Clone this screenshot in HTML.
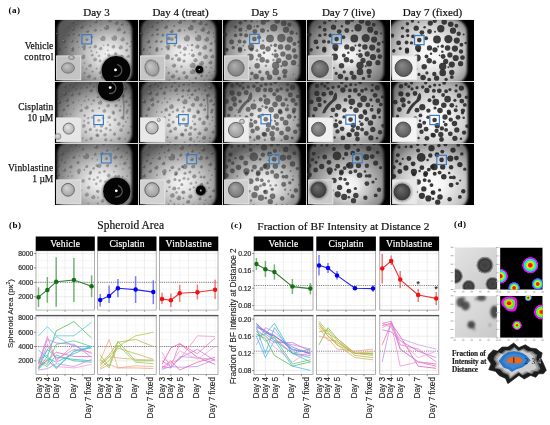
<!DOCTYPE html>
<html><head><meta charset="utf-8"><style>
html,body{margin:0;padding:0;background:#fff;width:550px;height:425px;overflow:hidden}
svg{display:block;will-change:transform}
</style></head><body>
<svg width="550" height="425" viewBox="0 0 550 425">
<defs><filter id="blf" x="-30%" y="-30%" width="160%" height="160%"><feGaussianBlur stdDeviation="1.3"/></filter><filter id="bl3" x="-30%" y="-30%" width="160%" height="160%"><feGaussianBlur stdDeviation="3"/></filter><filter id="bl25" x="-30%" y="-30%" width="160%" height="160%"><feGaussianBlur stdDeviation="2.5"/></filter><filter id="bl1" x="-30%" y="-30%" width="160%" height="160%"><feGaussianBlur stdDeviation="0.8"/></filter><filter id="bl05" x="-30%" y="-30%" width="160%" height="160%"><feGaussianBlur stdDeviation="0.45"/></filter><filter id="blh" x="-50%" y="-50%" width="200%" height="200%"><feGaussianBlur stdDeviation="1.2"/></filter><clipPath id="c00"><rect x="0" y="0" width="83" height="61"/></clipPath><radialGradient id="g00" gradientUnits="userSpaceOnUse" cx="54" cy="35" r="50" gradientTransform="translate(54 35) scale(1 0.84) translate(-54 -35)"><stop offset="0" stop-color="#f4f4f4"/><stop offset="0.2" stop-color="#e6e6e6"/><stop offset="0.45" stop-color="#c4c4c4"/><stop offset="0.75" stop-color="#8e8e8e"/><stop offset="1" stop-color="#585858"/></radialGradient><radialGradient id="sp000" cx="0.5" cy="0.5" r="0.55" fx="0.38" fy="0.32"><stop offset="0" stop-color="#c6c6c6"/><stop offset="0.65" stop-color="#a4a4a4"/><stop offset="1" stop-color="#8e8e8e"/></radialGradient><radialGradient id="sp001" cx="0.5" cy="0.5" r="0.55" fx="0.38" fy="0.32"><stop offset="0" stop-color="#cccccc"/><stop offset="0.65" stop-color="#aaaaaa"/><stop offset="1" stop-color="#949494"/></radialGradient><clipPath id="c01"><rect x="0" y="0" width="83" height="61"/></clipPath><radialGradient id="g01" gradientUnits="userSpaceOnUse" cx="45" cy="34" r="50" gradientTransform="translate(45 34) scale(1 0.84) translate(-45 -34)"><stop offset="0" stop-color="#f4f4f4"/><stop offset="0.2" stop-color="#e6e6e6"/><stop offset="0.45" stop-color="#c4c4c4"/><stop offset="0.75" stop-color="#8e8e8e"/><stop offset="1" stop-color="#585858"/></radialGradient><radialGradient id="sp010" cx="0.5" cy="0.5" r="0.55" fx="0.38" fy="0.32"><stop offset="0" stop-color="#cacaca"/><stop offset="0.65" stop-color="#a8a8a8"/><stop offset="1" stop-color="#929292"/></radialGradient><clipPath id="c02"><rect x="0" y="0" width="83" height="61"/></clipPath><radialGradient id="g02" gradientUnits="userSpaceOnUse" cx="42" cy="35" r="50" gradientTransform="translate(42 35) scale(1 0.84) translate(-42 -35)"><stop offset="0" stop-color="#f4f4f4"/><stop offset="0.2" stop-color="#e6e6e6"/><stop offset="0.45" stop-color="#c4c4c4"/><stop offset="0.75" stop-color="#8e8e8e"/><stop offset="1" stop-color="#585858"/></radialGradient><radialGradient id="sp020" cx="0.5" cy="0.5" r="0.55" fx="0.38" fy="0.32"><stop offset="0" stop-color="#b0b0b0"/><stop offset="0.65" stop-color="#8e8e8e"/><stop offset="1" stop-color="#787878"/></radialGradient><clipPath id="c03"><rect x="0" y="0" width="83" height="61"/></clipPath><radialGradient id="g03" gradientUnits="userSpaceOnUse" cx="40" cy="35" r="48" gradientTransform="translate(40 35) scale(1 0.875) translate(-40 -35)"><stop offset="0" stop-color="#f8f8f8"/><stop offset="0.18" stop-color="#eeeeee"/><stop offset="0.5" stop-color="#b4b4b4"/><stop offset="0.8" stop-color="#848484"/><stop offset="1" stop-color="#5a5a5a"/></radialGradient><radialGradient id="sp030" cx="0.5" cy="0.5" r="0.55" fx="0.38" fy="0.32"><stop offset="0" stop-color="#8c8c8c"/><stop offset="0.65" stop-color="#6a6a6a"/><stop offset="1" stop-color="#545454"/></radialGradient><clipPath id="c04"><rect x="0" y="0" width="83" height="61"/></clipPath><radialGradient id="g04" gradientUnits="userSpaceOnUse" cx="40" cy="32" r="48" gradientTransform="translate(40 32) scale(1 0.9166666666666666) translate(-40 -32)"><stop offset="0" stop-color="#fcfcfc"/><stop offset="0.25" stop-color="#f4f4f4"/><stop offset="0.65" stop-color="#cacaca"/><stop offset="0.9" stop-color="#9a9a9a"/><stop offset="1" stop-color="#7a7a7a"/></radialGradient><radialGradient id="sp040" cx="0.5" cy="0.5" r="0.55" fx="0.38" fy="0.32"><stop offset="0" stop-color="#8a8a8a"/><stop offset="0.65" stop-color="#686868"/><stop offset="1" stop-color="#525252"/></radialGradient><clipPath id="c10"><rect x="0" y="0" width="83" height="61"/></clipPath><radialGradient id="g10" gradientUnits="userSpaceOnUse" cx="46" cy="40" r="50" gradientTransform="translate(46 40) scale(1 0.84) translate(-46 -40)"><stop offset="0" stop-color="#f4f4f4"/><stop offset="0.2" stop-color="#e6e6e6"/><stop offset="0.45" stop-color="#c4c4c4"/><stop offset="0.75" stop-color="#8e8e8e"/><stop offset="1" stop-color="#585858"/></radialGradient><radialGradient id="sp100" cx="0.5" cy="0.5" r="0.55" fx="0.38" fy="0.32"><stop offset="0" stop-color="#e6e6e6"/><stop offset="0.65" stop-color="#c4c4c4"/><stop offset="1" stop-color="#aeaeae"/></radialGradient><radialGradient id="sp101" cx="0.5" cy="0.5" r="0.55" fx="0.38" fy="0.32"><stop offset="0" stop-color="#e2e2e2"/><stop offset="0.65" stop-color="#c0c0c0"/><stop offset="1" stop-color="#aaaaaa"/></radialGradient><clipPath id="c11"><rect x="0" y="0" width="83" height="61"/></clipPath><radialGradient id="g11" gradientUnits="userSpaceOnUse" cx="43" cy="38" r="50" gradientTransform="translate(43 38) scale(1 0.84) translate(-43 -38)"><stop offset="0" stop-color="#f4f4f4"/><stop offset="0.2" stop-color="#e6e6e6"/><stop offset="0.45" stop-color="#c4c4c4"/><stop offset="0.75" stop-color="#8e8e8e"/><stop offset="1" stop-color="#585858"/></radialGradient><radialGradient id="sp110" cx="0.5" cy="0.5" r="0.55" fx="0.38" fy="0.32"><stop offset="0" stop-color="#dedede"/><stop offset="0.65" stop-color="#bcbcbc"/><stop offset="1" stop-color="#a6a6a6"/></radialGradient><radialGradient id="sp111" cx="0.5" cy="0.5" r="0.55" fx="0.38" fy="0.32"><stop offset="0" stop-color="#dddddd"/><stop offset="0.65" stop-color="#bbb"/><stop offset="1" stop-color="#a5a5a5"/></radialGradient><clipPath id="c12"><rect x="0" y="0" width="83" height="61"/></clipPath><radialGradient id="g12" gradientUnits="userSpaceOnUse" cx="42" cy="38" r="50" gradientTransform="translate(42 38) scale(1 0.84) translate(-42 -38)"><stop offset="0" stop-color="#f4f4f4"/><stop offset="0.2" stop-color="#e6e6e6"/><stop offset="0.45" stop-color="#c4c4c4"/><stop offset="0.75" stop-color="#8e8e8e"/><stop offset="1" stop-color="#585858"/></radialGradient><radialGradient id="sp120" cx="0.5" cy="0.5" r="0.55" fx="0.38" fy="0.32"><stop offset="0" stop-color="#cacaca"/><stop offset="0.65" stop-color="#a8a8a8"/><stop offset="1" stop-color="#929292"/></radialGradient><radialGradient id="sp121" cx="0.5" cy="0.5" r="0.55" fx="0.38" fy="0.32"><stop offset="0" stop-color="#dddddd"/><stop offset="0.65" stop-color="#bbb"/><stop offset="1" stop-color="#a5a5a5"/></radialGradient><clipPath id="c13"><rect x="0" y="0" width="83" height="61"/></clipPath><radialGradient id="g13" gradientUnits="userSpaceOnUse" cx="43" cy="38" r="48" gradientTransform="translate(43 38) scale(1 0.875) translate(-43 -38)"><stop offset="0" stop-color="#f8f8f8"/><stop offset="0.18" stop-color="#eeeeee"/><stop offset="0.5" stop-color="#b4b4b4"/><stop offset="0.8" stop-color="#848484"/><stop offset="1" stop-color="#5a5a5a"/></radialGradient><radialGradient id="sp130" cx="0.5" cy="0.5" r="0.55" fx="0.38" fy="0.32"><stop offset="0" stop-color="#9c9c9c"/><stop offset="0.65" stop-color="#7a7a7a"/><stop offset="1" stop-color="#646464"/></radialGradient><clipPath id="c14"><rect x="0" y="0" width="83" height="61"/></clipPath><radialGradient id="g14" gradientUnits="userSpaceOnUse" cx="45" cy="37" r="48" gradientTransform="translate(45 37) scale(1 0.9166666666666666) translate(-45 -37)"><stop offset="0" stop-color="#fcfcfc"/><stop offset="0.25" stop-color="#f4f4f4"/><stop offset="0.65" stop-color="#cacaca"/><stop offset="0.9" stop-color="#9a9a9a"/><stop offset="1" stop-color="#7a7a7a"/></radialGradient><radialGradient id="sp140" cx="0.5" cy="0.5" r="0.55" fx="0.38" fy="0.32"><stop offset="0" stop-color="#8c8c8c"/><stop offset="0.65" stop-color="#6a6a6a"/><stop offset="1" stop-color="#545454"/></radialGradient><clipPath id="c20"><rect x="0" y="0" width="83" height="61"/></clipPath><radialGradient id="g20" gradientUnits="userSpaceOnUse" cx="45" cy="37" r="50" gradientTransform="translate(45 37) scale(1 0.84) translate(-45 -37)"><stop offset="0" stop-color="#f4f4f4"/><stop offset="0.2" stop-color="#e6e6e6"/><stop offset="0.45" stop-color="#c4c4c4"/><stop offset="0.75" stop-color="#8e8e8e"/><stop offset="1" stop-color="#585858"/></radialGradient><radialGradient id="sp200" cx="0.5" cy="0.5" r="0.55" fx="0.38" fy="0.32"><stop offset="0" stop-color="#d6d6d6"/><stop offset="0.65" stop-color="#b4b4b4"/><stop offset="1" stop-color="#9e9e9e"/></radialGradient><clipPath id="c21"><rect x="0" y="0" width="83" height="61"/></clipPath><radialGradient id="g21" gradientUnits="userSpaceOnUse" cx="42" cy="39" r="50" gradientTransform="translate(42 39) scale(1 0.84) translate(-42 -39)"><stop offset="0" stop-color="#f4f4f4"/><stop offset="0.2" stop-color="#e6e6e6"/><stop offset="0.45" stop-color="#c4c4c4"/><stop offset="0.75" stop-color="#8e8e8e"/><stop offset="1" stop-color="#585858"/></radialGradient><radialGradient id="sp210" cx="0.5" cy="0.5" r="0.55" fx="0.38" fy="0.32"><stop offset="0" stop-color="#cecece"/><stop offset="0.65" stop-color="#acacac"/><stop offset="1" stop-color="#969696"/></radialGradient><clipPath id="c22"><rect x="0" y="0" width="83" height="61"/></clipPath><radialGradient id="g22" gradientUnits="userSpaceOnUse" cx="42" cy="41" r="50" gradientTransform="translate(42 41) scale(1 0.84) translate(-42 -41)"><stop offset="0" stop-color="#f4f4f4"/><stop offset="0.2" stop-color="#e6e6e6"/><stop offset="0.45" stop-color="#c4c4c4"/><stop offset="0.75" stop-color="#8e8e8e"/><stop offset="1" stop-color="#585858"/></radialGradient><radialGradient id="sp220" cx="0.5" cy="0.5" r="0.55" fx="0.38" fy="0.32"><stop offset="0" stop-color="#a7a7a7"/><stop offset="0.65" stop-color="#858585"/><stop offset="1" stop-color="#6f6f6f"/></radialGradient><clipPath id="c23"><rect x="0" y="0" width="83" height="61"/></clipPath><radialGradient id="g23" gradientUnits="userSpaceOnUse" cx="42" cy="41" r="48" gradientTransform="translate(42 41) scale(1 0.875) translate(-42 -41)"><stop offset="0" stop-color="#f8f8f8"/><stop offset="0.18" stop-color="#eeeeee"/><stop offset="0.5" stop-color="#b4b4b4"/><stop offset="0.8" stop-color="#848484"/><stop offset="1" stop-color="#5a5a5a"/></radialGradient><radialGradient id="sp231" cx="0.5" cy="0.5" r="0.55" fx="0.38" fy="0.32"><stop offset="0" stop-color="#6e6e6e"/><stop offset="0.65" stop-color="#4c4c4c"/><stop offset="1" stop-color="#363636"/></radialGradient><clipPath id="c24"><rect x="0" y="0" width="83" height="61"/></clipPath><radialGradient id="g24" gradientUnits="userSpaceOnUse" cx="42" cy="40" r="48" gradientTransform="translate(42 40) scale(1 0.9166666666666666) translate(-42 -40)"><stop offset="0" stop-color="#fcfcfc"/><stop offset="0.25" stop-color="#f4f4f4"/><stop offset="0.65" stop-color="#cacaca"/><stop offset="0.9" stop-color="#9a9a9a"/><stop offset="1" stop-color="#7a7a7a"/></radialGradient><radialGradient id="sp241" cx="0.5" cy="0.5" r="0.55" fx="0.38" fy="0.32"><stop offset="0" stop-color="#6c6c6c"/><stop offset="0.65" stop-color="#4a4a4a"/><stop offset="1" stop-color="#343434"/></radialGradient><clipPath id="dc1"><rect x="454.8" y="247.3" width="42.3" height="42.2"/></clipPath><clipPath id="dc2"><rect x="500.1" y="247.5" width="42.6" height="42.2"/></clipPath><clipPath id="dc3"><rect x="454.8" y="295.8" width="42.3" height="42"/></clipPath><clipPath id="dc4"><rect x="500.1" y="295.8" width="42.6" height="42"/></clipPath><linearGradient id="bfbg" x1="0" y1="0" x2="1" y2="1"><stop offset="0" stop-color="#e4e4e4"/><stop offset="1" stop-color="#c8c8c8"/></linearGradient><radialGradient id="sph"><stop offset="0" stop-color="#3c3c3c"/><stop offset="0.5" stop-color="#484848"/><stop offset="0.72" stop-color="#353535"/><stop offset="0.84" stop-color="#5a5a5a"/><stop offset="0.92" stop-color="#909090"/><stop offset="1" stop-color="#707070"/></radialGradient><radialGradient id="heatA"><stop offset="0" stop-color="#ff0000"/><stop offset="0.22" stop-color="#ff2000"/><stop offset="0.35" stop-color="#ffe000"/><stop offset="0.5" stop-color="#80ff30"/><stop offset="0.62" stop-color="#00f0c0"/><stop offset="0.75" stop-color="#00e8ff"/><stop offset="0.82" stop-color="#ff00ff"/><stop offset="0.97" stop-color="#ff00ff"/><stop offset="1" stop-color="#ff00ff" stop-opacity="0"/></radialGradient><radialGradient id="heatB"><stop offset="0" stop-color="#ff0000"/><stop offset="0.25" stop-color="#ff3000"/><stop offset="0.4" stop-color="#f0f000"/><stop offset="0.55" stop-color="#60ff40"/><stop offset="0.72" stop-color="#00e0ff"/><stop offset="0.85" stop-color="#6040ff"/><stop offset="0.97" stop-color="#8040ff"/><stop offset="1" stop-color="#8040ff" stop-opacity="0"/></radialGradient><radialGradient id="heatC"><stop offset="0" stop-color="#ff0000"/><stop offset="0.2" stop-color="#ff4000"/><stop offset="0.38" stop-color="#e0f000"/><stop offset="0.55" stop-color="#40ff40"/><stop offset="0.7" stop-color="#30ff60"/><stop offset="0.78" stop-color="#ff00ff"/><stop offset="0.97" stop-color="#ff00ff"/><stop offset="1" stop-color="#ff00ff" stop-opacity="0"/></radialGradient></defs>
<rect x="54.6" y="19.6" width="419" height="185.6" fill="#d4d4d4"/>
<text x="8.6" y="13.4" font-family="Liberation Serif, serif" font-weight="bold" font-size="9" letter-spacing="0.5">(a)</text>
<text x="96.5" y="16" font-family="Liberation Serif, serif" font-size="11" text-anchor="middle" fill="#111" stroke="#111" stroke-width="0.22">Day 3</text>
<text x="180.5" y="16" font-family="Liberation Serif, serif" font-size="11" text-anchor="middle" fill="#111" stroke="#111" stroke-width="0.22">Day 4 (treat)</text>
<text x="264.5" y="16" font-family="Liberation Serif, serif" font-size="11" text-anchor="middle" fill="#111" stroke="#111" stroke-width="0.22">Day 5</text>
<text x="348.5" y="16" font-family="Liberation Serif, serif" font-size="11" text-anchor="middle" fill="#111" stroke="#111" stroke-width="0.22">Day 7 (live)</text>
<text x="432.5" y="16" font-family="Liberation Serif, serif" font-size="11" text-anchor="middle" fill="#111" stroke="#111" stroke-width="0.22">Day 7 (fixed)</text>
<text x="53.30" y="48.6" font-family="Liberation Serif, serif" font-size="9.5" text-anchor="end" letter-spacing="0" fill="#1a1a1a" stroke="#1a1a1a" stroke-width="0.25">Vehicle</text>
<text x="53.65" y="59.7" font-family="Liberation Serif, serif" font-size="9.5" text-anchor="end" letter-spacing="0.35" fill="#1a1a1a" stroke="#1a1a1a" stroke-width="0.25">control</text>
<text x="53.40" y="110.2" font-family="Liberation Serif, serif" font-size="9.5" text-anchor="end" letter-spacing="0.1" fill="#1a1a1a" stroke="#1a1a1a" stroke-width="0.25">Cisplatin</text>
<text x="53.30" y="121.3" font-family="Liberation Serif, serif" font-size="9.5" text-anchor="end" letter-spacing="0" fill="#1a1a1a" stroke="#1a1a1a" stroke-width="0.25">10 µM</text>
<text x="53.50" y="171.4" font-family="Liberation Serif, serif" font-size="9.5" text-anchor="end" letter-spacing="0.2" fill="#1a1a1a" stroke="#1a1a1a" stroke-width="0.25">Vinblastine</text>
<text x="53.30" y="182" font-family="Liberation Serif, serif" font-size="9.5" text-anchor="end" letter-spacing="0" fill="#1a1a1a" stroke="#1a1a1a" stroke-width="0.25">1 µM</text>
<g transform="translate(55 20)" clip-path="url(#c00)">
<rect x="0" y="0" width="83" height="61" fill="#000"/>
<rect x="2.2" y="-2" width="74.6" height="66" rx="12" fill="url(#g00)" filter="url(#blf)"/>
<g filter="url(#bl05)"><circle cx="3.8" cy="0.1" r="0.63" fill="#303030" fill-opacity="0.29"/><circle cx="3.3" cy="-0.3" r="0.27" fill="#fff" fill-opacity="0.32"/><circle cx="34.8" cy="0.3" r="0.80" fill="#303030" fill-opacity="0.29"/><circle cx="34.3" cy="-0.2" r="0.34" fill="#fff" fill-opacity="0.32"/><circle cx="7.2" cy="4.6" r="0.64" fill="#303030" fill-opacity="0.29"/><circle cx="6.8" cy="4.2" r="0.27" fill="#fff" fill-opacity="0.32"/><circle cx="21.8" cy="4.2" r="0.80" fill="#303030" fill-opacity="0.29"/><circle cx="21.3" cy="3.7" r="0.33" fill="#fff" fill-opacity="0.32"/><circle cx="30.9" cy="4.1" r="0.77" fill="#303030" fill-opacity="0.29"/><circle cx="30.4" cy="3.6" r="0.32" fill="#fff" fill-opacity="0.32"/><circle cx="45.9" cy="4.0" r="0.70" fill="#303030" fill-opacity="0.29"/><circle cx="45.5" cy="3.5" r="0.30" fill="#fff" fill-opacity="0.32"/><circle cx="72.4" cy="4.7" r="0.77" fill="#303030" fill-opacity="0.29"/><circle cx="71.9" cy="4.2" r="0.32" fill="#fff" fill-opacity="0.32"/><circle cx="9.9" cy="8.9" r="0.65" fill="#303030" fill-opacity="0.29"/><circle cx="9.5" cy="8.4" r="0.27" fill="#fff" fill-opacity="0.32"/><circle cx="74.8" cy="9.6" r="0.92" fill="#303030" fill-opacity="0.29"/><circle cx="74.2" cy="9.0" r="0.39" fill="#fff" fill-opacity="0.32"/><circle cx="19.8" cy="18.2" r="0.72" fill="#303030" fill-opacity="0.29"/><circle cx="19.4" cy="17.7" r="0.30" fill="#fff" fill-opacity="0.32"/><circle cx="26.9" cy="21.9" r="0.77" fill="#303030" fill-opacity="0.29"/><circle cx="26.4" cy="21.4" r="0.32" fill="#fff" fill-opacity="0.32"/><circle cx="36.6" cy="22.0" r="1.15" fill="#303030" fill-opacity="0.29"/><circle cx="35.9" cy="21.2" r="0.48" fill="#fff" fill-opacity="0.32"/><circle cx="23.8" cy="27.0" r="0.85" fill="#303030" fill-opacity="0.29"/><circle cx="23.2" cy="26.5" r="0.36" fill="#fff" fill-opacity="0.32"/><circle cx="34.9" cy="27.2" r="1.27" fill="#303030" fill-opacity="0.29"/><circle cx="34.1" cy="26.4" r="0.53" fill="#fff" fill-opacity="0.32"/><circle cx="74.8" cy="26.4" r="0.91" fill="#303030" fill-opacity="0.29"/><circle cx="74.2" cy="25.8" r="0.38" fill="#fff" fill-opacity="0.32"/><circle cx="36.3" cy="30.9" r="1.07" fill="#303030" fill-opacity="0.29"/><circle cx="35.6" cy="30.2" r="0.45" fill="#fff" fill-opacity="0.32"/><circle cx="43.9" cy="35.8" r="1.38" fill="#303030" fill-opacity="0.29"/><circle cx="43.0" cy="34.9" r="0.58" fill="#fff" fill-opacity="0.32"/><circle cx="29.5" cy="43.1" r="1.01" fill="#303030" fill-opacity="0.29"/><circle cx="28.9" cy="42.4" r="0.42" fill="#fff" fill-opacity="0.32"/><circle cx="31.3" cy="48.8" r="1.12" fill="#303030" fill-opacity="0.29"/><circle cx="30.5" cy="48.1" r="0.47" fill="#fff" fill-opacity="0.32"/><circle cx="41.6" cy="48.6" r="1.15" fill="#303030" fill-opacity="0.29"/><circle cx="40.8" cy="47.9" r="0.48" fill="#fff" fill-opacity="0.32"/><circle cx="28.9" cy="61.7" r="0.62" fill="#303030" fill-opacity="0.29"/><circle cx="28.5" cy="61.3" r="0.26" fill="#fff" fill-opacity="0.32"/><circle cx="44.3" cy="61.7" r="0.89" fill="#303030" fill-opacity="0.29"/><circle cx="43.7" cy="61.1" r="0.37" fill="#fff" fill-opacity="0.32"/><circle cx="74.4" cy="62.0" r="0.79" fill="#303030" fill-opacity="0.29"/><circle cx="73.9" cy="61.4" r="0.33" fill="#fff" fill-opacity="0.32"/><circle cx="23.1" cy="-0.2" r="1.18" fill="#303030" fill-opacity="0.36"/><circle cx="22.4" cy="-0.9" r="0.44" fill="#fff" fill-opacity="0.32"/><circle cx="18.1" cy="2.5" r="1.18" fill="#303030" fill-opacity="0.36"/><circle cx="17.4" cy="1.8" r="0.44" fill="#fff" fill-opacity="0.32"/><circle cx="29.1" cy="0.9" r="0.71" fill="#303030" fill-opacity="0.36"/><circle cx="28.7" cy="0.5" r="0.26" fill="#fff" fill-opacity="0.32"/><circle cx="41.0" cy="1.8" r="1.80" fill="#303030" fill-opacity="0.36"/><circle cx="40.0" cy="0.8" r="0.68" fill="#fff" fill-opacity="0.32"/><circle cx="26.9" cy="6.9" r="1.80" fill="#303030" fill-opacity="0.36"/><circle cx="25.9" cy="5.9" r="0.68" fill="#fff" fill-opacity="0.32"/><circle cx="35.2" cy="5.9" r="0.86" fill="#303030" fill-opacity="0.36"/><circle cx="34.7" cy="5.4" r="0.32" fill="#fff" fill-opacity="0.32"/><circle cx="13.1" cy="6.6" r="1.10" fill="#303030" fill-opacity="0.36"/><circle cx="12.5" cy="6.0" r="0.41" fill="#fff" fill-opacity="0.32"/><circle cx="18.1" cy="9.4" r="1.33" fill="#303030" fill-opacity="0.36"/><circle cx="17.3" cy="8.6" r="0.50" fill="#fff" fill-opacity="0.32"/><circle cx="32.6" cy="11.3" r="1.65" fill="#303030" fill-opacity="0.36"/><circle cx="31.7" cy="10.4" r="0.62" fill="#fff" fill-opacity="0.32"/><circle cx="40.2" cy="10.2" r="1.65" fill="#303030" fill-opacity="0.36"/><circle cx="39.3" cy="9.3" r="0.62" fill="#fff" fill-opacity="0.32"/><circle cx="2.8" cy="14.3" r="1.49" fill="#303030" fill-opacity="0.36"/><circle cx="1.9" cy="13.4" r="0.56" fill="#fff" fill-opacity="0.32"/><circle cx="13.2" cy="15.1" r="1.18" fill="#303030" fill-opacity="0.36"/><circle cx="12.5" cy="14.4" r="0.44" fill="#fff" fill-opacity="0.32"/><circle cx="18.4" cy="14.2" r="1.10" fill="#303030" fill-opacity="0.36"/><circle cx="17.8" cy="13.6" r="0.41" fill="#fff" fill-opacity="0.32"/><circle cx="23.8" cy="15.1" r="1.33" fill="#303030" fill-opacity="0.36"/><circle cx="23.0" cy="14.3" r="0.50" fill="#fff" fill-opacity="0.32"/><circle cx="36.8" cy="17.0" r="1.33" fill="#303030" fill-opacity="0.36"/><circle cx="36.0" cy="16.2" r="0.50" fill="#fff" fill-opacity="0.32"/><circle cx="9.3" cy="21.6" r="1.65" fill="#303030" fill-opacity="0.36"/><circle cx="8.4" cy="20.7" r="0.62" fill="#fff" fill-opacity="0.32"/><circle cx="17.3" cy="21.2" r="1.33" fill="#303030" fill-opacity="0.36"/><circle cx="16.5" cy="20.4" r="0.50" fill="#fff" fill-opacity="0.32"/><circle cx="22.2" cy="21.6" r="1.18" fill="#303030" fill-opacity="0.36"/><circle cx="21.5" cy="20.9" r="0.44" fill="#fff" fill-opacity="0.32"/><circle cx="28.9" cy="26.7" r="2.12" fill="#303030" fill-opacity="0.36"/><circle cx="27.7" cy="25.5" r="0.79" fill="#fff" fill-opacity="0.32"/><circle cx="40.2" cy="26.6" r="1.80" fill="#303030" fill-opacity="0.36"/><circle cx="39.2" cy="25.6" r="0.68" fill="#fff" fill-opacity="0.32"/><circle cx="10.8" cy="27.2" r="1.10" fill="#303030" fill-opacity="0.36"/><circle cx="10.2" cy="26.6" r="0.41" fill="#fff" fill-opacity="0.32"/><circle cx="17.7" cy="28.5" r="1.49" fill="#303030" fill-opacity="0.36"/><circle cx="16.8" cy="27.6" r="0.56" fill="#fff" fill-opacity="0.32"/><circle cx="4.6" cy="28.8" r="0.86" fill="#303030" fill-opacity="0.36"/><circle cx="4.1" cy="28.3" r="0.32" fill="#fff" fill-opacity="0.32"/><circle cx="45.4" cy="-0.5" r="1.49" fill="#303030" fill-opacity="0.36"/><circle cx="44.5" cy="-1.4" r="0.56" fill="#fff" fill-opacity="0.32"/><circle cx="55.0" cy="0.7" r="1.88" fill="#303030" fill-opacity="0.36"/><circle cx="53.9" cy="-0.4" r="0.71" fill="#fff" fill-opacity="0.32"/><circle cx="61.5" cy="3.0" r="1.88" fill="#303030" fill-opacity="0.36"/><circle cx="60.4" cy="1.9" r="0.71" fill="#fff" fill-opacity="0.32"/><circle cx="67.1" cy="4.4" r="1.33" fill="#303030" fill-opacity="0.36"/><circle cx="66.3" cy="3.6" r="0.50" fill="#fff" fill-opacity="0.32"/><circle cx="51.6" cy="7.6" r="2.51" fill="#303030" fill-opacity="0.36"/><circle cx="50.2" cy="6.2" r="0.94" fill="#fff" fill-opacity="0.32"/><circle cx="63.8" cy="9.5" r="2.12" fill="#303030" fill-opacity="0.36"/><circle cx="62.6" cy="8.3" r="0.79" fill="#fff" fill-opacity="0.32"/><circle cx="45.6" cy="10.4" r="0.71" fill="#303030" fill-opacity="0.36"/><circle cx="45.2" cy="10.0" r="0.26" fill="#fff" fill-opacity="0.32"/><circle cx="69.4" cy="12.4" r="1.49" fill="#303030" fill-opacity="0.36"/><circle cx="68.5" cy="11.5" r="0.56" fill="#fff" fill-opacity="0.32"/><circle cx="74.3" cy="13.1" r="0.71" fill="#303030" fill-opacity="0.36"/><circle cx="73.9" cy="12.7" r="0.26" fill="#fff" fill-opacity="0.32"/><circle cx="47.9" cy="18.4" r="2.67" fill="#303030" fill-opacity="0.36"/><circle cx="46.3" cy="16.8" r="1.00" fill="#fff" fill-opacity="0.32"/><circle cx="59.3" cy="18.0" r="2.82" fill="#303030" fill-opacity="0.36"/><circle cx="57.6" cy="16.3" r="1.06" fill="#fff" fill-opacity="0.32"/><circle cx="67.6" cy="19.4" r="2.12" fill="#303030" fill-opacity="0.36"/><circle cx="66.4" cy="18.2" r="0.79" fill="#fff" fill-opacity="0.32"/><circle cx="72.1" cy="23.5" r="1.33" fill="#303030" fill-opacity="0.36"/><circle cx="71.3" cy="22.7" r="0.50" fill="#fff" fill-opacity="0.32"/><circle cx="53.0" cy="25.0" r="1.18" fill="#303030" fill-opacity="0.36"/><circle cx="52.3" cy="24.3" r="0.44" fill="#fff" fill-opacity="0.32"/><circle cx="48.7" cy="25.2" r="0.71" fill="#303030" fill-opacity="0.36"/><circle cx="48.3" cy="24.8" r="0.26" fill="#fff" fill-opacity="0.32"/><circle cx="58.4" cy="26.7" r="1.88" fill="#303030" fill-opacity="0.36"/><circle cx="57.3" cy="25.6" r="0.71" fill="#fff" fill-opacity="0.32"/><circle cx="65.7" cy="27.4" r="2.12" fill="#303030" fill-opacity="0.36"/><circle cx="64.5" cy="26.2" r="0.79" fill="#fff" fill-opacity="0.32"/><circle cx="45.7" cy="28.5" r="1.80" fill="#303030" fill-opacity="0.36"/><circle cx="44.7" cy="27.5" r="0.68" fill="#fff" fill-opacity="0.32"/><circle cx="76.2" cy="21.5" r="0.86" fill="#303030" fill-opacity="0.36"/><circle cx="75.7" cy="21.0" r="0.32" fill="#fff" fill-opacity="0.32"/><circle cx="4.4" cy="29.8" r="1.18" fill="#303030" fill-opacity="0.36"/><circle cx="3.7" cy="29.1" r="0.44" fill="#fff" fill-opacity="0.32"/><circle cx="17.7" cy="30.2" r="1.49" fill="#303030" fill-opacity="0.36"/><circle cx="16.8" cy="29.3" r="0.56" fill="#fff" fill-opacity="0.32"/><circle cx="29.2" cy="29.1" r="1.33" fill="#303030" fill-opacity="0.36"/><circle cx="28.4" cy="28.3" r="0.50" fill="#fff" fill-opacity="0.32"/><circle cx="28.1" cy="36.8" r="2.35" fill="#303030" fill-opacity="0.36"/><circle cx="26.8" cy="35.5" r="0.88" fill="#fff" fill-opacity="0.32"/><circle cx="37.2" cy="35.2" r="1.33" fill="#303030" fill-opacity="0.36"/><circle cx="36.4" cy="34.4" r="0.50" fill="#fff" fill-opacity="0.32"/><circle cx="41.6" cy="32.4" r="0.86" fill="#303030" fill-opacity="0.36"/><circle cx="41.1" cy="31.9" r="0.32" fill="#fff" fill-opacity="0.32"/><circle cx="40.0" cy="39.5" r="1.88" fill="#303030" fill-opacity="0.36"/><circle cx="38.9" cy="38.4" r="0.71" fill="#fff" fill-opacity="0.32"/><circle cx="35.0" cy="45.6" r="1.88" fill="#303030" fill-opacity="0.36"/><circle cx="33.9" cy="44.5" r="0.71" fill="#fff" fill-opacity="0.32"/><circle cx="37.5" cy="51.5" r="1.10" fill="#303030" fill-opacity="0.36"/><circle cx="36.9" cy="50.9" r="0.41" fill="#fff" fill-opacity="0.32"/><circle cx="29.5" cy="53.0" r="1.10" fill="#303030" fill-opacity="0.36"/><circle cx="28.9" cy="52.4" r="0.41" fill="#fff" fill-opacity="0.32"/><circle cx="33.9" cy="56.3" r="1.88" fill="#303030" fill-opacity="0.36"/><circle cx="32.8" cy="55.2" r="0.71" fill="#fff" fill-opacity="0.32"/><circle cx="39.9" cy="58.5" r="1.33" fill="#303030" fill-opacity="0.36"/><circle cx="39.1" cy="57.7" r="0.50" fill="#fff" fill-opacity="0.32"/><circle cx="27.2" cy="47.6" r="0.63" fill="#303030" fill-opacity="0.36"/><circle cx="26.8" cy="47.2" r="0.24" fill="#fff" fill-opacity="0.32"/><circle cx="52.9" cy="30.3" r="0.86" fill="#303030" fill-opacity="0.36"/><circle cx="52.4" cy="29.8" r="0.32" fill="#fff" fill-opacity="0.32"/><circle cx="60.6" cy="33.7" r="1.80" fill="#303030" fill-opacity="0.36"/><circle cx="59.6" cy="32.7" r="0.68" fill="#fff" fill-opacity="0.32"/><circle cx="71.7" cy="30.2" r="1.49" fill="#303030" fill-opacity="0.36"/><circle cx="70.8" cy="29.3" r="0.56" fill="#fff" fill-opacity="0.32"/><circle cx="53.8" cy="35.2" r="1.65" fill="#303030" fill-opacity="0.36"/><circle cx="52.9" cy="34.3" r="0.62" fill="#fff" fill-opacity="0.32"/><circle cx="66.5" cy="36.8" r="2.12" fill="#303030" fill-opacity="0.36"/><circle cx="65.3" cy="35.6" r="0.79" fill="#fff" fill-opacity="0.32"/><circle cx="73.2" cy="36.3" r="1.65" fill="#303030" fill-opacity="0.36"/><circle cx="72.3" cy="35.4" r="0.62" fill="#fff" fill-opacity="0.32"/><circle cx="45.0" cy="40.9" r="1.33" fill="#303030" fill-opacity="0.36"/><circle cx="44.2" cy="40.1" r="0.50" fill="#fff" fill-opacity="0.32"/><circle cx="56.4" cy="40.2" r="1.80" fill="#303030" fill-opacity="0.36"/><circle cx="55.4" cy="39.2" r="0.68" fill="#fff" fill-opacity="0.32"/><circle cx="62.6" cy="43.3" r="2.12" fill="#303030" fill-opacity="0.36"/><circle cx="61.4" cy="42.1" r="0.79" fill="#fff" fill-opacity="0.32"/><circle cx="71.3" cy="42.4" r="1.80" fill="#303030" fill-opacity="0.36"/><circle cx="70.3" cy="41.4" r="0.68" fill="#fff" fill-opacity="0.32"/><circle cx="53.5" cy="45.2" r="2.51" fill="#303030" fill-opacity="0.36"/><circle cx="52.1" cy="43.8" r="0.94" fill="#fff" fill-opacity="0.32"/><circle cx="59.0" cy="45.8" r="0.71" fill="#303030" fill-opacity="0.36"/><circle cx="58.6" cy="45.4" r="0.26" fill="#fff" fill-opacity="0.32"/><circle cx="53.5" cy="51.7" r="2.27" fill="#303030" fill-opacity="0.36"/><circle cx="52.2" cy="50.4" r="0.85" fill="#fff" fill-opacity="0.32"/><circle cx="62.5" cy="51.2" r="1.80" fill="#303030" fill-opacity="0.36"/><circle cx="61.5" cy="50.2" r="0.68" fill="#fff" fill-opacity="0.32"/><circle cx="45.0" cy="52.7" r="1.49" fill="#303030" fill-opacity="0.36"/><circle cx="44.1" cy="51.8" r="0.56" fill="#fff" fill-opacity="0.32"/><circle cx="62.5" cy="55.8" r="1.33" fill="#303030" fill-opacity="0.36"/><circle cx="61.7" cy="55.0" r="0.50" fill="#fff" fill-opacity="0.32"/><circle cx="47.3" cy="56.9" r="1.80" fill="#303030" fill-opacity="0.36"/><circle cx="46.3" cy="55.9" r="0.68" fill="#fff" fill-opacity="0.32"/><circle cx="56.8" cy="58.1" r="1.18" fill="#303030" fill-opacity="0.36"/><circle cx="56.1" cy="57.4" r="0.44" fill="#fff" fill-opacity="0.32"/><circle cx="50.2" cy="33.9" r="0.63" fill="#303030" fill-opacity="0.36"/><circle cx="49.8" cy="33.5" r="0.24" fill="#fff" fill-opacity="0.32"/><circle cx="31.9" cy="19.5" r="1.57" fill="#303030" fill-opacity="0.36"/><circle cx="31.0" cy="18.6" r="0.59" fill="#fff" fill-opacity="0.32"/></g>
<circle cx="61" cy="50.4" r="15.1" fill="#000" fill-opacity="0.5" filter="url(#bl1)"/>
<circle cx="61" cy="50.4" r="14.5" fill="#050505"/>
<circle cx="61" cy="50.4" r="15.0" fill="none" stroke="#9a9a9a" stroke-width="0.7" stroke-opacity="0.6" filter="url(#bl05)"/>
<path d="M62.22 44.31 A6.09 6.09 0 0 1 59.17 56.19" fill="none" stroke="#555" stroke-width="1.3" filter="url(#bl05)"/>
<circle cx="60.5" cy="49.9" r="1.4" fill="#fff" filter="url(#bl05)"/>
<rect x="26.900000000000002" y="14.7" width="9.6" height="9.2" fill="none" stroke="#3d7cc4" stroke-width="1.2"/>
<g><rect x="1.6" y="35.9" width="24.2" height="23.9" fill="#c4c4c4" stroke="#e6e6e6" stroke-width="0.9"/>
<ellipse cx="13" cy="48" rx="6.5" ry="5.2" transform="rotate(0 13 48)" fill="url(#sp000)" stroke="#7a7a7a" stroke-width="0.9" filter="url(#bl05)"/>
<ellipse cx="16.5" cy="37.5" rx="3" ry="2" transform="rotate(0 16.5 37.5)" fill="url(#sp001)" stroke="#888" stroke-width="0.9" filter="url(#bl05)"/>
</g>
</g>
<g transform="translate(139 20)" clip-path="url(#c01)">
<rect x="0" y="0" width="83" height="61" fill="#000"/>
<rect x="2.2" y="-2" width="74.6" height="66" rx="12" fill="url(#g01)" filter="url(#blf)"/>
<g filter="url(#bl05)"><circle cx="3.3" cy="3.3" r="0.59" fill="#303030" fill-opacity="0.34"/><circle cx="2.9" cy="2.9" r="0.25" fill="#fff" fill-opacity="0.32"/><circle cx="8.3" cy="2.9" r="0.78" fill="#303030" fill-opacity="0.34"/><circle cx="7.8" cy="2.4" r="0.33" fill="#fff" fill-opacity="0.32"/><circle cx="72.7" cy="2.9" r="0.59" fill="#303030" fill-opacity="0.34"/><circle cx="72.3" cy="2.6" r="0.25" fill="#fff" fill-opacity="0.32"/><circle cx="5.7" cy="8.6" r="0.70" fill="#303030" fill-opacity="0.34"/><circle cx="5.2" cy="8.2" r="0.29" fill="#fff" fill-opacity="0.32"/><circle cx="9.6" cy="7.6" r="0.70" fill="#303030" fill-opacity="0.34"/><circle cx="9.1" cy="7.2" r="0.29" fill="#fff" fill-opacity="0.32"/><circle cx="70.9" cy="7.8" r="0.72" fill="#303030" fill-opacity="0.34"/><circle cx="70.4" cy="7.4" r="0.30" fill="#fff" fill-opacity="0.32"/><circle cx="8.0" cy="12.4" r="0.75" fill="#303030" fill-opacity="0.34"/><circle cx="7.5" cy="11.9" r="0.31" fill="#fff" fill-opacity="0.32"/><circle cx="56.9" cy="12.1" r="1.14" fill="#303030" fill-opacity="0.34"/><circle cx="56.1" cy="11.3" r="0.48" fill="#fff" fill-opacity="0.32"/><circle cx="74.8" cy="16.9" r="0.81" fill="#303030" fill-opacity="0.34"/><circle cx="74.2" cy="16.4" r="0.34" fill="#fff" fill-opacity="0.32"/><circle cx="5.8" cy="25.6" r="0.57" fill="#303030" fill-opacity="0.34"/><circle cx="5.5" cy="25.2" r="0.24" fill="#fff" fill-opacity="0.32"/><circle cx="35.8" cy="25.4" r="1.37" fill="#303030" fill-opacity="0.34"/><circle cx="34.9" cy="24.5" r="0.58" fill="#fff" fill-opacity="0.32"/><circle cx="8.2" cy="30.3" r="0.64" fill="#303030" fill-opacity="0.34"/><circle cx="7.8" cy="29.9" r="0.27" fill="#fff" fill-opacity="0.32"/><circle cx="22.8" cy="29.1" r="1.11" fill="#303030" fill-opacity="0.34"/><circle cx="22.1" cy="28.4" r="0.46" fill="#fff" fill-opacity="0.32"/><circle cx="10.5" cy="33.8" r="0.82" fill="#303030" fill-opacity="0.34"/><circle cx="9.9" cy="33.2" r="0.34" fill="#fff" fill-opacity="0.32"/><circle cx="45.6" cy="34.7" r="1.54" fill="#303030" fill-opacity="0.34"/><circle cx="44.6" cy="33.7" r="0.65" fill="#fff" fill-opacity="0.32"/><circle cx="33.3" cy="38.7" r="1.50" fill="#303030" fill-opacity="0.34"/><circle cx="32.3" cy="37.7" r="0.63" fill="#fff" fill-opacity="0.32"/><circle cx="42.4" cy="46.7" r="1.40" fill="#303030" fill-opacity="0.34"/><circle cx="41.5" cy="45.8" r="0.59" fill="#fff" fill-opacity="0.32"/><circle cx="67.1" cy="47.0" r="1.04" fill="#303030" fill-opacity="0.34"/><circle cx="66.4" cy="46.4" r="0.44" fill="#fff" fill-opacity="0.32"/><circle cx="72.2" cy="47.5" r="0.89" fill="#303030" fill-opacity="0.34"/><circle cx="71.6" cy="46.9" r="0.37" fill="#fff" fill-opacity="0.32"/><circle cx="70.2" cy="52.2" r="0.96" fill="#303030" fill-opacity="0.34"/><circle cx="69.6" cy="51.5" r="0.40" fill="#fff" fill-opacity="0.32"/><circle cx="75.3" cy="51.4" r="0.76" fill="#303030" fill-opacity="0.34"/><circle cx="74.8" cy="50.9" r="0.32" fill="#fff" fill-opacity="0.32"/><circle cx="67.6" cy="55.8" r="0.95" fill="#303030" fill-opacity="0.34"/><circle cx="67.0" cy="55.2" r="0.40" fill="#fff" fill-opacity="0.32"/><circle cx="73.0" cy="55.4" r="0.79" fill="#303030" fill-opacity="0.34"/><circle cx="72.5" cy="54.9" r="0.33" fill="#fff" fill-opacity="0.32"/><circle cx="30.4" cy="60.1" r="0.94" fill="#303030" fill-opacity="0.34"/><circle cx="29.8" cy="59.4" r="0.40" fill="#fff" fill-opacity="0.32"/><circle cx="35.1" cy="61.0" r="0.76" fill="#303030" fill-opacity="0.34"/><circle cx="34.6" cy="60.5" r="0.32" fill="#fff" fill-opacity="0.32"/><circle cx="50.3" cy="61.0" r="0.89" fill="#303030" fill-opacity="0.34"/><circle cx="49.7" cy="60.4" r="0.37" fill="#fff" fill-opacity="0.32"/><circle cx="65.0" cy="60.1" r="0.93" fill="#303030" fill-opacity="0.34"/><circle cx="64.4" cy="59.5" r="0.39" fill="#fff" fill-opacity="0.32"/><circle cx="69.9" cy="59.7" r="0.86" fill="#303030" fill-opacity="0.34"/><circle cx="69.3" cy="59.1" r="0.36" fill="#fff" fill-opacity="0.32"/><circle cx="75.5" cy="60.4" r="0.64" fill="#303030" fill-opacity="0.34"/><circle cx="75.1" cy="60.0" r="0.27" fill="#fff" fill-opacity="0.32"/><circle cx="23.1" cy="-0.2" r="1.34" fill="#303030" fill-opacity="0.42"/><circle cx="22.3" cy="-1.0" r="0.50" fill="#fff" fill-opacity="0.32"/><circle cx="18.1" cy="2.5" r="1.34" fill="#303030" fill-opacity="0.42"/><circle cx="17.3" cy="1.7" r="0.50" fill="#fff" fill-opacity="0.32"/><circle cx="29.1" cy="0.9" r="0.81" fill="#303030" fill-opacity="0.42"/><circle cx="28.6" cy="0.4" r="0.30" fill="#fff" fill-opacity="0.32"/><circle cx="41.1" cy="1.9" r="2.06" fill="#303030" fill-opacity="0.42"/><circle cx="39.9" cy="0.7" r="0.77" fill="#fff" fill-opacity="0.32"/><circle cx="27.0" cy="7.0" r="2.06" fill="#303030" fill-opacity="0.42"/><circle cx="25.8" cy="5.8" r="0.77" fill="#fff" fill-opacity="0.32"/><circle cx="35.2" cy="5.9" r="0.99" fill="#303030" fill-opacity="0.42"/><circle cx="34.7" cy="5.4" r="0.37" fill="#fff" fill-opacity="0.32"/><circle cx="13.2" cy="6.7" r="1.25" fill="#303030" fill-opacity="0.42"/><circle cx="12.4" cy="5.9" r="0.47" fill="#fff" fill-opacity="0.32"/><circle cx="18.1" cy="9.4" r="1.52" fill="#303030" fill-opacity="0.42"/><circle cx="17.2" cy="8.5" r="0.57" fill="#fff" fill-opacity="0.32"/><circle cx="32.7" cy="11.4" r="1.88" fill="#303030" fill-opacity="0.42"/><circle cx="31.6" cy="10.3" r="0.71" fill="#fff" fill-opacity="0.32"/><circle cx="40.3" cy="10.3" r="1.88" fill="#303030" fill-opacity="0.42"/><circle cx="39.2" cy="9.2" r="0.71" fill="#fff" fill-opacity="0.32"/><circle cx="2.8" cy="14.3" r="1.70" fill="#303030" fill-opacity="0.42"/><circle cx="1.8" cy="13.3" r="0.64" fill="#fff" fill-opacity="0.32"/><circle cx="13.2" cy="15.1" r="1.34" fill="#303030" fill-opacity="0.42"/><circle cx="12.4" cy="14.3" r="0.50" fill="#fff" fill-opacity="0.32"/><circle cx="18.5" cy="14.3" r="1.25" fill="#303030" fill-opacity="0.42"/><circle cx="17.7" cy="13.5" r="0.47" fill="#fff" fill-opacity="0.32"/><circle cx="23.8" cy="15.1" r="1.52" fill="#303030" fill-opacity="0.42"/><circle cx="22.9" cy="14.2" r="0.57" fill="#fff" fill-opacity="0.32"/><circle cx="29.7" cy="18.3" r="1.88" fill="#303030" fill-opacity="0.42"/><circle cx="28.6" cy="17.2" r="0.71" fill="#fff" fill-opacity="0.32"/><circle cx="36.8" cy="17.0" r="1.52" fill="#303030" fill-opacity="0.42"/><circle cx="35.9" cy="16.1" r="0.57" fill="#fff" fill-opacity="0.32"/><circle cx="9.4" cy="21.7" r="1.88" fill="#303030" fill-opacity="0.42"/><circle cx="8.3" cy="20.6" r="0.71" fill="#fff" fill-opacity="0.32"/><circle cx="17.3" cy="21.2" r="1.52" fill="#303030" fill-opacity="0.42"/><circle cx="16.4" cy="20.3" r="0.57" fill="#fff" fill-opacity="0.32"/><circle cx="22.2" cy="21.6" r="1.34" fill="#303030" fill-opacity="0.42"/><circle cx="21.4" cy="20.8" r="0.50" fill="#fff" fill-opacity="0.32"/><circle cx="28.9" cy="26.7" r="2.42" fill="#303030" fill-opacity="0.42"/><circle cx="27.5" cy="25.3" r="0.91" fill="#fff" fill-opacity="0.32"/><circle cx="40.3" cy="26.7" r="2.06" fill="#303030" fill-opacity="0.42"/><circle cx="39.1" cy="25.5" r="0.77" fill="#fff" fill-opacity="0.32"/><circle cx="10.9" cy="27.3" r="1.25" fill="#303030" fill-opacity="0.42"/><circle cx="10.1" cy="26.5" r="0.47" fill="#fff" fill-opacity="0.32"/><circle cx="17.7" cy="28.5" r="1.70" fill="#303030" fill-opacity="0.42"/><circle cx="16.7" cy="27.5" r="0.64" fill="#fff" fill-opacity="0.32"/><circle cx="4.6" cy="28.8" r="0.99" fill="#303030" fill-opacity="0.42"/><circle cx="4.1" cy="28.3" r="0.37" fill="#fff" fill-opacity="0.32"/><circle cx="45.4" cy="-0.5" r="1.70" fill="#303030" fill-opacity="0.42"/><circle cx="44.4" cy="-1.5" r="0.64" fill="#fff" fill-opacity="0.32"/><circle cx="55.0" cy="0.7" r="2.15" fill="#303030" fill-opacity="0.42"/><circle cx="53.7" cy="-0.6" r="0.81" fill="#fff" fill-opacity="0.32"/><circle cx="61.5" cy="3.0" r="2.15" fill="#303030" fill-opacity="0.42"/><circle cx="60.2" cy="1.7" r="0.81" fill="#fff" fill-opacity="0.32"/><circle cx="67.1" cy="4.4" r="1.52" fill="#303030" fill-opacity="0.42"/><circle cx="66.2" cy="3.5" r="0.57" fill="#fff" fill-opacity="0.32"/><circle cx="51.7" cy="7.7" r="2.87" fill="#303030" fill-opacity="0.42"/><circle cx="50.0" cy="6.0" r="1.08" fill="#fff" fill-opacity="0.32"/><circle cx="63.8" cy="9.5" r="2.42" fill="#303030" fill-opacity="0.42"/><circle cx="62.4" cy="8.1" r="0.91" fill="#fff" fill-opacity="0.32"/><circle cx="45.6" cy="10.4" r="0.81" fill="#303030" fill-opacity="0.42"/><circle cx="45.1" cy="9.9" r="0.30" fill="#fff" fill-opacity="0.32"/><circle cx="69.4" cy="12.4" r="1.70" fill="#303030" fill-opacity="0.42"/><circle cx="68.4" cy="11.4" r="0.64" fill="#fff" fill-opacity="0.32"/><circle cx="74.3" cy="13.1" r="0.81" fill="#303030" fill-opacity="0.42"/><circle cx="73.8" cy="12.6" r="0.30" fill="#fff" fill-opacity="0.32"/><circle cx="47.9" cy="18.4" r="3.05" fill="#303030" fill-opacity="0.42"/><circle cx="46.1" cy="16.6" r="1.14" fill="#fff" fill-opacity="0.32"/><circle cx="59.3" cy="18.0" r="3.23" fill="#303030" fill-opacity="0.42"/><circle cx="57.5" cy="16.2" r="1.21" fill="#fff" fill-opacity="0.32"/><circle cx="67.6" cy="19.4" r="2.42" fill="#303030" fill-opacity="0.42"/><circle cx="66.2" cy="18.0" r="0.91" fill="#fff" fill-opacity="0.32"/><circle cx="72.1" cy="23.5" r="1.52" fill="#303030" fill-opacity="0.42"/><circle cx="71.2" cy="22.6" r="0.57" fill="#fff" fill-opacity="0.32"/><circle cx="53.0" cy="25.0" r="1.34" fill="#303030" fill-opacity="0.42"/><circle cx="52.2" cy="24.2" r="0.50" fill="#fff" fill-opacity="0.32"/><circle cx="48.7" cy="25.2" r="0.81" fill="#303030" fill-opacity="0.42"/><circle cx="48.2" cy="24.7" r="0.30" fill="#fff" fill-opacity="0.32"/><circle cx="58.4" cy="26.7" r="2.15" fill="#303030" fill-opacity="0.42"/><circle cx="57.1" cy="25.4" r="0.81" fill="#fff" fill-opacity="0.32"/><circle cx="65.7" cy="27.4" r="2.42" fill="#303030" fill-opacity="0.42"/><circle cx="64.3" cy="26.0" r="0.91" fill="#fff" fill-opacity="0.32"/><circle cx="45.8" cy="28.6" r="2.06" fill="#303030" fill-opacity="0.42"/><circle cx="44.6" cy="27.4" r="0.77" fill="#fff" fill-opacity="0.32"/><circle cx="76.2" cy="21.5" r="0.99" fill="#303030" fill-opacity="0.42"/><circle cx="75.7" cy="21.0" r="0.37" fill="#fff" fill-opacity="0.32"/><circle cx="4.4" cy="29.8" r="1.34" fill="#303030" fill-opacity="0.42"/><circle cx="3.6" cy="29.0" r="0.50" fill="#fff" fill-opacity="0.32"/><circle cx="17.7" cy="30.2" r="1.70" fill="#303030" fill-opacity="0.42"/><circle cx="16.7" cy="29.2" r="0.64" fill="#fff" fill-opacity="0.32"/><circle cx="29.2" cy="29.1" r="1.52" fill="#303030" fill-opacity="0.42"/><circle cx="28.3" cy="28.2" r="0.57" fill="#fff" fill-opacity="0.32"/><circle cx="28.2" cy="36.9" r="2.69" fill="#303030" fill-opacity="0.42"/><circle cx="26.6" cy="35.3" r="1.01" fill="#fff" fill-opacity="0.32"/><circle cx="37.2" cy="35.2" r="1.52" fill="#303030" fill-opacity="0.42"/><circle cx="36.3" cy="34.3" r="0.57" fill="#fff" fill-opacity="0.32"/><circle cx="41.6" cy="32.4" r="0.99" fill="#303030" fill-opacity="0.42"/><circle cx="41.1" cy="31.9" r="0.37" fill="#fff" fill-opacity="0.32"/><circle cx="40.0" cy="39.5" r="2.15" fill="#303030" fill-opacity="0.42"/><circle cx="38.7" cy="38.2" r="0.81" fill="#fff" fill-opacity="0.32"/><circle cx="35.0" cy="45.6" r="2.15" fill="#303030" fill-opacity="0.42"/><circle cx="33.7" cy="44.3" r="0.81" fill="#fff" fill-opacity="0.32"/><circle cx="37.6" cy="51.6" r="1.25" fill="#303030" fill-opacity="0.42"/><circle cx="36.8" cy="50.8" r="0.47" fill="#fff" fill-opacity="0.32"/><circle cx="29.6" cy="53.1" r="1.25" fill="#303030" fill-opacity="0.42"/><circle cx="28.8" cy="52.3" r="0.47" fill="#fff" fill-opacity="0.32"/><circle cx="33.9" cy="56.3" r="2.15" fill="#303030" fill-opacity="0.42"/><circle cx="32.6" cy="55.0" r="0.81" fill="#fff" fill-opacity="0.32"/><circle cx="39.9" cy="58.5" r="1.52" fill="#303030" fill-opacity="0.42"/><circle cx="39.0" cy="57.6" r="0.57" fill="#fff" fill-opacity="0.32"/><circle cx="27.2" cy="47.6" r="0.72" fill="#303030" fill-opacity="0.42"/><circle cx="26.8" cy="47.2" r="0.27" fill="#fff" fill-opacity="0.32"/><circle cx="52.9" cy="30.3" r="0.99" fill="#303030" fill-opacity="0.42"/><circle cx="52.4" cy="29.8" r="0.37" fill="#fff" fill-opacity="0.32"/><circle cx="60.7" cy="33.8" r="2.06" fill="#303030" fill-opacity="0.42"/><circle cx="59.5" cy="32.6" r="0.77" fill="#fff" fill-opacity="0.32"/><circle cx="71.7" cy="30.2" r="1.70" fill="#303030" fill-opacity="0.42"/><circle cx="70.7" cy="29.2" r="0.64" fill="#fff" fill-opacity="0.32"/><circle cx="53.9" cy="35.3" r="1.88" fill="#303030" fill-opacity="0.42"/><circle cx="52.8" cy="34.2" r="0.71" fill="#fff" fill-opacity="0.32"/><circle cx="66.5" cy="36.8" r="2.42" fill="#303030" fill-opacity="0.42"/><circle cx="65.1" cy="35.4" r="0.91" fill="#fff" fill-opacity="0.32"/><circle cx="73.3" cy="36.4" r="1.88" fill="#303030" fill-opacity="0.42"/><circle cx="72.2" cy="35.3" r="0.71" fill="#fff" fill-opacity="0.32"/><circle cx="45.0" cy="40.9" r="1.52" fill="#303030" fill-opacity="0.42"/><circle cx="44.1" cy="40.0" r="0.57" fill="#fff" fill-opacity="0.32"/><circle cx="56.5" cy="40.3" r="2.06" fill="#303030" fill-opacity="0.42"/><circle cx="55.3" cy="39.1" r="0.77" fill="#fff" fill-opacity="0.32"/><circle cx="62.6" cy="43.3" r="2.42" fill="#303030" fill-opacity="0.42"/><circle cx="61.2" cy="41.9" r="0.91" fill="#fff" fill-opacity="0.32"/><circle cx="71.4" cy="42.5" r="2.06" fill="#303030" fill-opacity="0.42"/><circle cx="70.2" cy="41.3" r="0.77" fill="#fff" fill-opacity="0.32"/><circle cx="53.6" cy="45.3" r="2.87" fill="#303030" fill-opacity="0.42"/><circle cx="51.9" cy="43.6" r="1.08" fill="#fff" fill-opacity="0.32"/><circle cx="59.0" cy="45.8" r="0.81" fill="#303030" fill-opacity="0.42"/><circle cx="58.5" cy="45.3" r="0.30" fill="#fff" fill-opacity="0.32"/><circle cx="53.5" cy="51.7" r="2.60" fill="#303030" fill-opacity="0.42"/><circle cx="52.0" cy="50.2" r="0.97" fill="#fff" fill-opacity="0.32"/><circle cx="62.6" cy="51.3" r="2.06" fill="#303030" fill-opacity="0.42"/><circle cx="61.4" cy="50.1" r="0.77" fill="#fff" fill-opacity="0.32"/><circle cx="45.0" cy="52.7" r="1.70" fill="#303030" fill-opacity="0.42"/><circle cx="44.0" cy="51.7" r="0.64" fill="#fff" fill-opacity="0.32"/><circle cx="62.5" cy="55.8" r="1.52" fill="#303030" fill-opacity="0.42"/><circle cx="61.6" cy="54.9" r="0.57" fill="#fff" fill-opacity="0.32"/><circle cx="47.4" cy="57.0" r="2.06" fill="#303030" fill-opacity="0.42"/><circle cx="46.2" cy="55.8" r="0.77" fill="#fff" fill-opacity="0.32"/><circle cx="56.8" cy="58.1" r="1.34" fill="#303030" fill-opacity="0.42"/><circle cx="56.0" cy="57.3" r="0.50" fill="#fff" fill-opacity="0.32"/><circle cx="50.2" cy="33.9" r="0.72" fill="#303030" fill-opacity="0.42"/><circle cx="49.8" cy="33.5" r="0.27" fill="#fff" fill-opacity="0.32"/><circle cx="32.9" cy="19.1" r="1.79" fill="#303030" fill-opacity="0.42"/><circle cx="31.9" cy="18.1" r="0.67" fill="#fff" fill-opacity="0.32"/></g>
<circle cx="60.3" cy="49.6" r="4.3999999999999995" fill="#000" fill-opacity="0.5" filter="url(#bl1)"/>
<circle cx="60.3" cy="49.6" r="3.8" fill="#050505"/>
<circle cx="60.3" cy="49.6" r="0.76" fill="#aaa"/>
<rect x="27.900000000000002" y="14.299999999999999" width="9.6" height="9.2" fill="none" stroke="#3d7cc4" stroke-width="1.2"/>
<g><rect x="1.6" y="35.9" width="24.2" height="23.9" fill="#c6c6c6" stroke="#e6e6e6" stroke-width="0.9"/>
<ellipse cx="13" cy="48" rx="6.8" ry="8.2" transform="rotate(-20 13 48)" fill="url(#sp010)" stroke="#606060" stroke-width="0.9" filter="url(#bl05)"/>
</g>
</g>
<g transform="translate(223 20)" clip-path="url(#c02)">
<rect x="0" y="0" width="83" height="61" fill="#000"/>
<rect x="2.2" y="-2" width="74.6" height="66" rx="12" fill="url(#g02)" filter="url(#blf)"/>
<g filter="url(#bl05)"><circle cx="6.0" cy="1.4" r="0.73" fill="#2a2a2a" fill-opacity="0.46"/><circle cx="5.5" cy="0.9" r="0.30" fill="#fff" fill-opacity="0.32"/><circle cx="11.0" cy="0.6" r="0.57" fill="#2a2a2a" fill-opacity="0.46"/><circle cx="10.7" cy="0.2" r="0.24" fill="#fff" fill-opacity="0.32"/><circle cx="34.0" cy="1.5" r="0.69" fill="#2a2a2a" fill-opacity="0.46"/><circle cx="33.5" cy="1.0" r="0.29" fill="#fff" fill-opacity="0.32"/><circle cx="72.6" cy="1.2" r="0.69" fill="#2a2a2a" fill-opacity="0.46"/><circle cx="72.1" cy="0.8" r="0.29" fill="#fff" fill-opacity="0.32"/><circle cx="2.4" cy="6.2" r="0.65" fill="#2a2a2a" fill-opacity="0.46"/><circle cx="2.0" cy="5.7" r="0.27" fill="#fff" fill-opacity="0.32"/><circle cx="9.0" cy="5.4" r="0.72" fill="#2a2a2a" fill-opacity="0.46"/><circle cx="8.5" cy="5.0" r="0.30" fill="#fff" fill-opacity="0.32"/><circle cx="31.2" cy="6.6" r="0.96" fill="#2a2a2a" fill-opacity="0.46"/><circle cx="30.6" cy="6.0" r="0.40" fill="#fff" fill-opacity="0.32"/><circle cx="70.7" cy="5.4" r="0.59" fill="#2a2a2a" fill-opacity="0.46"/><circle cx="70.3" cy="5.0" r="0.25" fill="#fff" fill-opacity="0.32"/><circle cx="75.0" cy="5.6" r="0.78" fill="#2a2a2a" fill-opacity="0.46"/><circle cx="74.5" cy="5.1" r="0.33" fill="#fff" fill-opacity="0.32"/><circle cx="5.5" cy="10.7" r="0.64" fill="#2a2a2a" fill-opacity="0.46"/><circle cx="5.1" cy="10.3" r="0.27" fill="#fff" fill-opacity="0.32"/><circle cx="11.8" cy="10.9" r="0.71" fill="#2a2a2a" fill-opacity="0.46"/><circle cx="11.4" cy="10.4" r="0.30" fill="#fff" fill-opacity="0.32"/><circle cx="23.1" cy="10.7" r="0.88" fill="#2a2a2a" fill-opacity="0.46"/><circle cx="22.5" cy="10.1" r="0.37" fill="#fff" fill-opacity="0.32"/><circle cx="40.0" cy="20.8" r="1.11" fill="#2a2a2a" fill-opacity="0.46"/><circle cx="39.3" cy="20.1" r="0.46" fill="#fff" fill-opacity="0.32"/><circle cx="2.2" cy="26.1" r="0.57" fill="#2a2a2a" fill-opacity="0.46"/><circle cx="1.9" cy="25.7" r="0.24" fill="#fff" fill-opacity="0.32"/><circle cx="14.2" cy="24.8" r="0.90" fill="#2a2a2a" fill-opacity="0.46"/><circle cx="13.6" cy="24.2" r="0.38" fill="#fff" fill-opacity="0.32"/><circle cx="20.2" cy="25.6" r="1.11" fill="#2a2a2a" fill-opacity="0.46"/><circle cx="19.5" cy="24.8" r="0.47" fill="#fff" fill-opacity="0.32"/><circle cx="75.7" cy="26.1" r="0.74" fill="#2a2a2a" fill-opacity="0.46"/><circle cx="75.2" cy="25.6" r="0.31" fill="#fff" fill-opacity="0.32"/><circle cx="21.8" cy="30.1" r="1.01" fill="#2a2a2a" fill-opacity="0.46"/><circle cx="21.1" cy="29.5" r="0.42" fill="#fff" fill-opacity="0.32"/><circle cx="33.9" cy="30.4" r="1.54" fill="#2a2a2a" fill-opacity="0.46"/><circle cx="32.9" cy="29.4" r="0.65" fill="#fff" fill-opacity="0.32"/><circle cx="34.1" cy="39.6" r="1.23" fill="#2a2a2a" fill-opacity="0.46"/><circle cx="33.3" cy="38.8" r="0.52" fill="#fff" fill-opacity="0.32"/><circle cx="50.4" cy="40.0" r="1.19" fill="#2a2a2a" fill-opacity="0.46"/><circle cx="49.7" cy="39.2" r="0.50" fill="#fff" fill-opacity="0.32"/><circle cx="42.9" cy="45.7" r="1.26" fill="#2a2a2a" fill-opacity="0.46"/><circle cx="42.1" cy="44.8" r="0.53" fill="#fff" fill-opacity="0.32"/><circle cx="75.1" cy="45.3" r="0.84" fill="#2a2a2a" fill-opacity="0.46"/><circle cx="74.6" cy="44.7" r="0.35" fill="#fff" fill-opacity="0.32"/><circle cx="70.4" cy="54.1" r="0.67" fill="#2a2a2a" fill-opacity="0.46"/><circle cx="70.0" cy="53.7" r="0.28" fill="#fff" fill-opacity="0.32"/><circle cx="75.8" cy="55.2" r="0.64" fill="#2a2a2a" fill-opacity="0.46"/><circle cx="75.4" cy="54.8" r="0.27" fill="#fff" fill-opacity="0.32"/><circle cx="27.4" cy="59.3" r="0.98" fill="#2a2a2a" fill-opacity="0.46"/><circle cx="26.7" cy="58.7" r="0.41" fill="#fff" fill-opacity="0.32"/><circle cx="72.5" cy="58.7" r="0.81" fill="#2a2a2a" fill-opacity="0.46"/><circle cx="72.0" cy="58.2" r="0.34" fill="#fff" fill-opacity="0.32"/><circle cx="22.4" cy="0.1" r="1.68" fill="#2a2a2a" fill-opacity="0.58" stroke="#202020" stroke-opacity="0.25" stroke-width="0.5"/><circle cx="17.4" cy="2.8" r="1.68" fill="#2a2a2a" fill-opacity="0.58" stroke="#202020" stroke-opacity="0.25" stroke-width="0.5"/><circle cx="28.5" cy="1.3" r="1.01" fill="#2a2a2a" fill-opacity="0.58" stroke="#202020" stroke-opacity="0.25" stroke-width="0.5"/><circle cx="40.3" cy="2.1" r="2.58" fill="#2a2a2a" fill-opacity="0.58" stroke="#202020" stroke-opacity="0.25" stroke-width="0.5"/><circle cx="26.2" cy="7.2" r="2.58" fill="#2a2a2a" fill-opacity="0.58" stroke="#202020" stroke-opacity="0.25" stroke-width="0.5"/><circle cx="34.6" cy="6.3" r="1.23" fill="#2a2a2a" fill-opacity="0.58" stroke="#202020" stroke-opacity="0.25" stroke-width="0.5"/><circle cx="12.5" cy="7.0" r="1.57" fill="#2a2a2a" fill-opacity="0.58" stroke="#202020" stroke-opacity="0.25" stroke-width="0.5"/><circle cx="17.4" cy="9.7" r="1.90" fill="#2a2a2a" fill-opacity="0.58" stroke="#202020" stroke-opacity="0.25" stroke-width="0.5"/><circle cx="31.9" cy="11.6" r="2.35" fill="#2a2a2a" fill-opacity="0.58" stroke="#202020" stroke-opacity="0.25" stroke-width="0.5"/><circle cx="39.5" cy="10.5" r="2.35" fill="#2a2a2a" fill-opacity="0.58" stroke="#202020" stroke-opacity="0.25" stroke-width="0.5"/><circle cx="2.1" cy="14.6" r="2.13" fill="#2a2a2a" fill-opacity="0.58" stroke="#202020" stroke-opacity="0.25" stroke-width="0.5"/><circle cx="12.5" cy="15.4" r="1.68" fill="#2a2a2a" fill-opacity="0.58" stroke="#202020" stroke-opacity="0.25" stroke-width="0.5"/><circle cx="17.8" cy="14.6" r="1.57" fill="#2a2a2a" fill-opacity="0.58" stroke="#202020" stroke-opacity="0.25" stroke-width="0.5"/><circle cx="23.1" cy="15.4" r="1.90" fill="#2a2a2a" fill-opacity="0.58" stroke="#202020" stroke-opacity="0.25" stroke-width="0.5"/><circle cx="36.1" cy="17.3" r="1.90" fill="#2a2a2a" fill-opacity="0.58" stroke="#202020" stroke-opacity="0.25" stroke-width="0.5"/><circle cx="8.6" cy="21.9" r="2.35" fill="#2a2a2a" fill-opacity="0.58" stroke="#202020" stroke-opacity="0.25" stroke-width="0.5"/><circle cx="16.6" cy="21.5" r="1.90" fill="#2a2a2a" fill-opacity="0.58" stroke="#202020" stroke-opacity="0.25" stroke-width="0.5"/><circle cx="21.5" cy="21.9" r="1.68" fill="#2a2a2a" fill-opacity="0.58" stroke="#202020" stroke-opacity="0.25" stroke-width="0.5"/><circle cx="28.1" cy="26.9" r="3.02" fill="#2a2a2a" fill-opacity="0.58" stroke="#202020" stroke-opacity="0.25" stroke-width="0.5"/><circle cx="39.5" cy="26.9" r="2.58" fill="#2a2a2a" fill-opacity="0.58" stroke="#202020" stroke-opacity="0.25" stroke-width="0.5"/><circle cx="10.2" cy="27.6" r="1.57" fill="#2a2a2a" fill-opacity="0.58" stroke="#202020" stroke-opacity="0.25" stroke-width="0.5"/><circle cx="17.0" cy="28.8" r="2.13" fill="#2a2a2a" fill-opacity="0.58" stroke="#202020" stroke-opacity="0.25" stroke-width="0.5"/><circle cx="4.0" cy="29.2" r="1.23" fill="#2a2a2a" fill-opacity="0.58" stroke="#202020" stroke-opacity="0.25" stroke-width="0.5"/><circle cx="44.7" cy="-0.2" r="2.13" fill="#2a2a2a" fill-opacity="0.58" stroke="#202020" stroke-opacity="0.25" stroke-width="0.5"/><circle cx="54.2" cy="0.9" r="2.69" fill="#2a2a2a" fill-opacity="0.58" stroke="#202020" stroke-opacity="0.25" stroke-width="0.5"/><circle cx="60.7" cy="3.2" r="2.69" fill="#2a2a2a" fill-opacity="0.58" stroke="#202020" stroke-opacity="0.25" stroke-width="0.5"/><circle cx="66.4" cy="4.7" r="1.90" fill="#2a2a2a" fill-opacity="0.58" stroke="#202020" stroke-opacity="0.25" stroke-width="0.5"/><circle cx="50.8" cy="7.8" r="3.58" fill="#2a2a2a" fill-opacity="0.58" stroke="#202020" stroke-opacity="0.25" stroke-width="0.5"/><circle cx="63.0" cy="9.7" r="3.02" fill="#2a2a2a" fill-opacity="0.58" stroke="#202020" stroke-opacity="0.25" stroke-width="0.5"/><circle cx="45.0" cy="10.8" r="1.01" fill="#2a2a2a" fill-opacity="0.58" stroke="#202020" stroke-opacity="0.25" stroke-width="0.5"/><circle cx="68.7" cy="12.7" r="2.13" fill="#2a2a2a" fill-opacity="0.58" stroke="#202020" stroke-opacity="0.25" stroke-width="0.5"/><circle cx="73.7" cy="13.5" r="1.01" fill="#2a2a2a" fill-opacity="0.58" stroke="#202020" stroke-opacity="0.25" stroke-width="0.5"/><circle cx="47.0" cy="18.5" r="3.81" fill="#2a2a2a" fill-opacity="0.58" stroke="#202020" stroke-opacity="0.25" stroke-width="0.5"/><circle cx="58.4" cy="18.1" r="4.03" fill="#2a2a2a" fill-opacity="0.58" stroke="#202020" stroke-opacity="0.25" stroke-width="0.5"/><circle cx="66.8" cy="19.6" r="3.02" fill="#2a2a2a" fill-opacity="0.58" stroke="#202020" stroke-opacity="0.25" stroke-width="0.5"/><circle cx="71.4" cy="23.8" r="1.90" fill="#2a2a2a" fill-opacity="0.58" stroke="#202020" stroke-opacity="0.25" stroke-width="0.5"/><circle cx="52.3" cy="25.3" r="1.68" fill="#2a2a2a" fill-opacity="0.58" stroke="#202020" stroke-opacity="0.25" stroke-width="0.5"/><circle cx="48.1" cy="25.6" r="1.01" fill="#2a2a2a" fill-opacity="0.58" stroke="#202020" stroke-opacity="0.25" stroke-width="0.5"/><circle cx="57.6" cy="26.9" r="2.69" fill="#2a2a2a" fill-opacity="0.58" stroke="#202020" stroke-opacity="0.25" stroke-width="0.5"/><circle cx="64.9" cy="27.6" r="3.02" fill="#2a2a2a" fill-opacity="0.58" stroke="#202020" stroke-opacity="0.25" stroke-width="0.5"/><circle cx="45.0" cy="28.8" r="2.58" fill="#2a2a2a" fill-opacity="0.58" stroke="#202020" stroke-opacity="0.25" stroke-width="0.5"/><circle cx="75.6" cy="21.9" r="1.23" fill="#2a2a2a" fill-opacity="0.58" stroke="#202020" stroke-opacity="0.25" stroke-width="0.5"/><circle cx="3.7" cy="30.1" r="1.68" fill="#2a2a2a" fill-opacity="0.58" stroke="#202020" stroke-opacity="0.25" stroke-width="0.5"/><circle cx="17.0" cy="30.5" r="2.13" fill="#2a2a2a" fill-opacity="0.58" stroke="#202020" stroke-opacity="0.25" stroke-width="0.5"/><circle cx="28.5" cy="29.4" r="1.90" fill="#2a2a2a" fill-opacity="0.58" stroke="#202020" stroke-opacity="0.25" stroke-width="0.5"/><circle cx="27.3" cy="37.0" r="3.36" fill="#2a2a2a" fill-opacity="0.58" stroke="#202020" stroke-opacity="0.25" stroke-width="0.5"/><circle cx="36.5" cy="35.5" r="1.90" fill="#2a2a2a" fill-opacity="0.58" stroke="#202020" stroke-opacity="0.25" stroke-width="0.5"/><circle cx="41.0" cy="32.8" r="1.23" fill="#2a2a2a" fill-opacity="0.58" stroke="#202020" stroke-opacity="0.25" stroke-width="0.5"/><circle cx="39.2" cy="39.7" r="2.69" fill="#2a2a2a" fill-opacity="0.58" stroke="#202020" stroke-opacity="0.25" stroke-width="0.5"/><circle cx="34.2" cy="45.8" r="2.69" fill="#2a2a2a" fill-opacity="0.58" stroke="#202020" stroke-opacity="0.25" stroke-width="0.5"/><circle cx="36.9" cy="51.9" r="1.57" fill="#2a2a2a" fill-opacity="0.58" stroke="#202020" stroke-opacity="0.25" stroke-width="0.5"/><circle cx="28.9" cy="53.4" r="1.57" fill="#2a2a2a" fill-opacity="0.58" stroke="#202020" stroke-opacity="0.25" stroke-width="0.5"/><circle cx="33.1" cy="56.5" r="2.69" fill="#2a2a2a" fill-opacity="0.58" stroke="#202020" stroke-opacity="0.25" stroke-width="0.5"/><circle cx="39.2" cy="58.8" r="1.90" fill="#2a2a2a" fill-opacity="0.58" stroke="#202020" stroke-opacity="0.25" stroke-width="0.5"/><circle cx="26.6" cy="48.0" r="0.90" fill="#2a2a2a" fill-opacity="0.58" stroke="#202020" stroke-opacity="0.25" stroke-width="0.5"/><circle cx="52.3" cy="30.7" r="1.23" fill="#2a2a2a" fill-opacity="0.58" stroke="#202020" stroke-opacity="0.25" stroke-width="0.5"/><circle cx="59.9" cy="34.0" r="2.58" fill="#2a2a2a" fill-opacity="0.58" stroke="#202020" stroke-opacity="0.25" stroke-width="0.5"/><circle cx="71.0" cy="30.5" r="2.13" fill="#2a2a2a" fill-opacity="0.58" stroke="#202020" stroke-opacity="0.25" stroke-width="0.5"/><circle cx="53.1" cy="35.5" r="2.35" fill="#2a2a2a" fill-opacity="0.58" stroke="#202020" stroke-opacity="0.25" stroke-width="0.5"/><circle cx="65.7" cy="37.0" r="3.02" fill="#2a2a2a" fill-opacity="0.58" stroke="#202020" stroke-opacity="0.25" stroke-width="0.5"/><circle cx="72.5" cy="36.6" r="2.35" fill="#2a2a2a" fill-opacity="0.58" stroke="#202020" stroke-opacity="0.25" stroke-width="0.5"/><circle cx="44.3" cy="41.2" r="1.90" fill="#2a2a2a" fill-opacity="0.58" stroke="#202020" stroke-opacity="0.25" stroke-width="0.5"/><circle cx="55.7" cy="40.5" r="2.58" fill="#2a2a2a" fill-opacity="0.58" stroke="#202020" stroke-opacity="0.25" stroke-width="0.5"/><circle cx="61.8" cy="43.5" r="3.02" fill="#2a2a2a" fill-opacity="0.58" stroke="#202020" stroke-opacity="0.25" stroke-width="0.5"/><circle cx="70.6" cy="42.7" r="2.58" fill="#2a2a2a" fill-opacity="0.58" stroke="#202020" stroke-opacity="0.25" stroke-width="0.5"/><circle cx="52.7" cy="45.4" r="3.58" fill="#2a2a2a" fill-opacity="0.58" stroke="#202020" stroke-opacity="0.25" stroke-width="0.5"/><circle cx="58.4" cy="46.2" r="1.01" fill="#2a2a2a" fill-opacity="0.58" stroke="#202020" stroke-opacity="0.25" stroke-width="0.5"/><circle cx="52.7" cy="51.9" r="3.25" fill="#2a2a2a" fill-opacity="0.58" stroke="#202020" stroke-opacity="0.25" stroke-width="0.5"/><circle cx="61.8" cy="51.5" r="2.58" fill="#2a2a2a" fill-opacity="0.58" stroke="#202020" stroke-opacity="0.25" stroke-width="0.5"/><circle cx="44.3" cy="53.0" r="2.13" fill="#2a2a2a" fill-opacity="0.58" stroke="#202020" stroke-opacity="0.25" stroke-width="0.5"/><circle cx="61.8" cy="56.1" r="1.90" fill="#2a2a2a" fill-opacity="0.58" stroke="#202020" stroke-opacity="0.25" stroke-width="0.5"/><circle cx="46.6" cy="57.2" r="2.58" fill="#2a2a2a" fill-opacity="0.58" stroke="#202020" stroke-opacity="0.25" stroke-width="0.5"/><circle cx="56.1" cy="58.4" r="1.68" fill="#2a2a2a" fill-opacity="0.58" stroke="#202020" stroke-opacity="0.25" stroke-width="0.5"/><circle cx="49.6" cy="34.3" r="0.90" fill="#2a2a2a" fill-opacity="0.58" stroke="#202020" stroke-opacity="0.25" stroke-width="0.5"/><circle cx="31.4" cy="18.9" r="2.24" fill="#2a2a2a" fill-opacity="0.58" stroke="#202020" stroke-opacity="0.25" stroke-width="0.5"/></g>
<rect x="26.6" y="14.299999999999999" width="9.6" height="9.2" fill="none" stroke="#3d7cc4" stroke-width="1.2"/>
<g><rect x="1.6" y="35.9" width="24.2" height="23.9" fill="#c8c8c8" stroke="#e6e6e6" stroke-width="0.9"/>
<ellipse cx="13" cy="48" rx="8.2" ry="8.2" transform="rotate(0 13 48)" fill="url(#sp020)" stroke="#666" stroke-width="0.9" filter="url(#bl05)"/>
</g>
</g>
<g transform="translate(307 20)" clip-path="url(#c03)">
<rect x="0" y="0" width="83" height="61" fill="#000"/>
<rect x="2.2" y="-2" width="74.6" height="66" rx="12" fill="url(#g03)" filter="url(#blf)"/>
<g filter="url(#bl05)"><circle cx="22.7" cy="0.1" r="1.72" fill="#2a2a2a" fill-opacity="0.86"/><circle cx="17.7" cy="2.8" r="1.72" fill="#2a2a2a" fill-opacity="0.86"/><circle cx="28.8" cy="1.3" r="1.03" fill="#2a2a2a" fill-opacity="0.86"/><circle cx="40.6" cy="2.1" r="2.64" fill="#2a2a2a" fill-opacity="0.86"/><circle cx="26.5" cy="7.2" r="2.64" fill="#2a2a2a" fill-opacity="0.86"/><circle cx="34.9" cy="6.3" r="1.26" fill="#2a2a2a" fill-opacity="0.86"/><circle cx="12.8" cy="7.0" r="1.61" fill="#2a2a2a" fill-opacity="0.86"/><circle cx="17.7" cy="9.7" r="1.95" fill="#2a2a2a" fill-opacity="0.86"/><circle cx="32.2" cy="11.6" r="2.42" fill="#2a2a2a" fill-opacity="0.86"/><circle cx="39.8" cy="10.5" r="2.42" fill="#2a2a2a" fill-opacity="0.86"/><circle cx="2.4" cy="14.6" r="2.18" fill="#2a2a2a" fill-opacity="0.86"/><circle cx="12.8" cy="15.4" r="1.72" fill="#2a2a2a" fill-opacity="0.86"/><circle cx="18.1" cy="14.6" r="1.61" fill="#2a2a2a" fill-opacity="0.86"/><circle cx="23.4" cy="15.4" r="1.95" fill="#2a2a2a" fill-opacity="0.86"/><circle cx="36.4" cy="17.3" r="1.95" fill="#2a2a2a" fill-opacity="0.86"/><circle cx="8.9" cy="21.9" r="2.42" fill="#2a2a2a" fill-opacity="0.86"/><circle cx="16.9" cy="21.5" r="1.95" fill="#2a2a2a" fill-opacity="0.86"/><circle cx="21.8" cy="21.9" r="1.72" fill="#2a2a2a" fill-opacity="0.86"/><circle cx="28.4" cy="26.9" r="3.10" fill="#2a2a2a" fill-opacity="0.86"/><circle cx="39.8" cy="26.9" r="2.64" fill="#2a2a2a" fill-opacity="0.86"/><circle cx="10.5" cy="27.6" r="1.61" fill="#2a2a2a" fill-opacity="0.86"/><circle cx="17.3" cy="28.8" r="2.18" fill="#2a2a2a" fill-opacity="0.86"/><circle cx="4.3" cy="29.2" r="1.26" fill="#2a2a2a" fill-opacity="0.86"/><circle cx="45.0" cy="-0.2" r="2.18" fill="#2a2a2a" fill-opacity="0.86"/><circle cx="54.5" cy="0.9" r="2.76" fill="#2a2a2a" fill-opacity="0.86"/><circle cx="61.0" cy="3.2" r="2.76" fill="#2a2a2a" fill-opacity="0.86"/><circle cx="66.7" cy="4.7" r="1.95" fill="#2a2a2a" fill-opacity="0.86"/><circle cx="51.1" cy="7.8" r="3.68" fill="#2a2a2a" fill-opacity="0.86"/><circle cx="63.3" cy="9.7" r="3.10" fill="#2a2a2a" fill-opacity="0.86"/><circle cx="45.3" cy="10.8" r="1.03" fill="#2a2a2a" fill-opacity="0.86"/><circle cx="69.0" cy="12.7" r="2.18" fill="#2a2a2a" fill-opacity="0.86"/><circle cx="74.0" cy="13.5" r="1.03" fill="#2a2a2a" fill-opacity="0.86"/><circle cx="47.3" cy="18.5" r="3.91" fill="#2a2a2a" fill-opacity="0.86"/><circle cx="58.7" cy="18.1" r="4.14" fill="#2a2a2a" fill-opacity="0.86"/><circle cx="67.1" cy="19.6" r="3.10" fill="#2a2a2a" fill-opacity="0.86"/><circle cx="71.7" cy="23.8" r="1.95" fill="#2a2a2a" fill-opacity="0.86"/><circle cx="52.6" cy="25.3" r="1.72" fill="#2a2a2a" fill-opacity="0.86"/><circle cx="48.4" cy="25.6" r="1.03" fill="#2a2a2a" fill-opacity="0.86"/><circle cx="57.9" cy="26.9" r="2.76" fill="#2a2a2a" fill-opacity="0.86"/><circle cx="65.2" cy="27.6" r="3.10" fill="#2a2a2a" fill-opacity="0.86"/><circle cx="45.3" cy="28.8" r="2.64" fill="#2a2a2a" fill-opacity="0.86"/><circle cx="75.9" cy="21.9" r="1.26" fill="#2a2a2a" fill-opacity="0.86"/><circle cx="4.0" cy="30.1" r="1.72" fill="#2a2a2a" fill-opacity="0.86"/><circle cx="17.3" cy="30.5" r="2.18" fill="#2a2a2a" fill-opacity="0.86"/><circle cx="28.8" cy="29.4" r="1.95" fill="#2a2a2a" fill-opacity="0.86"/><circle cx="27.6" cy="37.0" r="3.45" fill="#2a2a2a" fill-opacity="0.86"/><circle cx="36.8" cy="35.5" r="1.95" fill="#2a2a2a" fill-opacity="0.86"/><circle cx="41.3" cy="32.8" r="1.26" fill="#2a2a2a" fill-opacity="0.86"/><circle cx="39.5" cy="39.7" r="2.76" fill="#2a2a2a" fill-opacity="0.86"/><circle cx="34.5" cy="45.8" r="2.76" fill="#2a2a2a" fill-opacity="0.86"/><circle cx="37.2" cy="51.9" r="1.61" fill="#2a2a2a" fill-opacity="0.86"/><circle cx="29.2" cy="53.4" r="1.61" fill="#2a2a2a" fill-opacity="0.86"/><circle cx="33.4" cy="56.5" r="2.76" fill="#2a2a2a" fill-opacity="0.86"/><circle cx="39.5" cy="58.8" r="1.95" fill="#2a2a2a" fill-opacity="0.86"/><circle cx="26.9" cy="48.0" r="0.92" fill="#2a2a2a" fill-opacity="0.86"/><circle cx="52.6" cy="30.7" r="1.26" fill="#2a2a2a" fill-opacity="0.86"/><circle cx="60.2" cy="34.0" r="2.64" fill="#2a2a2a" fill-opacity="0.86"/><circle cx="71.3" cy="30.5" r="2.18" fill="#2a2a2a" fill-opacity="0.86"/><circle cx="53.4" cy="35.5" r="2.42" fill="#2a2a2a" fill-opacity="0.86"/><circle cx="66.0" cy="37.0" r="3.10" fill="#2a2a2a" fill-opacity="0.86"/><circle cx="72.8" cy="36.6" r="2.42" fill="#2a2a2a" fill-opacity="0.86"/><circle cx="44.6" cy="41.2" r="1.95" fill="#2a2a2a" fill-opacity="0.86"/><circle cx="56.0" cy="40.5" r="2.64" fill="#2a2a2a" fill-opacity="0.86"/><circle cx="62.1" cy="43.5" r="3.10" fill="#2a2a2a" fill-opacity="0.86"/><circle cx="70.9" cy="42.7" r="2.64" fill="#2a2a2a" fill-opacity="0.86"/><circle cx="53.0" cy="45.4" r="3.68" fill="#2a2a2a" fill-opacity="0.86"/><circle cx="58.7" cy="46.2" r="1.03" fill="#2a2a2a" fill-opacity="0.86"/><circle cx="53.0" cy="51.9" r="3.33" fill="#2a2a2a" fill-opacity="0.86"/><circle cx="62.1" cy="51.5" r="2.64" fill="#2a2a2a" fill-opacity="0.86"/><circle cx="44.6" cy="53.0" r="2.18" fill="#2a2a2a" fill-opacity="0.86"/><circle cx="62.1" cy="56.1" r="1.95" fill="#2a2a2a" fill-opacity="0.86"/><circle cx="46.9" cy="57.2" r="2.64" fill="#2a2a2a" fill-opacity="0.86"/><circle cx="56.4" cy="58.4" r="1.72" fill="#2a2a2a" fill-opacity="0.86"/><circle cx="49.9" cy="34.3" r="0.92" fill="#2a2a2a" fill-opacity="0.86"/><circle cx="29.6" cy="19.1" r="2.30" fill="#2a2a2a" fill-opacity="0.86"/></g>
<rect x="24.8" y="14.5" width="9.6" height="9.2" fill="none" stroke="#3d7cc4" stroke-width="1.2"/>
<g><rect x="1.6" y="35.9" width="24.2" height="23.9" fill="#c4c4c4" stroke="#e6e6e6" stroke-width="0.9"/>
<ellipse cx="13" cy="49" rx="8.4" ry="8.4" transform="rotate(0 13 49)" fill="url(#sp030)" stroke="#4a4a4a" stroke-width="0.9" filter="url(#bl05)"/>
</g>
</g>
<g transform="translate(391 20)" clip-path="url(#c04)">
<rect x="0" y="0" width="83" height="61" fill="#000"/>
<rect x="-1.5" y="-1" width="77.5" height="65" rx="14" fill="url(#g04)" filter="url(#blf)"/>
<g filter="url(#bl05)"><circle cx="21.4" cy="1.1" r="1.72" fill="#262626" fill-opacity="0.88"/><circle cx="16.4" cy="3.8" r="1.72" fill="#262626" fill-opacity="0.88"/><circle cx="27.5" cy="2.3" r="1.03" fill="#262626" fill-opacity="0.88"/><circle cx="39.3" cy="3.1" r="2.64" fill="#262626" fill-opacity="0.88"/><circle cx="25.2" cy="8.2" r="2.64" fill="#262626" fill-opacity="0.88"/><circle cx="33.6" cy="7.3" r="1.26" fill="#262626" fill-opacity="0.88"/><circle cx="11.5" cy="8.0" r="1.61" fill="#262626" fill-opacity="0.88"/><circle cx="16.4" cy="10.7" r="1.95" fill="#262626" fill-opacity="0.88"/><circle cx="30.9" cy="12.6" r="2.42" fill="#262626" fill-opacity="0.88"/><circle cx="38.5" cy="11.5" r="2.42" fill="#262626" fill-opacity="0.88"/><circle cx="1.1" cy="15.6" r="2.18" fill="#262626" fill-opacity="0.88"/><circle cx="11.5" cy="16.4" r="1.72" fill="#262626" fill-opacity="0.88"/><circle cx="16.8" cy="15.6" r="1.61" fill="#262626" fill-opacity="0.88"/><circle cx="22.1" cy="16.4" r="1.95" fill="#262626" fill-opacity="0.88"/><circle cx="35.1" cy="18.3" r="1.95" fill="#262626" fill-opacity="0.88"/><circle cx="7.6" cy="22.9" r="2.42" fill="#262626" fill-opacity="0.88"/><circle cx="15.6" cy="22.5" r="1.95" fill="#262626" fill-opacity="0.88"/><circle cx="20.5" cy="22.9" r="1.72" fill="#262626" fill-opacity="0.88"/><circle cx="27.1" cy="27.9" r="3.10" fill="#262626" fill-opacity="0.88"/><circle cx="38.5" cy="27.9" r="2.64" fill="#262626" fill-opacity="0.88"/><circle cx="9.2" cy="28.6" r="1.61" fill="#262626" fill-opacity="0.88"/><circle cx="16.0" cy="29.8" r="2.18" fill="#262626" fill-opacity="0.88"/><circle cx="3.0" cy="30.2" r="1.26" fill="#262626" fill-opacity="0.88"/><circle cx="43.7" cy="0.8" r="2.18" fill="#262626" fill-opacity="0.88"/><circle cx="53.2" cy="1.9" r="2.76" fill="#262626" fill-opacity="0.88"/><circle cx="59.7" cy="4.2" r="2.76" fill="#262626" fill-opacity="0.88"/><circle cx="65.4" cy="5.7" r="1.95" fill="#262626" fill-opacity="0.88"/><circle cx="49.8" cy="8.8" r="3.68" fill="#262626" fill-opacity="0.88"/><circle cx="62.0" cy="10.7" r="3.10" fill="#262626" fill-opacity="0.88"/><circle cx="44.0" cy="11.8" r="1.03" fill="#262626" fill-opacity="0.88"/><circle cx="67.7" cy="13.7" r="2.18" fill="#262626" fill-opacity="0.88"/><circle cx="72.7" cy="14.5" r="1.03" fill="#262626" fill-opacity="0.88"/><circle cx="46.0" cy="19.5" r="3.91" fill="#262626" fill-opacity="0.88"/><circle cx="57.4" cy="19.1" r="4.14" fill="#262626" fill-opacity="0.88"/><circle cx="65.8" cy="20.6" r="3.10" fill="#262626" fill-opacity="0.88"/><circle cx="70.4" cy="24.8" r="1.95" fill="#262626" fill-opacity="0.88"/><circle cx="51.3" cy="26.3" r="1.72" fill="#262626" fill-opacity="0.88"/><circle cx="47.1" cy="26.6" r="1.03" fill="#262626" fill-opacity="0.88"/><circle cx="56.6" cy="27.9" r="2.76" fill="#262626" fill-opacity="0.88"/><circle cx="63.9" cy="28.6" r="3.10" fill="#262626" fill-opacity="0.88"/><circle cx="44.0" cy="29.8" r="2.64" fill="#262626" fill-opacity="0.88"/><circle cx="74.6" cy="22.9" r="1.26" fill="#262626" fill-opacity="0.88"/><circle cx="2.7" cy="31.1" r="1.72" fill="#262626" fill-opacity="0.88"/><circle cx="16.0" cy="31.5" r="2.18" fill="#262626" fill-opacity="0.88"/><circle cx="27.5" cy="30.4" r="1.95" fill="#262626" fill-opacity="0.88"/><circle cx="26.3" cy="38.0" r="3.45" fill="#262626" fill-opacity="0.88"/><circle cx="35.5" cy="36.5" r="1.95" fill="#262626" fill-opacity="0.88"/><circle cx="40.0" cy="33.8" r="1.26" fill="#262626" fill-opacity="0.88"/><circle cx="38.2" cy="40.7" r="2.76" fill="#262626" fill-opacity="0.88"/><circle cx="33.2" cy="46.8" r="2.76" fill="#262626" fill-opacity="0.88"/><circle cx="35.9" cy="52.9" r="1.61" fill="#262626" fill-opacity="0.88"/><circle cx="27.9" cy="54.4" r="1.61" fill="#262626" fill-opacity="0.88"/><circle cx="32.1" cy="57.5" r="2.76" fill="#262626" fill-opacity="0.88"/><circle cx="38.2" cy="59.8" r="1.95" fill="#262626" fill-opacity="0.88"/><circle cx="25.6" cy="49.0" r="0.92" fill="#262626" fill-opacity="0.88"/><circle cx="51.3" cy="31.7" r="1.26" fill="#262626" fill-opacity="0.88"/><circle cx="58.9" cy="35.0" r="2.64" fill="#262626" fill-opacity="0.88"/><circle cx="70.0" cy="31.5" r="2.18" fill="#262626" fill-opacity="0.88"/><circle cx="52.1" cy="36.5" r="2.42" fill="#262626" fill-opacity="0.88"/><circle cx="64.7" cy="38.0" r="3.10" fill="#262626" fill-opacity="0.88"/><circle cx="71.5" cy="37.6" r="2.42" fill="#262626" fill-opacity="0.88"/><circle cx="43.3" cy="42.2" r="1.95" fill="#262626" fill-opacity="0.88"/><circle cx="54.7" cy="41.5" r="2.64" fill="#262626" fill-opacity="0.88"/><circle cx="60.8" cy="44.5" r="3.10" fill="#262626" fill-opacity="0.88"/><circle cx="69.6" cy="43.7" r="2.64" fill="#262626" fill-opacity="0.88"/><circle cx="51.7" cy="46.4" r="3.68" fill="#262626" fill-opacity="0.88"/><circle cx="57.4" cy="47.2" r="1.03" fill="#262626" fill-opacity="0.88"/><circle cx="51.7" cy="52.9" r="3.33" fill="#262626" fill-opacity="0.88"/><circle cx="60.8" cy="52.5" r="2.64" fill="#262626" fill-opacity="0.88"/><circle cx="43.3" cy="54.0" r="2.18" fill="#262626" fill-opacity="0.88"/><circle cx="60.8" cy="57.1" r="1.95" fill="#262626" fill-opacity="0.88"/><circle cx="45.6" cy="58.2" r="2.64" fill="#262626" fill-opacity="0.88"/><circle cx="55.1" cy="59.4" r="1.72" fill="#262626" fill-opacity="0.88"/><circle cx="48.6" cy="35.3" r="0.92" fill="#262626" fill-opacity="0.88"/><circle cx="28.3" cy="20.1" r="2.30" fill="#262626" fill-opacity="0.88"/></g>
<rect x="23.5" y="15.5" width="9.6" height="9.2" fill="none" stroke="#3d7cc4" stroke-width="1.2"/>
<g><rect x="1.6" y="35.9" width="24.2" height="23.9" fill="#f2f2f2" stroke="#e6e6e6" stroke-width="0.9"/>
<ellipse cx="12.6" cy="47.9" rx="8.6" ry="8.6" transform="rotate(0 12.6 47.9)" fill="url(#sp040)" stroke="#444" stroke-width="0.9" filter="url(#bl05)"/>
</g>
</g>
<g transform="translate(55 82)" clip-path="url(#c10)">
<rect x="0" y="0" width="83" height="61" fill="#000"/>
<rect x="2.2" y="-2" width="74.6" height="66" rx="12" fill="url(#g10)" filter="url(#blf)"/>
<g filter="url(#bl05)"><circle cx="4.3" cy="0.5" r="0.67" fill="#303030" fill-opacity="0.29"/><circle cx="3.9" cy="0.0" r="0.28" fill="#fff" fill-opacity="0.32"/><circle cx="29.0" cy="1.7" r="0.57" fill="#303030" fill-opacity="0.29"/><circle cx="28.6" cy="1.3" r="0.24" fill="#fff" fill-opacity="0.32"/><circle cx="6.0" cy="5.7" r="0.75" fill="#303030" fill-opacity="0.29"/><circle cx="5.5" cy="5.2" r="0.32" fill="#fff" fill-opacity="0.32"/><circle cx="75.5" cy="5.5" r="0.70" fill="#303030" fill-opacity="0.29"/><circle cx="75.0" cy="5.1" r="0.29" fill="#fff" fill-opacity="0.32"/><circle cx="3.4" cy="8.9" r="0.72" fill="#303030" fill-opacity="0.29"/><circle cx="3.0" cy="8.4" r="0.30" fill="#fff" fill-opacity="0.32"/><circle cx="13.7" cy="8.9" r="0.67" fill="#303030" fill-opacity="0.29"/><circle cx="13.2" cy="8.5" r="0.28" fill="#fff" fill-opacity="0.32"/><circle cx="73.6" cy="10.0" r="0.71" fill="#303030" fill-opacity="0.29"/><circle cx="73.2" cy="9.5" r="0.30" fill="#fff" fill-opacity="0.32"/><circle cx="6.0" cy="14.3" r="0.69" fill="#303030" fill-opacity="0.29"/><circle cx="5.6" cy="13.8" r="0.29" fill="#fff" fill-opacity="0.32"/><circle cx="31.1" cy="14.3" r="1.03" fill="#303030" fill-opacity="0.29"/><circle cx="30.4" cy="13.6" r="0.43" fill="#fff" fill-opacity="0.32"/><circle cx="23.7" cy="18.5" r="0.74" fill="#303030" fill-opacity="0.29"/><circle cx="23.2" cy="18.0" r="0.31" fill="#fff" fill-opacity="0.32"/><circle cx="29.4" cy="18.8" r="1.06" fill="#303030" fill-opacity="0.29"/><circle cx="28.7" cy="18.1" r="0.45" fill="#fff" fill-opacity="0.32"/><circle cx="33.5" cy="17.6" r="1.03" fill="#303030" fill-opacity="0.29"/><circle cx="32.8" cy="17.0" r="0.43" fill="#fff" fill-opacity="0.32"/><circle cx="26.3" cy="22.8" r="0.87" fill="#303030" fill-opacity="0.29"/><circle cx="25.7" cy="22.2" r="0.36" fill="#fff" fill-opacity="0.32"/><circle cx="36.5" cy="22.0" r="0.97" fill="#303030" fill-opacity="0.29"/><circle cx="35.9" cy="21.4" r="0.41" fill="#fff" fill-opacity="0.32"/><circle cx="4.2" cy="27.7" r="0.79" fill="#303030" fill-opacity="0.29"/><circle cx="3.7" cy="27.2" r="0.33" fill="#fff" fill-opacity="0.32"/><circle cx="18.6" cy="26.9" r="0.75" fill="#303030" fill-opacity="0.29"/><circle cx="18.1" cy="26.4" r="0.32" fill="#fff" fill-opacity="0.32"/><circle cx="11.5" cy="31.9" r="0.87" fill="#303030" fill-opacity="0.29"/><circle cx="11.0" cy="31.3" r="0.37" fill="#fff" fill-opacity="0.32"/><circle cx="15.6" cy="32.1" r="0.91" fill="#303030" fill-opacity="0.29"/><circle cx="15.0" cy="31.5" r="0.38" fill="#fff" fill-opacity="0.32"/><circle cx="33.2" cy="36.1" r="1.47" fill="#303030" fill-opacity="0.29"/><circle cx="32.2" cy="35.1" r="0.62" fill="#fff" fill-opacity="0.32"/><circle cx="48.1" cy="36.1" r="1.45" fill="#303030" fill-opacity="0.29"/><circle cx="47.2" cy="35.2" r="0.61" fill="#fff" fill-opacity="0.32"/><circle cx="70.8" cy="39.8" r="1.03" fill="#303030" fill-opacity="0.29"/><circle cx="70.2" cy="39.1" r="0.43" fill="#fff" fill-opacity="0.32"/><circle cx="39.4" cy="44.5" r="1.40" fill="#303030" fill-opacity="0.29"/><circle cx="38.5" cy="43.6" r="0.59" fill="#fff" fill-opacity="0.32"/><circle cx="68.1" cy="44.0" r="1.20" fill="#303030" fill-opacity="0.29"/><circle cx="67.3" cy="43.3" r="0.50" fill="#fff" fill-opacity="0.32"/><circle cx="41.7" cy="48.2" r="1.43" fill="#303030" fill-opacity="0.29"/><circle cx="40.8" cy="47.3" r="0.60" fill="#fff" fill-opacity="0.32"/><circle cx="31.5" cy="58.1" r="1.10" fill="#303030" fill-opacity="0.29"/><circle cx="30.7" cy="57.4" r="0.46" fill="#fff" fill-opacity="0.32"/><circle cx="56.1" cy="58.2" r="1.25" fill="#303030" fill-opacity="0.29"/><circle cx="55.3" cy="57.4" r="0.52" fill="#fff" fill-opacity="0.32"/><circle cx="33.0" cy="62.0" r="1.12" fill="#303030" fill-opacity="0.29"/><circle cx="32.2" cy="61.3" r="0.47" fill="#fff" fill-opacity="0.32"/><circle cx="53.3" cy="62.1" r="1.16" fill="#303030" fill-opacity="0.29"/><circle cx="52.6" cy="61.3" r="0.49" fill="#fff" fill-opacity="0.32"/><circle cx="58.1" cy="61.4" r="0.95" fill="#303030" fill-opacity="0.29"/><circle cx="57.4" cy="60.8" r="0.40" fill="#fff" fill-opacity="0.32"/><circle cx="63.5" cy="61.3" r="0.83" fill="#303030" fill-opacity="0.29"/><circle cx="63.0" cy="60.7" r="0.35" fill="#fff" fill-opacity="0.32"/><circle cx="68.0" cy="62.0" r="0.92" fill="#303030" fill-opacity="0.29"/><circle cx="67.4" cy="61.4" r="0.39" fill="#fff" fill-opacity="0.32"/><circle cx="74.0" cy="61.5" r="0.81" fill="#303030" fill-opacity="0.29"/><circle cx="73.5" cy="61.0" r="0.34" fill="#fff" fill-opacity="0.32"/><circle cx="10.1" cy="4.4" r="1.49" fill="#303030" fill-opacity="0.36"/><circle cx="9.2" cy="3.5" r="0.56" fill="#fff" fill-opacity="0.32"/><circle cx="15.1" cy="2.5" r="1.18" fill="#303030" fill-opacity="0.36"/><circle cx="14.4" cy="1.8" r="0.44" fill="#fff" fill-opacity="0.32"/><circle cx="18.0" cy="4.7" r="1.10" fill="#303030" fill-opacity="0.36"/><circle cx="17.4" cy="4.1" r="0.41" fill="#fff" fill-opacity="0.32"/><circle cx="21.1" cy="7.0" r="1.10" fill="#303030" fill-opacity="0.36"/><circle cx="20.5" cy="6.4" r="0.41" fill="#fff" fill-opacity="0.32"/><circle cx="20.7" cy="0.9" r="1.10" fill="#303030" fill-opacity="0.36"/><circle cx="20.1" cy="0.3" r="0.41" fill="#fff" fill-opacity="0.32"/><circle cx="26.1" cy="5.8" r="1.10" fill="#303030" fill-opacity="0.36"/><circle cx="25.5" cy="5.2" r="0.41" fill="#fff" fill-opacity="0.32"/><circle cx="31.9" cy="5.2" r="1.18" fill="#303030" fill-opacity="0.36"/><circle cx="31.2" cy="4.5" r="0.44" fill="#fff" fill-opacity="0.32"/><circle cx="36.1" cy="8.6" r="1.80" fill="#303030" fill-opacity="0.36"/><circle cx="35.1" cy="7.6" r="0.68" fill="#fff" fill-opacity="0.32"/><circle cx="34.9" cy="1.0" r="1.18" fill="#303030" fill-opacity="0.36"/><circle cx="34.2" cy="0.3" r="0.44" fill="#fff" fill-opacity="0.32"/><circle cx="39.0" cy="4.7" r="1.10" fill="#303030" fill-opacity="0.36"/><circle cx="38.4" cy="4.1" r="0.41" fill="#fff" fill-opacity="0.32"/><circle cx="10.1" cy="12.0" r="1.80" fill="#303030" fill-opacity="0.36"/><circle cx="9.1" cy="11.0" r="0.68" fill="#fff" fill-opacity="0.32"/><circle cx="17.0" cy="12.8" r="1.65" fill="#303030" fill-opacity="0.36"/><circle cx="16.1" cy="11.9" r="0.62" fill="#fff" fill-opacity="0.32"/><circle cx="24.2" cy="11.7" r="1.65" fill="#303030" fill-opacity="0.36"/><circle cx="23.3" cy="10.8" r="0.62" fill="#fff" fill-opacity="0.32"/><circle cx="12.1" cy="18.2" r="1.88" fill="#303030" fill-opacity="0.36"/><circle cx="11.0" cy="17.1" r="0.71" fill="#fff" fill-opacity="0.32"/><circle cx="18.1" cy="20.4" r="1.18" fill="#303030" fill-opacity="0.36"/><circle cx="17.4" cy="19.7" r="0.44" fill="#fff" fill-opacity="0.32"/><circle cx="4.4" cy="20.4" r="1.65" fill="#303030" fill-opacity="0.36"/><circle cx="3.5" cy="19.5" r="0.62" fill="#fff" fill-opacity="0.32"/><circle cx="12.8" cy="23.5" r="1.49" fill="#303030" fill-opacity="0.36"/><circle cx="11.9" cy="22.6" r="0.56" fill="#fff" fill-opacity="0.32"/><circle cx="8.6" cy="27.7" r="1.65" fill="#303030" fill-opacity="0.36"/><circle cx="7.7" cy="26.8" r="0.62" fill="#fff" fill-opacity="0.32"/><circle cx="31.6" cy="25.5" r="2.12" fill="#303030" fill-opacity="0.36"/><circle cx="30.4" cy="24.3" r="0.79" fill="#fff" fill-opacity="0.32"/><circle cx="38.7" cy="18.5" r="1.33" fill="#303030" fill-opacity="0.36"/><circle cx="37.9" cy="17.7" r="0.50" fill="#fff" fill-opacity="0.32"/><circle cx="26.2" cy="28.4" r="1.65" fill="#303030" fill-opacity="0.36"/><circle cx="25.3" cy="27.5" r="0.62" fill="#fff" fill-opacity="0.32"/><circle cx="37.6" cy="28.8" r="1.49" fill="#303030" fill-opacity="0.36"/><circle cx="36.7" cy="27.9" r="0.56" fill="#fff" fill-opacity="0.32"/><circle cx="53.4" cy="1.0" r="1.33" fill="#303030" fill-opacity="0.36"/><circle cx="52.6" cy="0.2" r="0.50" fill="#fff" fill-opacity="0.32"/><circle cx="43.8" cy="3.2" r="1.10" fill="#303030" fill-opacity="0.36"/><circle cx="43.2" cy="2.6" r="0.41" fill="#fff" fill-opacity="0.32"/><circle cx="48.7" cy="3.2" r="0.86" fill="#303030" fill-opacity="0.36"/><circle cx="48.2" cy="2.7" r="0.32" fill="#fff" fill-opacity="0.32"/><circle cx="65.5" cy="3.5" r="0.86" fill="#303030" fill-opacity="0.36"/><circle cx="65.0" cy="3.0" r="0.32" fill="#fff" fill-opacity="0.32"/><circle cx="70.6" cy="6.3" r="1.80" fill="#303030" fill-opacity="0.36"/><circle cx="69.6" cy="5.3" r="0.68" fill="#fff" fill-opacity="0.32"/><circle cx="43.1" cy="9.0" r="1.33" fill="#303030" fill-opacity="0.36"/><circle cx="42.3" cy="8.2" r="0.50" fill="#fff" fill-opacity="0.32"/><circle cx="48.5" cy="9.0" r="1.65" fill="#303030" fill-opacity="0.36"/><circle cx="47.6" cy="8.1" r="0.62" fill="#fff" fill-opacity="0.32"/><circle cx="55.3" cy="9.4" r="1.33" fill="#303030" fill-opacity="0.36"/><circle cx="54.5" cy="8.6" r="0.50" fill="#fff" fill-opacity="0.32"/><circle cx="59.0" cy="7.7" r="1.10" fill="#303030" fill-opacity="0.36"/><circle cx="58.4" cy="7.1" r="0.41" fill="#fff" fill-opacity="0.32"/><circle cx="65.1" cy="8.9" r="1.10" fill="#303030" fill-opacity="0.36"/><circle cx="64.5" cy="8.3" r="0.41" fill="#fff" fill-opacity="0.32"/><circle cx="52.3" cy="13.2" r="1.33" fill="#303030" fill-opacity="0.36"/><circle cx="51.5" cy="12.4" r="0.50" fill="#fff" fill-opacity="0.32"/><circle cx="68.3" cy="13.9" r="1.65" fill="#303030" fill-opacity="0.36"/><circle cx="67.4" cy="13.0" r="0.62" fill="#fff" fill-opacity="0.32"/><circle cx="42.7" cy="15.1" r="1.18" fill="#303030" fill-opacity="0.36"/><circle cx="42.0" cy="14.4" r="0.44" fill="#fff" fill-opacity="0.32"/><circle cx="56.9" cy="17.5" r="2.27" fill="#303030" fill-opacity="0.36"/><circle cx="55.6" cy="16.2" r="0.85" fill="#fff" fill-opacity="0.32"/><circle cx="64.0" cy="18.4" r="1.10" fill="#303030" fill-opacity="0.36"/><circle cx="63.4" cy="17.8" r="0.41" fill="#fff" fill-opacity="0.32"/><circle cx="71.0" cy="19.3" r="1.65" fill="#303030" fill-opacity="0.36"/><circle cx="70.1" cy="18.4" r="0.62" fill="#fff" fill-opacity="0.32"/><circle cx="75.6" cy="15.5" r="1.18" fill="#303030" fill-opacity="0.36"/><circle cx="74.9" cy="14.8" r="0.44" fill="#fff" fill-opacity="0.32"/><circle cx="45.1" cy="20.5" r="2.27" fill="#303030" fill-opacity="0.36"/><circle cx="43.8" cy="19.2" r="0.85" fill="#fff" fill-opacity="0.32"/><circle cx="53.1" cy="23.6" r="1.88" fill="#303030" fill-opacity="0.36"/><circle cx="52.0" cy="22.5" r="0.71" fill="#fff" fill-opacity="0.32"/><circle cx="61.0" cy="23.5" r="1.65" fill="#303030" fill-opacity="0.36"/><circle cx="60.1" cy="22.6" r="0.62" fill="#fff" fill-opacity="0.32"/><circle cx="65.5" cy="24.5" r="0.71" fill="#303030" fill-opacity="0.36"/><circle cx="65.1" cy="24.1" r="0.26" fill="#fff" fill-opacity="0.32"/><circle cx="74.0" cy="23.1" r="1.33" fill="#303030" fill-opacity="0.36"/><circle cx="73.2" cy="22.3" r="0.50" fill="#fff" fill-opacity="0.32"/><circle cx="44.1" cy="26.1" r="1.10" fill="#303030" fill-opacity="0.36"/><circle cx="43.5" cy="25.5" r="0.41" fill="#fff" fill-opacity="0.32"/><circle cx="49.3" cy="28.9" r="1.88" fill="#303030" fill-opacity="0.36"/><circle cx="48.2" cy="27.8" r="0.71" fill="#fff" fill-opacity="0.32"/><circle cx="58.0" cy="30.0" r="1.49" fill="#303030" fill-opacity="0.36"/><circle cx="57.1" cy="29.1" r="0.56" fill="#fff" fill-opacity="0.32"/><circle cx="64.9" cy="28.4" r="1.33" fill="#303030" fill-opacity="0.36"/><circle cx="64.1" cy="27.6" r="0.50" fill="#fff" fill-opacity="0.32"/><circle cx="72.1" cy="28.8" r="1.49" fill="#303030" fill-opacity="0.36"/><circle cx="71.2" cy="27.9" r="0.56" fill="#fff" fill-opacity="0.32"/><circle cx="6.6" cy="34.3" r="1.10" fill="#303030" fill-opacity="0.36"/><circle cx="6.0" cy="33.7" r="0.41" fill="#fff" fill-opacity="0.32"/><circle cx="29.6" cy="33.6" r="1.33" fill="#303030" fill-opacity="0.36"/><circle cx="28.8" cy="32.8" r="0.50" fill="#fff" fill-opacity="0.32"/><circle cx="24.6" cy="36.3" r="1.33" fill="#303030" fill-opacity="0.36"/><circle cx="23.8" cy="35.5" r="0.50" fill="#fff" fill-opacity="0.32"/><circle cx="29.1" cy="38.9" r="0.86" fill="#303030" fill-opacity="0.36"/><circle cx="28.6" cy="38.4" r="0.32" fill="#fff" fill-opacity="0.32"/><circle cx="33.4" cy="40.9" r="1.33" fill="#303030" fill-opacity="0.36"/><circle cx="32.6" cy="40.1" r="0.50" fill="#fff" fill-opacity="0.32"/><circle cx="28.8" cy="43.9" r="1.80" fill="#303030" fill-opacity="0.36"/><circle cx="27.8" cy="42.9" r="0.68" fill="#fff" fill-opacity="0.32"/><circle cx="35.3" cy="47.4" r="1.65" fill="#303030" fill-opacity="0.36"/><circle cx="34.4" cy="46.5" r="0.62" fill="#fff" fill-opacity="0.32"/><circle cx="30.7" cy="50.0" r="1.49" fill="#303030" fill-opacity="0.36"/><circle cx="29.8" cy="49.1" r="0.56" fill="#fff" fill-opacity="0.32"/><circle cx="41.8" cy="53.1" r="1.49" fill="#303030" fill-opacity="0.36"/><circle cx="40.9" cy="52.2" r="0.56" fill="#fff" fill-opacity="0.32"/><circle cx="36.1" cy="56.5" r="1.65" fill="#303030" fill-opacity="0.36"/><circle cx="35.2" cy="55.6" r="0.62" fill="#fff" fill-opacity="0.32"/><circle cx="27.6" cy="56.1" r="0.86" fill="#303030" fill-opacity="0.36"/><circle cx="27.1" cy="55.6" r="0.32" fill="#fff" fill-opacity="0.32"/><circle cx="37.2" cy="35.5" r="1.18" fill="#303030" fill-opacity="0.36"/><circle cx="36.5" cy="34.8" r="0.44" fill="#fff" fill-opacity="0.32"/><circle cx="46.5" cy="43.9" r="1.80" fill="#303030" fill-opacity="0.36"/><circle cx="45.5" cy="42.9" r="0.68" fill="#fff" fill-opacity="0.32"/><circle cx="54.2" cy="35.2" r="1.80" fill="#303030" fill-opacity="0.36"/><circle cx="53.2" cy="34.2" r="0.68" fill="#fff" fill-opacity="0.32"/><circle cx="58.4" cy="31.3" r="1.49" fill="#303030" fill-opacity="0.36"/><circle cx="57.5" cy="30.4" r="0.56" fill="#fff" fill-opacity="0.32"/><circle cx="59.9" cy="37.8" r="1.49" fill="#303030" fill-opacity="0.36"/><circle cx="59.0" cy="36.9" r="0.56" fill="#fff" fill-opacity="0.32"/><circle cx="52.9" cy="40.0" r="0.71" fill="#303030" fill-opacity="0.36"/><circle cx="52.5" cy="39.6" r="0.26" fill="#fff" fill-opacity="0.32"/><circle cx="54.9" cy="42.8" r="1.33" fill="#303030" fill-opacity="0.36"/><circle cx="54.1" cy="42.0" r="0.50" fill="#fff" fill-opacity="0.32"/><circle cx="63.8" cy="41.8" r="1.88" fill="#303030" fill-opacity="0.36"/><circle cx="62.7" cy="40.7" r="0.71" fill="#fff" fill-opacity="0.32"/><circle cx="67.2" cy="35.5" r="1.65" fill="#303030" fill-opacity="0.36"/><circle cx="66.3" cy="34.6" r="0.62" fill="#fff" fill-opacity="0.32"/><circle cx="72.8" cy="35.8" r="0.86" fill="#303030" fill-opacity="0.36"/><circle cx="72.3" cy="35.3" r="0.32" fill="#fff" fill-opacity="0.32"/><circle cx="51.1" cy="46.6" r="1.49" fill="#303030" fill-opacity="0.36"/><circle cx="50.2" cy="45.7" r="0.56" fill="#fff" fill-opacity="0.32"/><circle cx="45.8" cy="48.9" r="1.49" fill="#303030" fill-opacity="0.36"/><circle cx="44.9" cy="48.0" r="0.56" fill="#fff" fill-opacity="0.32"/><circle cx="55.3" cy="48.1" r="1.33" fill="#303030" fill-opacity="0.36"/><circle cx="54.5" cy="47.3" r="0.50" fill="#fff" fill-opacity="0.32"/><circle cx="66.0" cy="48.1" r="1.80" fill="#303030" fill-opacity="0.36"/><circle cx="65.0" cy="47.1" r="0.68" fill="#fff" fill-opacity="0.32"/><circle cx="73.3" cy="50.8" r="1.49" fill="#303030" fill-opacity="0.36"/><circle cx="72.4" cy="49.9" r="0.56" fill="#fff" fill-opacity="0.32"/><circle cx="59.5" cy="52.0" r="1.65" fill="#303030" fill-opacity="0.36"/><circle cx="58.6" cy="51.1" r="0.62" fill="#fff" fill-opacity="0.32"/><circle cx="50.0" cy="52.7" r="1.80" fill="#303030" fill-opacity="0.36"/><circle cx="49.0" cy="51.7" r="0.68" fill="#fff" fill-opacity="0.32"/><circle cx="42.7" cy="53.5" r="1.65" fill="#303030" fill-opacity="0.36"/><circle cx="41.8" cy="52.6" r="0.62" fill="#fff" fill-opacity="0.32"/><circle cx="64.1" cy="56.5" r="1.80" fill="#303030" fill-opacity="0.36"/><circle cx="63.1" cy="55.5" r="0.68" fill="#fff" fill-opacity="0.32"/><circle cx="50.7" cy="57.7" r="1.65" fill="#303030" fill-opacity="0.36"/><circle cx="49.8" cy="56.8" r="0.62" fill="#fff" fill-opacity="0.32"/><circle cx="70.1" cy="56.8" r="0.86" fill="#303030" fill-opacity="0.36"/><circle cx="69.6" cy="56.3" r="0.32" fill="#fff" fill-opacity="0.32"/><circle cx="71.6" cy="30.9" r="1.10" fill="#303030" fill-opacity="0.36"/><circle cx="71.0" cy="30.3" r="0.41" fill="#fff" fill-opacity="0.32"/><circle cx="76.3" cy="44.3" r="1.33" fill="#303030" fill-opacity="0.36"/><circle cx="75.5" cy="43.5" r="0.50" fill="#fff" fill-opacity="0.32"/><circle cx="43.8" cy="38.2" r="1.57" fill="#303030" fill-opacity="0.36"/><circle cx="42.9" cy="37.3" r="0.59" fill="#fff" fill-opacity="0.32"/></g>
<path d="M68 12 C69 20 69.5 28 68.5 38" stroke="#303030" stroke-opacity="0.35" stroke-width="1.6" fill="none" filter="url(#bl05)"/>
<circle cx="55.7" cy="6.1" r="13.6" fill="#000" fill-opacity="0.5" filter="url(#bl1)"/>
<circle cx="55.7" cy="6.1" r="13" fill="#050505"/>
<circle cx="55.7" cy="6.1" r="13.5" fill="none" stroke="#9a9a9a" stroke-width="0.7" stroke-opacity="0.6" filter="url(#bl05)"/>
<path d="M56.79 0.64 A5.46 5.46 0 0 1 54.06 11.29" fill="none" stroke="#555" stroke-width="1.3" filter="url(#bl05)"/>
<circle cx="55.2" cy="5.6" r="1.4" fill="#fff" filter="url(#bl05)"/>
<rect x="38.800000000000004" y="33.4" width="9.6" height="9.2" fill="none" stroke="#3d7cc4" stroke-width="1.2"/>
<g><rect x="1.6" y="35.9" width="24.2" height="23.9" fill="#e6e6e6" stroke="#e6e6e6" stroke-width="0.9"/>
<ellipse cx="13.7" cy="46.6" rx="5.5" ry="5.5" transform="rotate(0 13.7 46.6)" fill="url(#sp100)" stroke="#6a6a6a" stroke-width="0.9" filter="url(#bl05)"/>
<ellipse cx="3" cy="54.5" rx="3" ry="3" transform="rotate(0 3 54.5)" fill="url(#sp101)" stroke="#999" stroke-width="0.9" filter="url(#bl05)"/>
</g>
</g>
<g transform="translate(139 82)" clip-path="url(#c11)">
<rect x="0" y="0" width="83" height="61" fill="#000"/>
<rect x="2.2" y="-2" width="74.6" height="66" rx="12" fill="url(#g11)" filter="url(#blf)"/>
<g filter="url(#bl05)"><circle cx="3.8" cy="2.7" r="0.74" fill="#303030" fill-opacity="0.34"/><circle cx="3.3" cy="2.2" r="0.31" fill="#fff" fill-opacity="0.32"/><circle cx="53.9" cy="4.1" r="0.84" fill="#303030" fill-opacity="0.34"/><circle cx="53.3" cy="3.5" r="0.35" fill="#fff" fill-opacity="0.32"/><circle cx="5.6" cy="7.6" r="0.57" fill="#303030" fill-opacity="0.34"/><circle cx="5.3" cy="7.3" r="0.24" fill="#fff" fill-opacity="0.32"/><circle cx="15.4" cy="8.1" r="0.68" fill="#303030" fill-opacity="0.34"/><circle cx="15.0" cy="7.7" r="0.29" fill="#fff" fill-opacity="0.32"/><circle cx="31.4" cy="8.4" r="0.84" fill="#303030" fill-opacity="0.34"/><circle cx="30.8" cy="7.8" r="0.35" fill="#fff" fill-opacity="0.32"/><circle cx="2.5" cy="11.8" r="0.56" fill="#303030" fill-opacity="0.34"/><circle cx="2.1" cy="11.5" r="0.24" fill="#fff" fill-opacity="0.32"/><circle cx="38.2" cy="12.1" r="0.85" fill="#303030" fill-opacity="0.34"/><circle cx="37.7" cy="11.5" r="0.36" fill="#fff" fill-opacity="0.32"/><circle cx="48.7" cy="12.8" r="0.84" fill="#303030" fill-opacity="0.34"/><circle cx="48.1" cy="12.3" r="0.35" fill="#fff" fill-opacity="0.32"/><circle cx="62.8" cy="12.0" r="0.81" fill="#303030" fill-opacity="0.34"/><circle cx="62.3" cy="11.4" r="0.34" fill="#fff" fill-opacity="0.32"/><circle cx="25.7" cy="16.2" r="0.98" fill="#303030" fill-opacity="0.34"/><circle cx="25.1" cy="15.6" r="0.41" fill="#fff" fill-opacity="0.32"/><circle cx="30.9" cy="16.8" r="0.84" fill="#303030" fill-opacity="0.34"/><circle cx="30.4" cy="16.2" r="0.35" fill="#fff" fill-opacity="0.32"/><circle cx="50.5" cy="15.8" r="1.19" fill="#303030" fill-opacity="0.34"/><circle cx="49.7" cy="15.0" r="0.50" fill="#fff" fill-opacity="0.32"/><circle cx="23.3" cy="20.7" r="0.82" fill="#303030" fill-opacity="0.34"/><circle cx="22.8" cy="20.1" r="0.34" fill="#fff" fill-opacity="0.32"/><circle cx="28.2" cy="20.2" r="1.10" fill="#303030" fill-opacity="0.34"/><circle cx="27.5" cy="19.4" r="0.46" fill="#fff" fill-opacity="0.32"/><circle cx="17.6" cy="29.8" r="0.87" fill="#303030" fill-opacity="0.34"/><circle cx="17.0" cy="29.3" r="0.37" fill="#fff" fill-opacity="0.32"/><circle cx="22.7" cy="29.9" r="1.17" fill="#303030" fill-opacity="0.34"/><circle cx="22.0" cy="29.1" r="0.49" fill="#fff" fill-opacity="0.32"/><circle cx="33.9" cy="29.8" r="1.30" fill="#303030" fill-opacity="0.34"/><circle cx="33.1" cy="28.9" r="0.55" fill="#fff" fill-opacity="0.32"/><circle cx="43.9" cy="29.4" r="1.44" fill="#303030" fill-opacity="0.34"/><circle cx="42.9" cy="28.4" r="0.61" fill="#fff" fill-opacity="0.32"/><circle cx="73.2" cy="38.5" r="0.99" fill="#303030" fill-opacity="0.34"/><circle cx="72.6" cy="37.9" r="0.42" fill="#fff" fill-opacity="0.32"/><circle cx="40.7" cy="42.9" r="1.29" fill="#303030" fill-opacity="0.34"/><circle cx="39.9" cy="42.1" r="0.54" fill="#fff" fill-opacity="0.32"/><circle cx="70.6" cy="41.9" r="0.82" fill="#303030" fill-opacity="0.34"/><circle cx="70.0" cy="41.3" r="0.34" fill="#fff" fill-opacity="0.32"/><circle cx="58.4" cy="55.3" r="1.15" fill="#303030" fill-opacity="0.34"/><circle cx="57.7" cy="54.6" r="0.49" fill="#fff" fill-opacity="0.32"/><circle cx="30.9" cy="60.4" r="0.84" fill="#303030" fill-opacity="0.34"/><circle cx="30.4" cy="59.9" r="0.35" fill="#fff" fill-opacity="0.32"/><circle cx="45.6" cy="60.3" r="0.93" fill="#303030" fill-opacity="0.34"/><circle cx="45.0" cy="59.7" r="0.39" fill="#fff" fill-opacity="0.32"/><circle cx="54.9" cy="59.5" r="0.89" fill="#303030" fill-opacity="0.34"/><circle cx="54.3" cy="58.9" r="0.37" fill="#fff" fill-opacity="0.32"/><circle cx="60.4" cy="59.5" r="0.80" fill="#303030" fill-opacity="0.34"/><circle cx="59.9" cy="59.0" r="0.34" fill="#fff" fill-opacity="0.32"/><circle cx="64.9" cy="60.7" r="0.93" fill="#303030" fill-opacity="0.34"/><circle cx="64.3" cy="60.1" r="0.39" fill="#fff" fill-opacity="0.32"/><circle cx="70.2" cy="59.5" r="0.72" fill="#303030" fill-opacity="0.34"/><circle cx="69.7" cy="59.0" r="0.30" fill="#fff" fill-opacity="0.32"/><circle cx="75.5" cy="60.5" r="0.64" fill="#303030" fill-opacity="0.34"/><circle cx="75.1" cy="60.1" r="0.27" fill="#fff" fill-opacity="0.32"/><circle cx="10.9" cy="3.6" r="1.70" fill="#303030" fill-opacity="0.42"/><circle cx="9.9" cy="2.6" r="0.64" fill="#fff" fill-opacity="0.32"/><circle cx="15.9" cy="1.7" r="1.34" fill="#303030" fill-opacity="0.42"/><circle cx="15.1" cy="0.9" r="0.50" fill="#fff" fill-opacity="0.32"/><circle cx="18.9" cy="4.0" r="1.25" fill="#303030" fill-opacity="0.42"/><circle cx="18.1" cy="3.2" r="0.47" fill="#fff" fill-opacity="0.32"/><circle cx="22.0" cy="6.3" r="1.25" fill="#303030" fill-opacity="0.42"/><circle cx="21.2" cy="5.5" r="0.47" fill="#fff" fill-opacity="0.32"/><circle cx="21.6" cy="0.2" r="1.25" fill="#303030" fill-opacity="0.42"/><circle cx="20.8" cy="-0.6" r="0.47" fill="#fff" fill-opacity="0.32"/><circle cx="27.0" cy="5.1" r="1.25" fill="#303030" fill-opacity="0.42"/><circle cx="26.2" cy="4.3" r="0.47" fill="#fff" fill-opacity="0.32"/><circle cx="32.7" cy="4.4" r="1.34" fill="#303030" fill-opacity="0.42"/><circle cx="31.9" cy="3.6" r="0.50" fill="#fff" fill-opacity="0.32"/><circle cx="37.0" cy="7.9" r="2.06" fill="#303030" fill-opacity="0.42"/><circle cx="35.8" cy="6.7" r="0.77" fill="#fff" fill-opacity="0.32"/><circle cx="35.7" cy="0.2" r="1.34" fill="#303030" fill-opacity="0.42"/><circle cx="34.9" cy="-0.6" r="0.50" fill="#fff" fill-opacity="0.32"/><circle cx="39.9" cy="4.0" r="1.25" fill="#303030" fill-opacity="0.42"/><circle cx="39.1" cy="3.2" r="0.47" fill="#fff" fill-opacity="0.32"/><circle cx="11.0" cy="11.3" r="2.06" fill="#303030" fill-opacity="0.42"/><circle cx="9.8" cy="10.1" r="0.77" fill="#fff" fill-opacity="0.32"/><circle cx="17.9" cy="12.1" r="1.88" fill="#303030" fill-opacity="0.42"/><circle cx="16.8" cy="11.0" r="0.71" fill="#fff" fill-opacity="0.32"/><circle cx="25.1" cy="11.0" r="1.88" fill="#303030" fill-opacity="0.42"/><circle cx="24.0" cy="9.9" r="0.71" fill="#fff" fill-opacity="0.32"/><circle cx="12.9" cy="17.4" r="2.15" fill="#303030" fill-opacity="0.42"/><circle cx="11.6" cy="16.1" r="0.81" fill="#fff" fill-opacity="0.32"/><circle cx="18.9" cy="19.6" r="1.34" fill="#303030" fill-opacity="0.42"/><circle cx="18.1" cy="18.8" r="0.50" fill="#fff" fill-opacity="0.32"/><circle cx="5.3" cy="19.7" r="1.88" fill="#303030" fill-opacity="0.42"/><circle cx="4.2" cy="18.6" r="0.71" fill="#fff" fill-opacity="0.32"/><circle cx="13.6" cy="22.7" r="1.70" fill="#303030" fill-opacity="0.42"/><circle cx="12.6" cy="21.7" r="0.64" fill="#fff" fill-opacity="0.32"/><circle cx="9.5" cy="27.0" r="1.88" fill="#303030" fill-opacity="0.42"/><circle cx="8.4" cy="25.9" r="0.71" fill="#fff" fill-opacity="0.32"/><circle cx="32.4" cy="24.7" r="2.42" fill="#303030" fill-opacity="0.42"/><circle cx="31.0" cy="23.3" r="0.91" fill="#fff" fill-opacity="0.32"/><circle cx="39.5" cy="17.7" r="1.52" fill="#303030" fill-opacity="0.42"/><circle cx="38.6" cy="16.8" r="0.57" fill="#fff" fill-opacity="0.32"/><circle cx="27.1" cy="27.7" r="1.88" fill="#303030" fill-opacity="0.42"/><circle cx="26.0" cy="26.6" r="0.71" fill="#fff" fill-opacity="0.32"/><circle cx="38.4" cy="28.0" r="1.70" fill="#303030" fill-opacity="0.42"/><circle cx="37.4" cy="27.0" r="0.64" fill="#fff" fill-opacity="0.32"/><circle cx="54.2" cy="0.2" r="1.52" fill="#303030" fill-opacity="0.42"/><circle cx="53.3" cy="-0.7" r="0.57" fill="#fff" fill-opacity="0.32"/><circle cx="44.7" cy="2.5" r="1.25" fill="#303030" fill-opacity="0.42"/><circle cx="43.9" cy="1.7" r="0.47" fill="#fff" fill-opacity="0.32"/><circle cx="49.5" cy="2.4" r="0.99" fill="#303030" fill-opacity="0.42"/><circle cx="49.0" cy="1.9" r="0.37" fill="#fff" fill-opacity="0.32"/><circle cx="66.3" cy="2.7" r="0.99" fill="#303030" fill-opacity="0.42"/><circle cx="65.8" cy="2.2" r="0.37" fill="#fff" fill-opacity="0.32"/><circle cx="71.5" cy="5.6" r="2.06" fill="#303030" fill-opacity="0.42"/><circle cx="70.3" cy="4.4" r="0.77" fill="#fff" fill-opacity="0.32"/><circle cx="43.9" cy="8.2" r="1.52" fill="#303030" fill-opacity="0.42"/><circle cx="43.0" cy="7.3" r="0.57" fill="#fff" fill-opacity="0.32"/><circle cx="49.4" cy="8.3" r="1.88" fill="#303030" fill-opacity="0.42"/><circle cx="48.3" cy="7.2" r="0.71" fill="#fff" fill-opacity="0.32"/><circle cx="56.1" cy="8.6" r="1.52" fill="#303030" fill-opacity="0.42"/><circle cx="55.2" cy="7.7" r="0.57" fill="#fff" fill-opacity="0.32"/><circle cx="59.9" cy="7.0" r="1.25" fill="#303030" fill-opacity="0.42"/><circle cx="59.1" cy="6.2" r="0.47" fill="#fff" fill-opacity="0.32"/><circle cx="66.0" cy="8.2" r="1.25" fill="#303030" fill-opacity="0.42"/><circle cx="65.2" cy="7.4" r="0.47" fill="#fff" fill-opacity="0.32"/><circle cx="53.1" cy="12.4" r="1.52" fill="#303030" fill-opacity="0.42"/><circle cx="52.2" cy="11.5" r="0.57" fill="#fff" fill-opacity="0.32"/><circle cx="69.2" cy="13.2" r="1.88" fill="#303030" fill-opacity="0.42"/><circle cx="68.1" cy="12.1" r="0.71" fill="#fff" fill-opacity="0.32"/><circle cx="43.5" cy="14.3" r="1.34" fill="#303030" fill-opacity="0.42"/><circle cx="42.7" cy="13.5" r="0.50" fill="#fff" fill-opacity="0.32"/><circle cx="57.7" cy="16.7" r="2.60" fill="#303030" fill-opacity="0.42"/><circle cx="56.2" cy="15.2" r="0.97" fill="#fff" fill-opacity="0.32"/><circle cx="64.9" cy="17.7" r="1.25" fill="#303030" fill-opacity="0.42"/><circle cx="64.1" cy="16.9" r="0.47" fill="#fff" fill-opacity="0.32"/><circle cx="71.9" cy="18.6" r="1.88" fill="#303030" fill-opacity="0.42"/><circle cx="70.8" cy="17.5" r="0.71" fill="#fff" fill-opacity="0.32"/><circle cx="76.4" cy="14.7" r="1.34" fill="#303030" fill-opacity="0.42"/><circle cx="75.6" cy="13.9" r="0.50" fill="#fff" fill-opacity="0.32"/><circle cx="45.9" cy="19.7" r="2.60" fill="#303030" fill-opacity="0.42"/><circle cx="44.4" cy="18.2" r="0.97" fill="#fff" fill-opacity="0.32"/><circle cx="53.9" cy="22.8" r="2.15" fill="#303030" fill-opacity="0.42"/><circle cx="52.6" cy="21.5" r="0.81" fill="#fff" fill-opacity="0.32"/><circle cx="61.9" cy="22.8" r="1.88" fill="#303030" fill-opacity="0.42"/><circle cx="60.8" cy="21.7" r="0.71" fill="#fff" fill-opacity="0.32"/><circle cx="66.3" cy="23.7" r="0.81" fill="#303030" fill-opacity="0.42"/><circle cx="65.8" cy="23.2" r="0.30" fill="#fff" fill-opacity="0.32"/><circle cx="74.8" cy="22.3" r="1.52" fill="#303030" fill-opacity="0.42"/><circle cx="73.9" cy="21.4" r="0.57" fill="#fff" fill-opacity="0.32"/><circle cx="45.0" cy="25.4" r="1.25" fill="#303030" fill-opacity="0.42"/><circle cx="44.2" cy="24.6" r="0.47" fill="#fff" fill-opacity="0.32"/><circle cx="50.1" cy="28.1" r="2.15" fill="#303030" fill-opacity="0.42"/><circle cx="48.8" cy="26.8" r="0.81" fill="#fff" fill-opacity="0.32"/><circle cx="58.8" cy="29.2" r="1.70" fill="#303030" fill-opacity="0.42"/><circle cx="57.8" cy="28.2" r="0.64" fill="#fff" fill-opacity="0.32"/><circle cx="65.7" cy="27.6" r="1.52" fill="#303030" fill-opacity="0.42"/><circle cx="64.8" cy="26.7" r="0.57" fill="#fff" fill-opacity="0.32"/><circle cx="72.9" cy="28.0" r="1.70" fill="#303030" fill-opacity="0.42"/><circle cx="71.9" cy="27.0" r="0.64" fill="#fff" fill-opacity="0.32"/><circle cx="7.5" cy="33.6" r="1.25" fill="#303030" fill-opacity="0.42"/><circle cx="6.7" cy="32.8" r="0.47" fill="#fff" fill-opacity="0.32"/><circle cx="30.4" cy="32.8" r="1.52" fill="#303030" fill-opacity="0.42"/><circle cx="29.5" cy="31.9" r="0.57" fill="#fff" fill-opacity="0.32"/><circle cx="25.4" cy="35.5" r="1.52" fill="#303030" fill-opacity="0.42"/><circle cx="24.5" cy="34.6" r="0.57" fill="#fff" fill-opacity="0.32"/><circle cx="29.9" cy="38.1" r="0.99" fill="#303030" fill-opacity="0.42"/><circle cx="29.4" cy="37.6" r="0.37" fill="#fff" fill-opacity="0.32"/><circle cx="34.2" cy="40.1" r="1.52" fill="#303030" fill-opacity="0.42"/><circle cx="33.3" cy="39.2" r="0.57" fill="#fff" fill-opacity="0.32"/><circle cx="29.7" cy="43.2" r="2.06" fill="#303030" fill-opacity="0.42"/><circle cx="28.5" cy="42.0" r="0.77" fill="#fff" fill-opacity="0.32"/><circle cx="36.2" cy="46.7" r="1.88" fill="#303030" fill-opacity="0.42"/><circle cx="35.1" cy="45.6" r="0.71" fill="#fff" fill-opacity="0.32"/><circle cx="31.5" cy="49.2" r="1.70" fill="#303030" fill-opacity="0.42"/><circle cx="30.5" cy="48.2" r="0.64" fill="#fff" fill-opacity="0.32"/><circle cx="42.6" cy="52.3" r="1.70" fill="#303030" fill-opacity="0.42"/><circle cx="41.6" cy="51.3" r="0.64" fill="#fff" fill-opacity="0.32"/><circle cx="37.0" cy="55.8" r="1.88" fill="#303030" fill-opacity="0.42"/><circle cx="35.9" cy="54.7" r="0.71" fill="#fff" fill-opacity="0.32"/><circle cx="28.4" cy="55.3" r="0.99" fill="#303030" fill-opacity="0.42"/><circle cx="27.9" cy="54.8" r="0.37" fill="#fff" fill-opacity="0.32"/><circle cx="38.0" cy="34.7" r="1.34" fill="#303030" fill-opacity="0.42"/><circle cx="37.2" cy="33.9" r="0.50" fill="#fff" fill-opacity="0.32"/><circle cx="47.4" cy="43.2" r="2.06" fill="#303030" fill-opacity="0.42"/><circle cx="46.2" cy="42.0" r="0.77" fill="#fff" fill-opacity="0.32"/><circle cx="55.1" cy="34.5" r="2.06" fill="#303030" fill-opacity="0.42"/><circle cx="53.9" cy="33.3" r="0.77" fill="#fff" fill-opacity="0.32"/><circle cx="59.2" cy="30.5" r="1.70" fill="#303030" fill-opacity="0.42"/><circle cx="58.2" cy="29.5" r="0.64" fill="#fff" fill-opacity="0.32"/><circle cx="60.7" cy="37.0" r="1.70" fill="#303030" fill-opacity="0.42"/><circle cx="59.7" cy="36.0" r="0.64" fill="#fff" fill-opacity="0.32"/><circle cx="53.7" cy="39.2" r="0.81" fill="#303030" fill-opacity="0.42"/><circle cx="53.2" cy="38.7" r="0.30" fill="#fff" fill-opacity="0.32"/><circle cx="55.7" cy="42.0" r="1.52" fill="#303030" fill-opacity="0.42"/><circle cx="54.8" cy="41.1" r="0.57" fill="#fff" fill-opacity="0.32"/><circle cx="64.6" cy="41.0" r="2.15" fill="#303030" fill-opacity="0.42"/><circle cx="63.3" cy="39.7" r="0.81" fill="#fff" fill-opacity="0.32"/><circle cx="68.1" cy="34.8" r="1.88" fill="#303030" fill-opacity="0.42"/><circle cx="67.0" cy="33.7" r="0.71" fill="#fff" fill-opacity="0.32"/><circle cx="73.6" cy="35.0" r="0.99" fill="#303030" fill-opacity="0.42"/><circle cx="73.1" cy="34.5" r="0.37" fill="#fff" fill-opacity="0.32"/><circle cx="51.9" cy="45.8" r="1.70" fill="#303030" fill-opacity="0.42"/><circle cx="50.9" cy="44.8" r="0.64" fill="#fff" fill-opacity="0.32"/><circle cx="46.6" cy="48.1" r="1.70" fill="#303030" fill-opacity="0.42"/><circle cx="45.6" cy="47.1" r="0.64" fill="#fff" fill-opacity="0.32"/><circle cx="56.1" cy="47.3" r="1.52" fill="#303030" fill-opacity="0.42"/><circle cx="55.2" cy="46.4" r="0.57" fill="#fff" fill-opacity="0.32"/><circle cx="66.9" cy="47.4" r="2.06" fill="#303030" fill-opacity="0.42"/><circle cx="65.7" cy="46.2" r="0.77" fill="#fff" fill-opacity="0.32"/><circle cx="74.1" cy="50.0" r="1.70" fill="#303030" fill-opacity="0.42"/><circle cx="73.1" cy="49.0" r="0.64" fill="#fff" fill-opacity="0.32"/><circle cx="60.4" cy="51.3" r="1.88" fill="#303030" fill-opacity="0.42"/><circle cx="59.3" cy="50.2" r="0.71" fill="#fff" fill-opacity="0.32"/><circle cx="50.9" cy="52.0" r="2.06" fill="#303030" fill-opacity="0.42"/><circle cx="49.7" cy="50.8" r="0.77" fill="#fff" fill-opacity="0.32"/><circle cx="43.6" cy="52.8" r="1.88" fill="#303030" fill-opacity="0.42"/><circle cx="42.5" cy="51.7" r="0.71" fill="#fff" fill-opacity="0.32"/><circle cx="65.0" cy="55.8" r="2.06" fill="#303030" fill-opacity="0.42"/><circle cx="63.8" cy="54.6" r="0.77" fill="#fff" fill-opacity="0.32"/><circle cx="51.6" cy="57.0" r="1.88" fill="#303030" fill-opacity="0.42"/><circle cx="50.5" cy="55.9" r="0.71" fill="#fff" fill-opacity="0.32"/><circle cx="70.9" cy="56.0" r="0.99" fill="#303030" fill-opacity="0.42"/><circle cx="70.4" cy="55.5" r="0.37" fill="#fff" fill-opacity="0.32"/><circle cx="72.5" cy="30.2" r="1.25" fill="#303030" fill-opacity="0.42"/><circle cx="71.7" cy="29.4" r="0.47" fill="#fff" fill-opacity="0.32"/><circle cx="77.1" cy="43.5" r="1.52" fill="#303030" fill-opacity="0.42"/><circle cx="76.2" cy="42.6" r="0.57" fill="#fff" fill-opacity="0.32"/><circle cx="44.6" cy="37.4" r="1.79" fill="#303030" fill-opacity="0.42"/><circle cx="43.6" cy="36.4" r="0.67" fill="#fff" fill-opacity="0.32"/></g>
<path d="M68 12 C69 20 69.5 28 68.5 38" stroke="#303030" stroke-opacity="0.35" stroke-width="1.6" fill="none" filter="url(#bl05)"/>
<rect x="39.6" y="32.6" width="9.6" height="9.2" fill="none" stroke="#3d7cc4" stroke-width="1.2"/>
<g><rect x="1.6" y="35.9" width="24.2" height="23.9" fill="#e8e8e8" stroke="#e6e6e6" stroke-width="0.9"/>
<ellipse cx="13" cy="45.8" rx="6.2" ry="6.2" transform="rotate(0 13 45.8)" fill="url(#sp110)" stroke="#5c5c5c" stroke-width="0.9" filter="url(#bl05)"/>
<ellipse cx="19.8" cy="38" rx="1.6" ry="1.6" transform="rotate(0 19.8 38)" fill="url(#sp111)" stroke="#999" stroke-width="0.9" filter="url(#bl05)"/>
</g>
</g>
<g transform="translate(223 82)" clip-path="url(#c12)">
<rect x="0" y="0" width="83" height="61" fill="#000"/>
<rect x="2.2" y="-2" width="74.6" height="66" rx="12" fill="url(#g12)" filter="url(#blf)"/>
<g filter="url(#bl05)"><circle cx="56.2" cy="3.8" r="0.70" fill="#2a2a2a" fill-opacity="0.46"/><circle cx="55.8" cy="3.4" r="0.29" fill="#fff" fill-opacity="0.32"/><circle cx="3.2" cy="9.1" r="0.65" fill="#2a2a2a" fill-opacity="0.46"/><circle cx="2.7" cy="8.6" r="0.27" fill="#fff" fill-opacity="0.32"/><circle cx="75.2" cy="8.5" r="0.78" fill="#2a2a2a" fill-opacity="0.46"/><circle cx="74.6" cy="7.9" r="0.33" fill="#fff" fill-opacity="0.32"/><circle cx="5.3" cy="13.6" r="0.74" fill="#2a2a2a" fill-opacity="0.46"/><circle cx="4.8" cy="13.1" r="0.31" fill="#fff" fill-opacity="0.32"/><circle cx="25.3" cy="19.3" r="1.00" fill="#2a2a2a" fill-opacity="0.46"/><circle cx="24.7" cy="18.6" r="0.42" fill="#fff" fill-opacity="0.32"/><circle cx="31.2" cy="18.6" r="1.14" fill="#2a2a2a" fill-opacity="0.46"/><circle cx="30.5" cy="17.9" r="0.48" fill="#fff" fill-opacity="0.32"/><circle cx="76.0" cy="18.6" r="0.66" fill="#2a2a2a" fill-opacity="0.46"/><circle cx="75.6" cy="18.2" r="0.28" fill="#fff" fill-opacity="0.32"/><circle cx="39.3" cy="24.2" r="1.26" fill="#2a2a2a" fill-opacity="0.46"/><circle cx="38.5" cy="23.4" r="0.53" fill="#fff" fill-opacity="0.32"/><circle cx="2.6" cy="28.0" r="0.57" fill="#2a2a2a" fill-opacity="0.46"/><circle cx="2.2" cy="27.6" r="0.24" fill="#fff" fill-opacity="0.32"/><circle cx="13.9" cy="28.1" r="0.79" fill="#2a2a2a" fill-opacity="0.46"/><circle cx="13.4" cy="27.6" r="0.33" fill="#fff" fill-opacity="0.32"/><circle cx="12.1" cy="33.7" r="0.93" fill="#2a2a2a" fill-opacity="0.46"/><circle cx="11.5" cy="33.1" r="0.39" fill="#fff" fill-opacity="0.32"/><circle cx="16.9" cy="33.8" r="1.01" fill="#2a2a2a" fill-opacity="0.46"/><circle cx="16.3" cy="33.2" r="0.42" fill="#fff" fill-opacity="0.32"/><circle cx="39.8" cy="32.9" r="1.44" fill="#2a2a2a" fill-opacity="0.46"/><circle cx="38.8" cy="32.0" r="0.61" fill="#fff" fill-opacity="0.32"/><circle cx="48.2" cy="38.4" r="1.22" fill="#2a2a2a" fill-opacity="0.46"/><circle cx="47.4" cy="37.6" r="0.51" fill="#fff" fill-opacity="0.32"/><circle cx="70.6" cy="38.1" r="0.78" fill="#2a2a2a" fill-opacity="0.46"/><circle cx="70.1" cy="37.6" r="0.33" fill="#fff" fill-opacity="0.32"/><circle cx="75.3" cy="37.7" r="0.71" fill="#2a2a2a" fill-opacity="0.46"/><circle cx="74.8" cy="37.3" r="0.30" fill="#fff" fill-opacity="0.32"/><circle cx="75.8" cy="47.4" r="0.84" fill="#2a2a2a" fill-opacity="0.46"/><circle cx="75.3" cy="46.9" r="0.35" fill="#fff" fill-opacity="0.32"/><circle cx="31.3" cy="57.8" r="1.21" fill="#2a2a2a" fill-opacity="0.46"/><circle cx="30.5" cy="57.0" r="0.51" fill="#fff" fill-opacity="0.32"/><circle cx="41.8" cy="57.8" r="1.17" fill="#2a2a2a" fill-opacity="0.46"/><circle cx="41.0" cy="57.1" r="0.49" fill="#fff" fill-opacity="0.32"/><circle cx="58.4" cy="58.3" r="0.98" fill="#2a2a2a" fill-opacity="0.46"/><circle cx="57.8" cy="57.7" r="0.41" fill="#fff" fill-opacity="0.32"/><circle cx="75.8" cy="57.5" r="0.72" fill="#2a2a2a" fill-opacity="0.46"/><circle cx="75.3" cy="57.0" r="0.30" fill="#fff" fill-opacity="0.32"/><circle cx="28.0" cy="61.8" r="0.99" fill="#2a2a2a" fill-opacity="0.46"/><circle cx="27.3" cy="61.2" r="0.42" fill="#fff" fill-opacity="0.32"/><circle cx="9.1" cy="3.4" r="2.13" fill="#2a2a2a" fill-opacity="0.58" stroke="#202020" stroke-opacity="0.25" stroke-width="0.5"/><circle cx="14.1" cy="1.5" r="1.68" fill="#2a2a2a" fill-opacity="0.58" stroke="#202020" stroke-opacity="0.25" stroke-width="0.5"/><circle cx="17.1" cy="3.8" r="1.57" fill="#2a2a2a" fill-opacity="0.58" stroke="#202020" stroke-opacity="0.25" stroke-width="0.5"/><circle cx="20.2" cy="6.1" r="1.57" fill="#2a2a2a" fill-opacity="0.58" stroke="#202020" stroke-opacity="0.25" stroke-width="0.5"/><circle cx="19.8" cy="0.0" r="1.57" fill="#2a2a2a" fill-opacity="0.58" stroke="#202020" stroke-opacity="0.25" stroke-width="0.5"/><circle cx="25.2" cy="4.9" r="1.57" fill="#2a2a2a" fill-opacity="0.58" stroke="#202020" stroke-opacity="0.25" stroke-width="0.5"/><circle cx="30.9" cy="4.2" r="1.68" fill="#2a2a2a" fill-opacity="0.58" stroke="#202020" stroke-opacity="0.25" stroke-width="0.5"/><circle cx="35.1" cy="7.6" r="2.58" fill="#2a2a2a" fill-opacity="0.58" stroke="#202020" stroke-opacity="0.25" stroke-width="0.5"/><circle cx="33.9" cy="0.0" r="1.68" fill="#2a2a2a" fill-opacity="0.58" stroke="#202020" stroke-opacity="0.25" stroke-width="0.5"/><circle cx="38.1" cy="3.8" r="1.57" fill="#2a2a2a" fill-opacity="0.58" stroke="#202020" stroke-opacity="0.25" stroke-width="0.5"/><circle cx="9.1" cy="11.0" r="2.58" fill="#2a2a2a" fill-opacity="0.58" stroke="#202020" stroke-opacity="0.25" stroke-width="0.5"/><circle cx="16.0" cy="11.8" r="2.35" fill="#2a2a2a" fill-opacity="0.58" stroke="#202020" stroke-opacity="0.25" stroke-width="0.5"/><circle cx="23.2" cy="10.7" r="2.35" fill="#2a2a2a" fill-opacity="0.58" stroke="#202020" stroke-opacity="0.25" stroke-width="0.5"/><circle cx="11.0" cy="17.1" r="2.69" fill="#2a2a2a" fill-opacity="0.58" stroke="#202020" stroke-opacity="0.25" stroke-width="0.5"/><circle cx="17.1" cy="19.4" r="1.68" fill="#2a2a2a" fill-opacity="0.58" stroke="#202020" stroke-opacity="0.25" stroke-width="0.5"/><circle cx="3.4" cy="19.4" r="2.35" fill="#2a2a2a" fill-opacity="0.58" stroke="#202020" stroke-opacity="0.25" stroke-width="0.5"/><circle cx="11.8" cy="22.5" r="2.13" fill="#2a2a2a" fill-opacity="0.58" stroke="#202020" stroke-opacity="0.25" stroke-width="0.5"/><circle cx="7.6" cy="26.7" r="2.35" fill="#2a2a2a" fill-opacity="0.58" stroke="#202020" stroke-opacity="0.25" stroke-width="0.5"/><circle cx="30.5" cy="24.4" r="3.02" fill="#2a2a2a" fill-opacity="0.58" stroke="#202020" stroke-opacity="0.25" stroke-width="0.5"/><circle cx="37.7" cy="17.5" r="1.90" fill="#2a2a2a" fill-opacity="0.58" stroke="#202020" stroke-opacity="0.25" stroke-width="0.5"/><circle cx="25.2" cy="27.4" r="2.35" fill="#2a2a2a" fill-opacity="0.58" stroke="#202020" stroke-opacity="0.25" stroke-width="0.5"/><circle cx="36.6" cy="27.8" r="2.13" fill="#2a2a2a" fill-opacity="0.58" stroke="#202020" stroke-opacity="0.25" stroke-width="0.5"/><circle cx="52.4" cy="0.0" r="1.90" fill="#2a2a2a" fill-opacity="0.58" stroke="#202020" stroke-opacity="0.25" stroke-width="0.5"/><circle cx="42.9" cy="2.3" r="1.57" fill="#2a2a2a" fill-opacity="0.58" stroke="#202020" stroke-opacity="0.25" stroke-width="0.5"/><circle cx="47.8" cy="2.3" r="1.23" fill="#2a2a2a" fill-opacity="0.58" stroke="#202020" stroke-opacity="0.25" stroke-width="0.5"/><circle cx="64.6" cy="2.6" r="1.23" fill="#2a2a2a" fill-opacity="0.58" stroke="#202020" stroke-opacity="0.25" stroke-width="0.5"/><circle cx="69.6" cy="5.3" r="2.58" fill="#2a2a2a" fill-opacity="0.58" stroke="#202020" stroke-opacity="0.25" stroke-width="0.5"/><circle cx="42.1" cy="8.0" r="1.90" fill="#2a2a2a" fill-opacity="0.58" stroke="#202020" stroke-opacity="0.25" stroke-width="0.5"/><circle cx="47.5" cy="8.0" r="2.35" fill="#2a2a2a" fill-opacity="0.58" stroke="#202020" stroke-opacity="0.25" stroke-width="0.5"/><circle cx="54.3" cy="8.4" r="1.90" fill="#2a2a2a" fill-opacity="0.58" stroke="#202020" stroke-opacity="0.25" stroke-width="0.5"/><circle cx="58.1" cy="6.8" r="1.57" fill="#2a2a2a" fill-opacity="0.58" stroke="#202020" stroke-opacity="0.25" stroke-width="0.5"/><circle cx="64.2" cy="8.0" r="1.57" fill="#2a2a2a" fill-opacity="0.58" stroke="#202020" stroke-opacity="0.25" stroke-width="0.5"/><circle cx="51.3" cy="12.2" r="1.90" fill="#2a2a2a" fill-opacity="0.58" stroke="#202020" stroke-opacity="0.25" stroke-width="0.5"/><circle cx="67.3" cy="12.9" r="2.35" fill="#2a2a2a" fill-opacity="0.58" stroke="#202020" stroke-opacity="0.25" stroke-width="0.5"/><circle cx="41.7" cy="14.1" r="1.68" fill="#2a2a2a" fill-opacity="0.58" stroke="#202020" stroke-opacity="0.25" stroke-width="0.5"/><circle cx="55.8" cy="16.4" r="3.25" fill="#2a2a2a" fill-opacity="0.58" stroke="#202020" stroke-opacity="0.25" stroke-width="0.5"/><circle cx="63.1" cy="17.5" r="1.57" fill="#2a2a2a" fill-opacity="0.58" stroke="#202020" stroke-opacity="0.25" stroke-width="0.5"/><circle cx="70.0" cy="18.3" r="2.35" fill="#2a2a2a" fill-opacity="0.58" stroke="#202020" stroke-opacity="0.25" stroke-width="0.5"/><circle cx="74.6" cy="14.5" r="1.68" fill="#2a2a2a" fill-opacity="0.58" stroke="#202020" stroke-opacity="0.25" stroke-width="0.5"/><circle cx="44.0" cy="19.4" r="3.25" fill="#2a2a2a" fill-opacity="0.58" stroke="#202020" stroke-opacity="0.25" stroke-width="0.5"/><circle cx="52.0" cy="22.5" r="2.69" fill="#2a2a2a" fill-opacity="0.58" stroke="#202020" stroke-opacity="0.25" stroke-width="0.5"/><circle cx="60.0" cy="22.5" r="2.35" fill="#2a2a2a" fill-opacity="0.58" stroke="#202020" stroke-opacity="0.25" stroke-width="0.5"/><circle cx="64.6" cy="23.6" r="1.01" fill="#2a2a2a" fill-opacity="0.58" stroke="#202020" stroke-opacity="0.25" stroke-width="0.5"/><circle cx="73.0" cy="22.1" r="1.90" fill="#2a2a2a" fill-opacity="0.58" stroke="#202020" stroke-opacity="0.25" stroke-width="0.5"/><circle cx="43.2" cy="25.2" r="1.57" fill="#2a2a2a" fill-opacity="0.58" stroke="#202020" stroke-opacity="0.25" stroke-width="0.5"/><circle cx="48.2" cy="27.8" r="2.69" fill="#2a2a2a" fill-opacity="0.58" stroke="#202020" stroke-opacity="0.25" stroke-width="0.5"/><circle cx="57.0" cy="29.0" r="2.13" fill="#2a2a2a" fill-opacity="0.58" stroke="#202020" stroke-opacity="0.25" stroke-width="0.5"/><circle cx="63.9" cy="27.4" r="1.90" fill="#2a2a2a" fill-opacity="0.58" stroke="#202020" stroke-opacity="0.25" stroke-width="0.5"/><circle cx="71.1" cy="27.8" r="2.13" fill="#2a2a2a" fill-opacity="0.58" stroke="#202020" stroke-opacity="0.25" stroke-width="0.5"/><circle cx="5.7" cy="33.4" r="1.57" fill="#2a2a2a" fill-opacity="0.58" stroke="#202020" stroke-opacity="0.25" stroke-width="0.5"/><circle cx="28.6" cy="32.6" r="1.90" fill="#2a2a2a" fill-opacity="0.58" stroke="#202020" stroke-opacity="0.25" stroke-width="0.5"/><circle cx="23.6" cy="35.3" r="1.90" fill="#2a2a2a" fill-opacity="0.58" stroke="#202020" stroke-opacity="0.25" stroke-width="0.5"/><circle cx="28.2" cy="38.0" r="1.23" fill="#2a2a2a" fill-opacity="0.58" stroke="#202020" stroke-opacity="0.25" stroke-width="0.5"/><circle cx="32.4" cy="39.9" r="1.90" fill="#2a2a2a" fill-opacity="0.58" stroke="#202020" stroke-opacity="0.25" stroke-width="0.5"/><circle cx="27.8" cy="42.9" r="2.58" fill="#2a2a2a" fill-opacity="0.58" stroke="#202020" stroke-opacity="0.25" stroke-width="0.5"/><circle cx="34.3" cy="46.4" r="2.35" fill="#2a2a2a" fill-opacity="0.58" stroke="#202020" stroke-opacity="0.25" stroke-width="0.5"/><circle cx="29.7" cy="49.0" r="2.13" fill="#2a2a2a" fill-opacity="0.58" stroke="#202020" stroke-opacity="0.25" stroke-width="0.5"/><circle cx="40.8" cy="52.1" r="2.13" fill="#2a2a2a" fill-opacity="0.58" stroke="#202020" stroke-opacity="0.25" stroke-width="0.5"/><circle cx="35.1" cy="55.5" r="2.35" fill="#2a2a2a" fill-opacity="0.58" stroke="#202020" stroke-opacity="0.25" stroke-width="0.5"/><circle cx="26.7" cy="55.2" r="1.23" fill="#2a2a2a" fill-opacity="0.58" stroke="#202020" stroke-opacity="0.25" stroke-width="0.5"/><circle cx="36.2" cy="34.5" r="1.68" fill="#2a2a2a" fill-opacity="0.58" stroke="#202020" stroke-opacity="0.25" stroke-width="0.5"/><circle cx="45.5" cy="42.9" r="2.58" fill="#2a2a2a" fill-opacity="0.58" stroke="#202020" stroke-opacity="0.25" stroke-width="0.5"/><circle cx="53.2" cy="34.2" r="2.58" fill="#2a2a2a" fill-opacity="0.58" stroke="#202020" stroke-opacity="0.25" stroke-width="0.5"/><circle cx="57.4" cy="30.3" r="2.13" fill="#2a2a2a" fill-opacity="0.58" stroke="#202020" stroke-opacity="0.25" stroke-width="0.5"/><circle cx="58.9" cy="36.8" r="2.13" fill="#2a2a2a" fill-opacity="0.58" stroke="#202020" stroke-opacity="0.25" stroke-width="0.5"/><circle cx="52.0" cy="39.1" r="1.01" fill="#2a2a2a" fill-opacity="0.58" stroke="#202020" stroke-opacity="0.25" stroke-width="0.5"/><circle cx="53.9" cy="41.8" r="1.90" fill="#2a2a2a" fill-opacity="0.58" stroke="#202020" stroke-opacity="0.25" stroke-width="0.5"/><circle cx="62.7" cy="40.7" r="2.69" fill="#2a2a2a" fill-opacity="0.58" stroke="#202020" stroke-opacity="0.25" stroke-width="0.5"/><circle cx="66.2" cy="34.5" r="2.35" fill="#2a2a2a" fill-opacity="0.58" stroke="#202020" stroke-opacity="0.25" stroke-width="0.5"/><circle cx="71.9" cy="34.9" r="1.23" fill="#2a2a2a" fill-opacity="0.58" stroke="#202020" stroke-opacity="0.25" stroke-width="0.5"/><circle cx="50.1" cy="45.6" r="2.13" fill="#2a2a2a" fill-opacity="0.58" stroke="#202020" stroke-opacity="0.25" stroke-width="0.5"/><circle cx="44.8" cy="47.9" r="2.13" fill="#2a2a2a" fill-opacity="0.58" stroke="#202020" stroke-opacity="0.25" stroke-width="0.5"/><circle cx="54.3" cy="47.1" r="1.90" fill="#2a2a2a" fill-opacity="0.58" stroke="#202020" stroke-opacity="0.25" stroke-width="0.5"/><circle cx="65.0" cy="47.1" r="2.58" fill="#2a2a2a" fill-opacity="0.58" stroke="#202020" stroke-opacity="0.25" stroke-width="0.5"/><circle cx="72.3" cy="49.8" r="2.13" fill="#2a2a2a" fill-opacity="0.58" stroke="#202020" stroke-opacity="0.25" stroke-width="0.5"/><circle cx="58.5" cy="51.0" r="2.35" fill="#2a2a2a" fill-opacity="0.58" stroke="#202020" stroke-opacity="0.25" stroke-width="0.5"/><circle cx="49.0" cy="51.7" r="2.58" fill="#2a2a2a" fill-opacity="0.58" stroke="#202020" stroke-opacity="0.25" stroke-width="0.5"/><circle cx="41.7" cy="52.5" r="2.35" fill="#2a2a2a" fill-opacity="0.58" stroke="#202020" stroke-opacity="0.25" stroke-width="0.5"/><circle cx="63.1" cy="55.5" r="2.58" fill="#2a2a2a" fill-opacity="0.58" stroke="#202020" stroke-opacity="0.25" stroke-width="0.5"/><circle cx="49.7" cy="56.7" r="2.35" fill="#2a2a2a" fill-opacity="0.58" stroke="#202020" stroke-opacity="0.25" stroke-width="0.5"/><circle cx="69.2" cy="55.9" r="1.23" fill="#2a2a2a" fill-opacity="0.58" stroke="#202020" stroke-opacity="0.25" stroke-width="0.5"/><circle cx="70.7" cy="30.0" r="1.57" fill="#2a2a2a" fill-opacity="0.58" stroke="#202020" stroke-opacity="0.25" stroke-width="0.5"/><circle cx="75.3" cy="43.3" r="1.90" fill="#2a2a2a" fill-opacity="0.58" stroke="#202020" stroke-opacity="0.25" stroke-width="0.5"/><circle cx="42.8" cy="37.2" r="2.24" fill="#2a2a2a" fill-opacity="0.58" stroke="#202020" stroke-opacity="0.25" stroke-width="0.5"/></g>
<path d="M28.2 11.2" fill="none"/>
<g filter="url(#bl05)" transform="translate(-0.8000000000000043 -0.7999999999999972)" fill="#2a2a2a" fill-opacity="0.58"><path d="M28.8 11 C30.5 12 30.5 16 29.5 18 C28 20 25.5 21 23.5 23.5 C21.5 26 19.5 28 18.2 31.5 L15.3 32 C15.5 29 17.5 26 19.5 23.5 C21.5 21 24 19.5 25.5 17.5 C26.5 15 27 11.5 28.8 11Z"/></g>
<rect x="38.0" y="32.6" width="9.6" height="9.2" fill="none" stroke="#3d7cc4" stroke-width="1.2"/>
<g><rect x="1.6" y="35.9" width="24.2" height="23.9" fill="#ececec" stroke="#e6e6e6" stroke-width="0.9"/>
<ellipse cx="13" cy="48" rx="7.6" ry="7.6" transform="rotate(0 13 48)" fill="url(#sp120)" stroke="#5c5c5c" stroke-width="0.9" filter="url(#bl05)"/>
<ellipse cx="19" cy="39.5" rx="2.4" ry="2.4" transform="rotate(0 19 39.5)" fill="url(#sp121)" stroke="#888" stroke-width="0.9" filter="url(#bl05)"/>
</g>
</g>
<g transform="translate(307 82)" clip-path="url(#c13)">
<rect x="0" y="0" width="83" height="61" fill="#000"/>
<rect x="2.2" y="-2" width="74.6" height="66" rx="12" fill="url(#g13)" filter="url(#blf)"/>
<g filter="url(#bl05)"><circle cx="9.9" cy="3.8" r="2.18" fill="#2a2a2a" fill-opacity="0.86"/><circle cx="14.9" cy="1.9" r="1.72" fill="#2a2a2a" fill-opacity="0.86"/><circle cx="17.9" cy="4.2" r="1.61" fill="#2a2a2a" fill-opacity="0.86"/><circle cx="21.0" cy="6.5" r="1.61" fill="#2a2a2a" fill-opacity="0.86"/><circle cx="20.6" cy="0.4" r="1.61" fill="#2a2a2a" fill-opacity="0.86"/><circle cx="26.0" cy="5.3" r="1.61" fill="#2a2a2a" fill-opacity="0.86"/><circle cx="31.7" cy="4.6" r="1.72" fill="#2a2a2a" fill-opacity="0.86"/><circle cx="35.9" cy="8.0" r="2.64" fill="#2a2a2a" fill-opacity="0.86"/><circle cx="34.7" cy="0.4" r="1.72" fill="#2a2a2a" fill-opacity="0.86"/><circle cx="38.9" cy="4.2" r="1.61" fill="#2a2a2a" fill-opacity="0.86"/><circle cx="9.9" cy="11.4" r="2.64" fill="#2a2a2a" fill-opacity="0.86"/><circle cx="16.8" cy="12.2" r="2.42" fill="#2a2a2a" fill-opacity="0.86"/><circle cx="24.0" cy="11.1" r="2.42" fill="#2a2a2a" fill-opacity="0.86"/><circle cx="11.8" cy="17.5" r="2.76" fill="#2a2a2a" fill-opacity="0.86"/><circle cx="17.9" cy="19.8" r="1.72" fill="#2a2a2a" fill-opacity="0.86"/><circle cx="4.2" cy="19.8" r="2.42" fill="#2a2a2a" fill-opacity="0.86"/><circle cx="12.6" cy="22.9" r="2.18" fill="#2a2a2a" fill-opacity="0.86"/><circle cx="8.4" cy="27.1" r="2.42" fill="#2a2a2a" fill-opacity="0.86"/><circle cx="31.3" cy="24.8" r="3.10" fill="#2a2a2a" fill-opacity="0.86"/><circle cx="38.5" cy="17.9" r="1.95" fill="#2a2a2a" fill-opacity="0.86"/><circle cx="26.0" cy="27.8" r="2.42" fill="#2a2a2a" fill-opacity="0.86"/><circle cx="37.4" cy="28.2" r="2.18" fill="#2a2a2a" fill-opacity="0.86"/><circle cx="53.2" cy="0.4" r="1.95" fill="#2a2a2a" fill-opacity="0.86"/><circle cx="43.7" cy="2.7" r="1.61" fill="#2a2a2a" fill-opacity="0.86"/><circle cx="48.6" cy="2.7" r="1.26" fill="#2a2a2a" fill-opacity="0.86"/><circle cx="65.4" cy="3.0" r="1.26" fill="#2a2a2a" fill-opacity="0.86"/><circle cx="70.4" cy="5.7" r="2.64" fill="#2a2a2a" fill-opacity="0.86"/><circle cx="42.9" cy="8.4" r="1.95" fill="#2a2a2a" fill-opacity="0.86"/><circle cx="48.3" cy="8.4" r="2.42" fill="#2a2a2a" fill-opacity="0.86"/><circle cx="55.1" cy="8.8" r="1.95" fill="#2a2a2a" fill-opacity="0.86"/><circle cx="58.9" cy="7.2" r="1.61" fill="#2a2a2a" fill-opacity="0.86"/><circle cx="65.0" cy="8.4" r="1.61" fill="#2a2a2a" fill-opacity="0.86"/><circle cx="52.1" cy="12.6" r="1.95" fill="#2a2a2a" fill-opacity="0.86"/><circle cx="68.1" cy="13.3" r="2.42" fill="#2a2a2a" fill-opacity="0.86"/><circle cx="42.5" cy="14.5" r="1.72" fill="#2a2a2a" fill-opacity="0.86"/><circle cx="56.6" cy="16.8" r="3.33" fill="#2a2a2a" fill-opacity="0.86"/><circle cx="63.9" cy="17.9" r="1.61" fill="#2a2a2a" fill-opacity="0.86"/><circle cx="70.8" cy="18.7" r="2.42" fill="#2a2a2a" fill-opacity="0.86"/><circle cx="75.4" cy="14.9" r="1.72" fill="#2a2a2a" fill-opacity="0.86"/><circle cx="44.8" cy="19.8" r="3.33" fill="#2a2a2a" fill-opacity="0.86"/><circle cx="52.8" cy="22.9" r="2.76" fill="#2a2a2a" fill-opacity="0.86"/><circle cx="60.8" cy="22.9" r="2.42" fill="#2a2a2a" fill-opacity="0.86"/><circle cx="65.4" cy="24.0" r="1.03" fill="#2a2a2a" fill-opacity="0.86"/><circle cx="73.8" cy="22.5" r="1.95" fill="#2a2a2a" fill-opacity="0.86"/><circle cx="44.0" cy="25.6" r="1.61" fill="#2a2a2a" fill-opacity="0.86"/><circle cx="49.0" cy="28.2" r="2.76" fill="#2a2a2a" fill-opacity="0.86"/><circle cx="57.8" cy="29.4" r="2.18" fill="#2a2a2a" fill-opacity="0.86"/><circle cx="64.7" cy="27.8" r="1.95" fill="#2a2a2a" fill-opacity="0.86"/><circle cx="71.9" cy="28.2" r="2.18" fill="#2a2a2a" fill-opacity="0.86"/><circle cx="6.5" cy="33.8" r="1.61" fill="#2a2a2a" fill-opacity="0.86"/><circle cx="29.4" cy="33.0" r="1.95" fill="#2a2a2a" fill-opacity="0.86"/><circle cx="24.4" cy="35.7" r="1.95" fill="#2a2a2a" fill-opacity="0.86"/><circle cx="29.0" cy="38.4" r="1.26" fill="#2a2a2a" fill-opacity="0.86"/><circle cx="33.2" cy="40.3" r="1.95" fill="#2a2a2a" fill-opacity="0.86"/><circle cx="28.6" cy="43.3" r="2.64" fill="#2a2a2a" fill-opacity="0.86"/><circle cx="35.1" cy="46.8" r="2.42" fill="#2a2a2a" fill-opacity="0.86"/><circle cx="30.5" cy="49.4" r="2.18" fill="#2a2a2a" fill-opacity="0.86"/><circle cx="41.6" cy="52.5" r="2.18" fill="#2a2a2a" fill-opacity="0.86"/><circle cx="35.9" cy="55.9" r="2.42" fill="#2a2a2a" fill-opacity="0.86"/><circle cx="27.5" cy="55.6" r="1.26" fill="#2a2a2a" fill-opacity="0.86"/><circle cx="37.0" cy="34.9" r="1.72" fill="#2a2a2a" fill-opacity="0.86"/><circle cx="46.3" cy="43.3" r="2.64" fill="#2a2a2a" fill-opacity="0.86"/><circle cx="54.0" cy="34.6" r="2.64" fill="#2a2a2a" fill-opacity="0.86"/><circle cx="58.2" cy="30.7" r="2.18" fill="#2a2a2a" fill-opacity="0.86"/><circle cx="59.7" cy="37.2" r="2.18" fill="#2a2a2a" fill-opacity="0.86"/><circle cx="52.8" cy="39.5" r="1.03" fill="#2a2a2a" fill-opacity="0.86"/><circle cx="54.7" cy="42.2" r="1.95" fill="#2a2a2a" fill-opacity="0.86"/><circle cx="63.5" cy="41.1" r="2.76" fill="#2a2a2a" fill-opacity="0.86"/><circle cx="67.0" cy="34.9" r="2.42" fill="#2a2a2a" fill-opacity="0.86"/><circle cx="72.7" cy="35.3" r="1.26" fill="#2a2a2a" fill-opacity="0.86"/><circle cx="50.9" cy="46.0" r="2.18" fill="#2a2a2a" fill-opacity="0.86"/><circle cx="45.6" cy="48.3" r="2.18" fill="#2a2a2a" fill-opacity="0.86"/><circle cx="55.1" cy="47.5" r="1.95" fill="#2a2a2a" fill-opacity="0.86"/><circle cx="65.8" cy="47.5" r="2.64" fill="#2a2a2a" fill-opacity="0.86"/><circle cx="73.1" cy="50.2" r="2.18" fill="#2a2a2a" fill-opacity="0.86"/><circle cx="59.3" cy="51.4" r="2.42" fill="#2a2a2a" fill-opacity="0.86"/><circle cx="49.8" cy="52.1" r="2.64" fill="#2a2a2a" fill-opacity="0.86"/><circle cx="42.5" cy="52.9" r="2.42" fill="#2a2a2a" fill-opacity="0.86"/><circle cx="63.9" cy="55.9" r="2.64" fill="#2a2a2a" fill-opacity="0.86"/><circle cx="50.5" cy="57.1" r="2.42" fill="#2a2a2a" fill-opacity="0.86"/><circle cx="70.0" cy="56.3" r="1.26" fill="#2a2a2a" fill-opacity="0.86"/><circle cx="71.5" cy="30.4" r="1.61" fill="#2a2a2a" fill-opacity="0.86"/><circle cx="76.1" cy="43.7" r="1.95" fill="#2a2a2a" fill-opacity="0.86"/><circle cx="43.6" cy="37.6" r="2.30" fill="#2a2a2a" fill-opacity="0.86"/></g>
<path d="M29.0 11.6" fill="none"/>
<g filter="url(#bl05)" transform="translate(0.0 -0.3999999999999986)" fill="#2a2a2a" fill-opacity="0.86"><path d="M28.8 11 C30.5 12 30.5 16 29.5 18 C28 20 25.5 21 23.5 23.5 C21.5 26 19.5 28 18.2 31.5 L15.3 32 C15.5 29 17.5 26 19.5 23.5 C21.5 21 24 19.5 25.5 17.5 C26.5 15 27 11.5 28.8 11Z"/></g>
<rect x="38.800000000000004" y="33.0" width="9.6" height="9.2" fill="none" stroke="#3d7cc4" stroke-width="1.2"/>
<g><rect x="1.6" y="35.9" width="24.2" height="23.9" fill="#f0f0f0" stroke="#e6e6e6" stroke-width="0.9"/>
<ellipse cx="11.5" cy="47.3" rx="7" ry="7" transform="rotate(0 11.5 47.3)" fill="url(#sp130)" stroke="#555" stroke-width="0.9" filter="url(#bl05)"/>
</g>
</g>
<g transform="translate(391 82)" clip-path="url(#c14)">
<rect x="0" y="0" width="83" height="61" fill="#000"/>
<rect x="2.2" y="-2" width="74.6" height="66" rx="12" fill="url(#g14)" filter="url(#blf)"/>
<g filter="url(#bl05)"><circle cx="9.9" cy="4.2" r="2.18" fill="#262626" fill-opacity="0.88"/><circle cx="14.9" cy="2.3" r="1.72" fill="#262626" fill-opacity="0.88"/><circle cx="17.9" cy="4.6" r="1.61" fill="#262626" fill-opacity="0.88"/><circle cx="21.0" cy="6.9" r="1.61" fill="#262626" fill-opacity="0.88"/><circle cx="20.6" cy="0.8" r="1.61" fill="#262626" fill-opacity="0.88"/><circle cx="26.0" cy="5.7" r="1.61" fill="#262626" fill-opacity="0.88"/><circle cx="31.7" cy="5.0" r="1.72" fill="#262626" fill-opacity="0.88"/><circle cx="35.9" cy="8.4" r="2.64" fill="#262626" fill-opacity="0.88"/><circle cx="34.7" cy="0.8" r="1.72" fill="#262626" fill-opacity="0.88"/><circle cx="38.9" cy="4.6" r="1.61" fill="#262626" fill-opacity="0.88"/><circle cx="9.9" cy="11.8" r="2.64" fill="#262626" fill-opacity="0.88"/><circle cx="16.8" cy="12.6" r="2.42" fill="#262626" fill-opacity="0.88"/><circle cx="24.0" cy="11.5" r="2.42" fill="#262626" fill-opacity="0.88"/><circle cx="11.8" cy="17.9" r="2.76" fill="#262626" fill-opacity="0.88"/><circle cx="17.9" cy="20.2" r="1.72" fill="#262626" fill-opacity="0.88"/><circle cx="4.2" cy="20.2" r="2.42" fill="#262626" fill-opacity="0.88"/><circle cx="12.6" cy="23.3" r="2.18" fill="#262626" fill-opacity="0.88"/><circle cx="8.4" cy="27.5" r="2.42" fill="#262626" fill-opacity="0.88"/><circle cx="31.3" cy="25.2" r="3.10" fill="#262626" fill-opacity="0.88"/><circle cx="38.5" cy="18.3" r="1.95" fill="#262626" fill-opacity="0.88"/><circle cx="26.0" cy="28.2" r="2.42" fill="#262626" fill-opacity="0.88"/><circle cx="37.4" cy="28.6" r="2.18" fill="#262626" fill-opacity="0.88"/><circle cx="53.2" cy="0.8" r="1.95" fill="#262626" fill-opacity="0.88"/><circle cx="43.7" cy="3.1" r="1.61" fill="#262626" fill-opacity="0.88"/><circle cx="48.6" cy="3.1" r="1.26" fill="#262626" fill-opacity="0.88"/><circle cx="65.4" cy="3.4" r="1.26" fill="#262626" fill-opacity="0.88"/><circle cx="70.4" cy="6.1" r="2.64" fill="#262626" fill-opacity="0.88"/><circle cx="42.9" cy="8.8" r="1.95" fill="#262626" fill-opacity="0.88"/><circle cx="48.3" cy="8.8" r="2.42" fill="#262626" fill-opacity="0.88"/><circle cx="55.1" cy="9.2" r="1.95" fill="#262626" fill-opacity="0.88"/><circle cx="58.9" cy="7.6" r="1.61" fill="#262626" fill-opacity="0.88"/><circle cx="65.0" cy="8.8" r="1.61" fill="#262626" fill-opacity="0.88"/><circle cx="52.1" cy="13.0" r="1.95" fill="#262626" fill-opacity="0.88"/><circle cx="68.1" cy="13.7" r="2.42" fill="#262626" fill-opacity="0.88"/><circle cx="42.5" cy="14.9" r="1.72" fill="#262626" fill-opacity="0.88"/><circle cx="56.6" cy="17.2" r="3.33" fill="#262626" fill-opacity="0.88"/><circle cx="63.9" cy="18.3" r="1.61" fill="#262626" fill-opacity="0.88"/><circle cx="70.8" cy="19.1" r="2.42" fill="#262626" fill-opacity="0.88"/><circle cx="75.4" cy="15.3" r="1.72" fill="#262626" fill-opacity="0.88"/><circle cx="44.8" cy="20.2" r="3.33" fill="#262626" fill-opacity="0.88"/><circle cx="52.8" cy="23.3" r="2.76" fill="#262626" fill-opacity="0.88"/><circle cx="60.8" cy="23.3" r="2.42" fill="#262626" fill-opacity="0.88"/><circle cx="65.4" cy="24.4" r="1.03" fill="#262626" fill-opacity="0.88"/><circle cx="73.8" cy="22.9" r="1.95" fill="#262626" fill-opacity="0.88"/><circle cx="44.0" cy="26.0" r="1.61" fill="#262626" fill-opacity="0.88"/><circle cx="49.0" cy="28.6" r="2.76" fill="#262626" fill-opacity="0.88"/><circle cx="57.8" cy="29.8" r="2.18" fill="#262626" fill-opacity="0.88"/><circle cx="64.7" cy="28.2" r="1.95" fill="#262626" fill-opacity="0.88"/><circle cx="71.9" cy="28.6" r="2.18" fill="#262626" fill-opacity="0.88"/><circle cx="6.5" cy="34.2" r="1.61" fill="#262626" fill-opacity="0.88"/><circle cx="29.4" cy="33.4" r="1.95" fill="#262626" fill-opacity="0.88"/><circle cx="24.4" cy="36.1" r="1.95" fill="#262626" fill-opacity="0.88"/><circle cx="29.0" cy="38.8" r="1.26" fill="#262626" fill-opacity="0.88"/><circle cx="33.2" cy="40.7" r="1.95" fill="#262626" fill-opacity="0.88"/><circle cx="28.6" cy="43.7" r="2.64" fill="#262626" fill-opacity="0.88"/><circle cx="35.1" cy="47.2" r="2.42" fill="#262626" fill-opacity="0.88"/><circle cx="30.5" cy="49.8" r="2.18" fill="#262626" fill-opacity="0.88"/><circle cx="41.6" cy="52.9" r="2.18" fill="#262626" fill-opacity="0.88"/><circle cx="35.9" cy="56.3" r="2.42" fill="#262626" fill-opacity="0.88"/><circle cx="27.5" cy="56.0" r="1.26" fill="#262626" fill-opacity="0.88"/><circle cx="37.0" cy="35.3" r="1.72" fill="#262626" fill-opacity="0.88"/><circle cx="46.3" cy="43.7" r="2.64" fill="#262626" fill-opacity="0.88"/><circle cx="54.0" cy="35.0" r="2.64" fill="#262626" fill-opacity="0.88"/><circle cx="58.2" cy="31.1" r="2.18" fill="#262626" fill-opacity="0.88"/><circle cx="59.7" cy="37.6" r="2.18" fill="#262626" fill-opacity="0.88"/><circle cx="52.8" cy="39.9" r="1.03" fill="#262626" fill-opacity="0.88"/><circle cx="54.7" cy="42.6" r="1.95" fill="#262626" fill-opacity="0.88"/><circle cx="63.5" cy="41.5" r="2.76" fill="#262626" fill-opacity="0.88"/><circle cx="67.0" cy="35.3" r="2.42" fill="#262626" fill-opacity="0.88"/><circle cx="72.7" cy="35.7" r="1.26" fill="#262626" fill-opacity="0.88"/><circle cx="50.9" cy="46.4" r="2.18" fill="#262626" fill-opacity="0.88"/><circle cx="45.6" cy="48.7" r="2.18" fill="#262626" fill-opacity="0.88"/><circle cx="55.1" cy="47.9" r="1.95" fill="#262626" fill-opacity="0.88"/><circle cx="65.8" cy="47.9" r="2.64" fill="#262626" fill-opacity="0.88"/><circle cx="73.1" cy="50.6" r="2.18" fill="#262626" fill-opacity="0.88"/><circle cx="59.3" cy="51.8" r="2.42" fill="#262626" fill-opacity="0.88"/><circle cx="49.8" cy="52.5" r="2.64" fill="#262626" fill-opacity="0.88"/><circle cx="42.5" cy="53.3" r="2.42" fill="#262626" fill-opacity="0.88"/><circle cx="63.9" cy="56.3" r="2.64" fill="#262626" fill-opacity="0.88"/><circle cx="50.5" cy="57.5" r="2.42" fill="#262626" fill-opacity="0.88"/><circle cx="70.0" cy="56.7" r="1.26" fill="#262626" fill-opacity="0.88"/><circle cx="71.5" cy="30.8" r="1.61" fill="#262626" fill-opacity="0.88"/><circle cx="76.1" cy="44.1" r="1.95" fill="#262626" fill-opacity="0.88"/><circle cx="43.6" cy="38.0" r="2.30" fill="#262626" fill-opacity="0.88"/></g>
<path d="M29.0 12.0" fill="none"/>
<g filter="url(#bl05)" transform="translate(0.0 0.0)" fill="#262626" fill-opacity="0.88"><path d="M28.8 11 C30.5 12 30.5 16 29.5 18 C28 20 25.5 21 23.5 23.5 C21.5 26 19.5 28 18.2 31.5 L15.3 32 C15.5 29 17.5 26 19.5 23.5 C21.5 21 24 19.5 25.5 17.5 C26.5 15 27 11.5 28.8 11Z"/></g>
<rect x="38.800000000000004" y="33.4" width="9.6" height="9.2" fill="none" stroke="#3d7cc4" stroke-width="1.2"/>
<g><rect x="1.6" y="35.9" width="24.2" height="23.9" fill="#f4f4f4" stroke="#e6e6e6" stroke-width="0.9"/>
<ellipse cx="12.2" cy="47.6" rx="7.6" ry="7.6" transform="rotate(0 12.2 47.6)" fill="url(#sp140)" stroke="#4a4a4a" stroke-width="0.9" filter="url(#bl05)"/>
</g>
</g>
<g transform="translate(55 144)" clip-path="url(#c20)">
<rect x="0" y="0" width="83" height="61" fill="#000"/>
<rect x="2.2" y="-2" width="74.6" height="66" rx="12" fill="url(#g20)" filter="url(#blf)"/>
<g filter="url(#bl05)"><circle cx="4.4" cy="2.9" r="0.70" fill="#303030" fill-opacity="0.29"/><circle cx="3.9" cy="2.4" r="0.29" fill="#fff" fill-opacity="0.32"/><circle cx="24.4" cy="2.6" r="0.76" fill="#303030" fill-opacity="0.29"/><circle cx="23.9" cy="2.1" r="0.32" fill="#fff" fill-opacity="0.32"/><circle cx="75.7" cy="2.7" r="0.64" fill="#303030" fill-opacity="0.29"/><circle cx="75.3" cy="2.3" r="0.27" fill="#fff" fill-opacity="0.32"/><circle cx="13.3" cy="7.4" r="0.65" fill="#303030" fill-opacity="0.29"/><circle cx="12.8" cy="7.0" r="0.27" fill="#fff" fill-opacity="0.32"/><circle cx="17.2" cy="6.4" r="0.69" fill="#303030" fill-opacity="0.29"/><circle cx="16.8" cy="5.9" r="0.29" fill="#fff" fill-opacity="0.32"/><circle cx="22.0" cy="7.3" r="0.59" fill="#303030" fill-opacity="0.29"/><circle cx="21.6" cy="6.9" r="0.25" fill="#fff" fill-opacity="0.32"/><circle cx="58.4" cy="6.4" r="0.92" fill="#303030" fill-opacity="0.29"/><circle cx="57.8" cy="5.8" r="0.39" fill="#fff" fill-opacity="0.32"/><circle cx="67.8" cy="6.7" r="0.83" fill="#303030" fill-opacity="0.29"/><circle cx="67.3" cy="6.1" r="0.35" fill="#fff" fill-opacity="0.32"/><circle cx="24.4" cy="11.6" r="0.81" fill="#303030" fill-opacity="0.29"/><circle cx="23.9" cy="11.0" r="0.34" fill="#fff" fill-opacity="0.32"/><circle cx="54.7" cy="11.3" r="1.09" fill="#303030" fill-opacity="0.29"/><circle cx="54.0" cy="10.5" r="0.46" fill="#fff" fill-opacity="0.32"/><circle cx="75.5" cy="11.1" r="0.64" fill="#303030" fill-opacity="0.29"/><circle cx="75.0" cy="10.7" r="0.27" fill="#fff" fill-opacity="0.32"/><circle cx="2.1" cy="14.9" r="0.67" fill="#303030" fill-opacity="0.29"/><circle cx="1.7" cy="14.5" r="0.28" fill="#fff" fill-opacity="0.32"/><circle cx="42.2" cy="15.7" r="0.94" fill="#303030" fill-opacity="0.29"/><circle cx="41.6" cy="15.0" r="0.39" fill="#fff" fill-opacity="0.32"/><circle cx="72.2" cy="15.2" r="0.83" fill="#303030" fill-opacity="0.29"/><circle cx="71.7" cy="14.7" r="0.35" fill="#fff" fill-opacity="0.32"/><circle cx="65.0" cy="19.7" r="0.80" fill="#303030" fill-opacity="0.29"/><circle cx="64.5" cy="19.2" r="0.34" fill="#fff" fill-opacity="0.32"/><circle cx="75.2" cy="19.2" r="0.75" fill="#303030" fill-opacity="0.29"/><circle cx="74.7" cy="18.8" r="0.32" fill="#fff" fill-opacity="0.32"/><circle cx="67.8" cy="24.9" r="0.93" fill="#303030" fill-opacity="0.29"/><circle cx="67.2" cy="24.2" r="0.39" fill="#fff" fill-opacity="0.32"/><circle cx="15.3" cy="27.9" r="0.96" fill="#303030" fill-opacity="0.29"/><circle cx="14.6" cy="27.3" r="0.40" fill="#fff" fill-opacity="0.32"/><circle cx="75.5" cy="28.7" r="0.79" fill="#303030" fill-opacity="0.29"/><circle cx="75.0" cy="28.2" r="0.33" fill="#fff" fill-opacity="0.32"/><circle cx="7.8" cy="32.6" r="0.61" fill="#303030" fill-opacity="0.29"/><circle cx="7.4" cy="32.2" r="0.26" fill="#fff" fill-opacity="0.32"/><circle cx="13.2" cy="32.0" r="0.94" fill="#303030" fill-opacity="0.29"/><circle cx="12.6" cy="31.4" r="0.39" fill="#fff" fill-opacity="0.32"/><circle cx="16.9" cy="32.1" r="1.00" fill="#303030" fill-opacity="0.29"/><circle cx="16.2" cy="31.4" r="0.42" fill="#fff" fill-opacity="0.32"/><circle cx="42.6" cy="33.4" r="1.49" fill="#303030" fill-opacity="0.29"/><circle cx="41.7" cy="32.4" r="0.62" fill="#fff" fill-opacity="0.32"/><circle cx="67.6" cy="32.5" r="0.89" fill="#303030" fill-opacity="0.29"/><circle cx="67.0" cy="31.9" r="0.37" fill="#fff" fill-opacity="0.32"/><circle cx="71.9" cy="32.1" r="0.98" fill="#303030" fill-opacity="0.29"/><circle cx="71.3" cy="31.5" r="0.41" fill="#fff" fill-opacity="0.32"/><circle cx="45.4" cy="36.9" r="1.58" fill="#303030" fill-opacity="0.29"/><circle cx="44.4" cy="35.9" r="0.66" fill="#fff" fill-opacity="0.32"/><circle cx="50.4" cy="37.8" r="1.53" fill="#303030" fill-opacity="0.29"/><circle cx="49.4" cy="36.8" r="0.64" fill="#fff" fill-opacity="0.32"/><circle cx="75.3" cy="54.7" r="0.81" fill="#303030" fill-opacity="0.29"/><circle cx="74.8" cy="54.2" r="0.34" fill="#fff" fill-opacity="0.32"/><circle cx="33.1" cy="59.5" r="0.88" fill="#303030" fill-opacity="0.29"/><circle cx="32.5" cy="58.9" r="0.37" fill="#fff" fill-opacity="0.32"/><circle cx="42.7" cy="59.5" r="1.16" fill="#303030" fill-opacity="0.29"/><circle cx="42.0" cy="58.8" r="0.49" fill="#fff" fill-opacity="0.32"/><circle cx="72.9" cy="59.5" r="0.63" fill="#303030" fill-opacity="0.29"/><circle cx="72.5" cy="59.1" r="0.27" fill="#fff" fill-opacity="0.32"/><circle cx="8.7" cy="1.7" r="1.10" fill="#303030" fill-opacity="0.36"/><circle cx="8.1" cy="1.1" r="0.41" fill="#fff" fill-opacity="0.32"/><circle cx="15.6" cy="1.3" r="0.86" fill="#303030" fill-opacity="0.36"/><circle cx="15.1" cy="0.8" r="0.32" fill="#fff" fill-opacity="0.32"/><circle cx="20.9" cy="1.3" r="1.10" fill="#303030" fill-opacity="0.36"/><circle cx="20.3" cy="0.7" r="0.41" fill="#fff" fill-opacity="0.32"/><circle cx="27.4" cy="-1.0" r="1.10" fill="#303030" fill-opacity="0.36"/><circle cx="26.8" cy="-1.6" r="0.41" fill="#fff" fill-opacity="0.32"/><circle cx="34.7" cy="-1.0" r="1.10" fill="#303030" fill-opacity="0.36"/><circle cx="34.1" cy="-1.6" r="0.41" fill="#fff" fill-opacity="0.32"/><circle cx="41.4" cy="3.0" r="2.12" fill="#303030" fill-opacity="0.36"/><circle cx="40.2" cy="1.8" r="0.79" fill="#fff" fill-opacity="0.32"/><circle cx="27.9" cy="5.2" r="1.33" fill="#303030" fill-opacity="0.36"/><circle cx="27.1" cy="4.4" r="0.50" fill="#fff" fill-opacity="0.32"/><circle cx="7.7" cy="9.8" r="1.33" fill="#303030" fill-opacity="0.36"/><circle cx="6.9" cy="9.0" r="0.50" fill="#fff" fill-opacity="0.32"/><circle cx="31.2" cy="12.3" r="2.98" fill="#303030" fill-opacity="0.36"/><circle cx="29.5" cy="10.6" r="1.12" fill="#fff" fill-opacity="0.32"/><circle cx="40.1" cy="10.2" r="1.49" fill="#303030" fill-opacity="0.36"/><circle cx="39.2" cy="9.3" r="0.56" fill="#fff" fill-opacity="0.32"/><circle cx="18.7" cy="13.2" r="1.65" fill="#303030" fill-opacity="0.36"/><circle cx="17.8" cy="12.3" r="0.62" fill="#fff" fill-opacity="0.32"/><circle cx="12.5" cy="13.5" r="0.71" fill="#303030" fill-opacity="0.36"/><circle cx="12.1" cy="13.1" r="0.26" fill="#fff" fill-opacity="0.32"/><circle cx="6.4" cy="15.8" r="1.10" fill="#303030" fill-opacity="0.36"/><circle cx="5.8" cy="15.2" r="0.41" fill="#fff" fill-opacity="0.32"/><circle cx="37.3" cy="14.6" r="0.86" fill="#303030" fill-opacity="0.36"/><circle cx="36.8" cy="14.1" r="0.32" fill="#fff" fill-opacity="0.32"/><circle cx="22.9" cy="18.5" r="1.65" fill="#303030" fill-opacity="0.36"/><circle cx="22.0" cy="17.6" r="0.62" fill="#fff" fill-opacity="0.32"/><circle cx="9.9" cy="18.4" r="1.10" fill="#303030" fill-opacity="0.36"/><circle cx="9.3" cy="17.8" r="0.41" fill="#fff" fill-opacity="0.32"/><circle cx="3.5" cy="22.0" r="1.33" fill="#303030" fill-opacity="0.36"/><circle cx="2.7" cy="21.2" r="0.50" fill="#fff" fill-opacity="0.32"/><circle cx="15.7" cy="22.7" r="1.80" fill="#303030" fill-opacity="0.36"/><circle cx="14.7" cy="21.7" r="0.68" fill="#fff" fill-opacity="0.32"/><circle cx="31.7" cy="22.4" r="1.65" fill="#303030" fill-opacity="0.36"/><circle cx="30.8" cy="21.5" r="0.62" fill="#fff" fill-opacity="0.32"/><circle cx="42.0" cy="21.6" r="1.49" fill="#303030" fill-opacity="0.36"/><circle cx="41.1" cy="20.7" r="0.56" fill="#fff" fill-opacity="0.32"/><circle cx="38.6" cy="24.3" r="1.33" fill="#303030" fill-opacity="0.36"/><circle cx="37.8" cy="23.5" r="0.50" fill="#fff" fill-opacity="0.32"/><circle cx="9.6" cy="26.2" r="1.65" fill="#303030" fill-opacity="0.36"/><circle cx="8.7" cy="25.3" r="0.62" fill="#fff" fill-opacity="0.32"/><circle cx="23.8" cy="26.7" r="2.12" fill="#303030" fill-opacity="0.36"/><circle cx="22.6" cy="25.5" r="0.79" fill="#fff" fill-opacity="0.32"/><circle cx="29.3" cy="25.7" r="0.86" fill="#303030" fill-opacity="0.36"/><circle cx="28.8" cy="25.2" r="0.32" fill="#fff" fill-opacity="0.32"/><circle cx="35.5" cy="28.1" r="1.65" fill="#303030" fill-opacity="0.36"/><circle cx="34.6" cy="27.2" r="0.62" fill="#fff" fill-opacity="0.32"/><circle cx="48.7" cy="0.2" r="1.18" fill="#303030" fill-opacity="0.36"/><circle cx="48.0" cy="-0.5" r="0.44" fill="#fff" fill-opacity="0.32"/><circle cx="55.2" cy="-0.9" r="1.33" fill="#303030" fill-opacity="0.36"/><circle cx="54.4" cy="-1.7" r="0.50" fill="#fff" fill-opacity="0.32"/><circle cx="68.1" cy="-0.5" r="1.33" fill="#303030" fill-opacity="0.36"/><circle cx="67.3" cy="-1.3" r="0.50" fill="#fff" fill-opacity="0.32"/><circle cx="62.8" cy="4.8" r="1.80" fill="#303030" fill-opacity="0.36"/><circle cx="61.8" cy="3.8" r="0.68" fill="#fff" fill-opacity="0.32"/><circle cx="52.1" cy="6.3" r="1.33" fill="#303030" fill-opacity="0.36"/><circle cx="51.3" cy="5.5" r="0.50" fill="#fff" fill-opacity="0.32"/><circle cx="46.8" cy="9.4" r="1.65" fill="#303030" fill-opacity="0.36"/><circle cx="45.9" cy="8.5" r="0.62" fill="#fff" fill-opacity="0.32"/><circle cx="60.2" cy="13.3" r="2.12" fill="#303030" fill-opacity="0.36"/><circle cx="59.0" cy="12.1" r="0.79" fill="#fff" fill-opacity="0.32"/><circle cx="66.2" cy="12.8" r="1.65" fill="#303030" fill-opacity="0.36"/><circle cx="65.3" cy="11.9" r="0.62" fill="#fff" fill-opacity="0.32"/><circle cx="71.6" cy="8.6" r="1.18" fill="#303030" fill-opacity="0.36"/><circle cx="70.9" cy="7.9" r="0.44" fill="#fff" fill-opacity="0.32"/><circle cx="44.2" cy="21.7" r="2.27" fill="#303030" fill-opacity="0.36"/><circle cx="42.9" cy="20.4" r="0.85" fill="#fff" fill-opacity="0.32"/><circle cx="52.5" cy="21.6" r="1.80" fill="#303030" fill-opacity="0.36"/><circle cx="51.5" cy="20.6" r="0.68" fill="#fff" fill-opacity="0.32"/><circle cx="60.9" cy="22.0" r="1.49" fill="#303030" fill-opacity="0.36"/><circle cx="60.0" cy="21.1" r="0.56" fill="#fff" fill-opacity="0.32"/><circle cx="69.7" cy="19.3" r="1.80" fill="#303030" fill-opacity="0.36"/><circle cx="68.7" cy="18.3" r="0.68" fill="#fff" fill-opacity="0.32"/><circle cx="74.5" cy="23.8" r="1.10" fill="#303030" fill-opacity="0.36"/><circle cx="73.9" cy="23.2" r="0.41" fill="#fff" fill-opacity="0.32"/><circle cx="44.5" cy="28.5" r="1.33" fill="#303030" fill-opacity="0.36"/><circle cx="43.7" cy="27.7" r="0.50" fill="#fff" fill-opacity="0.32"/><circle cx="49.4" cy="27.3" r="1.33" fill="#303030" fill-opacity="0.36"/><circle cx="48.6" cy="26.5" r="0.50" fill="#fff" fill-opacity="0.32"/><circle cx="58.9" cy="27.6" r="0.86" fill="#303030" fill-opacity="0.36"/><circle cx="58.4" cy="27.1" r="0.32" fill="#fff" fill-opacity="0.32"/><circle cx="3.5" cy="31.0" r="1.65" fill="#303030" fill-opacity="0.36"/><circle cx="2.6" cy="30.1" r="0.62" fill="#fff" fill-opacity="0.32"/><circle cx="23.7" cy="29.1" r="1.33" fill="#303030" fill-opacity="0.36"/><circle cx="22.9" cy="28.3" r="0.50" fill="#fff" fill-opacity="0.32"/><circle cx="35.2" cy="29.5" r="1.49" fill="#303030" fill-opacity="0.36"/><circle cx="34.3" cy="28.6" r="0.56" fill="#fff" fill-opacity="0.32"/><circle cx="28.0" cy="36.8" r="1.88" fill="#303030" fill-opacity="0.36"/><circle cx="26.9" cy="35.7" r="0.71" fill="#fff" fill-opacity="0.32"/><circle cx="34.4" cy="34.8" r="1.33" fill="#303030" fill-opacity="0.36"/><circle cx="33.6" cy="34.0" r="0.50" fill="#fff" fill-opacity="0.32"/><circle cx="39.0" cy="35.6" r="1.18" fill="#303030" fill-opacity="0.36"/><circle cx="38.3" cy="34.9" r="0.44" fill="#fff" fill-opacity="0.32"/><circle cx="41.3" cy="39.8" r="1.33" fill="#303030" fill-opacity="0.36"/><circle cx="40.5" cy="39.0" r="0.50" fill="#fff" fill-opacity="0.32"/><circle cx="33.6" cy="43.6" r="1.80" fill="#303030" fill-opacity="0.36"/><circle cx="32.6" cy="42.6" r="0.68" fill="#fff" fill-opacity="0.32"/><circle cx="26.3" cy="46.5" r="0.86" fill="#303030" fill-opacity="0.36"/><circle cx="25.8" cy="46.0" r="0.32" fill="#fff" fill-opacity="0.32"/><circle cx="31.8" cy="50.6" r="2.12" fill="#303030" fill-opacity="0.36"/><circle cx="30.6" cy="49.4" r="0.79" fill="#fff" fill-opacity="0.32"/><circle cx="38.3" cy="53.2" r="2.12" fill="#303030" fill-opacity="0.36"/><circle cx="37.1" cy="52.0" r="0.79" fill="#fff" fill-opacity="0.32"/><circle cx="41.9" cy="46.9" r="0.86" fill="#303030" fill-opacity="0.36"/><circle cx="41.4" cy="46.4" r="0.32" fill="#fff" fill-opacity="0.32"/><circle cx="53.7" cy="31.5" r="1.88" fill="#303030" fill-opacity="0.36"/><circle cx="52.6" cy="30.4" r="0.71" fill="#fff" fill-opacity="0.32"/><circle cx="60.5" cy="32.1" r="1.18" fill="#303030" fill-opacity="0.36"/><circle cx="59.8" cy="31.4" r="0.44" fill="#fff" fill-opacity="0.32"/><circle cx="63.6" cy="32.1" r="1.33" fill="#303030" fill-opacity="0.36"/><circle cx="62.8" cy="31.3" r="0.50" fill="#fff" fill-opacity="0.32"/><circle cx="60.9" cy="39.8" r="1.65" fill="#303030" fill-opacity="0.36"/><circle cx="60.0" cy="38.9" r="0.62" fill="#fff" fill-opacity="0.32"/><circle cx="66.9" cy="38.1" r="1.10" fill="#303030" fill-opacity="0.36"/><circle cx="66.3" cy="37.5" r="0.41" fill="#fff" fill-opacity="0.32"/><circle cx="69.9" cy="35.1" r="0.71" fill="#303030" fill-opacity="0.36"/><circle cx="69.5" cy="34.7" r="0.26" fill="#fff" fill-opacity="0.32"/><circle cx="49.3" cy="44.6" r="1.10" fill="#303030" fill-opacity="0.36"/><circle cx="48.7" cy="44.0" r="0.41" fill="#fff" fill-opacity="0.32"/><circle cx="42.9" cy="47.4" r="1.65" fill="#303030" fill-opacity="0.36"/><circle cx="42.0" cy="46.5" r="0.62" fill="#fff" fill-opacity="0.32"/><circle cx="73.1" cy="45.9" r="1.49" fill="#303030" fill-opacity="0.36"/><circle cx="72.2" cy="45.0" r="0.56" fill="#fff" fill-opacity="0.32"/><circle cx="49.9" cy="51.7" r="1.88" fill="#303030" fill-opacity="0.36"/><circle cx="48.8" cy="50.6" r="0.71" fill="#fff" fill-opacity="0.32"/><circle cx="69.7" cy="51.6" r="1.33" fill="#303030" fill-opacity="0.36"/><circle cx="68.9" cy="50.8" r="0.50" fill="#fff" fill-opacity="0.32"/><circle cx="42.8" cy="53.4" r="0.86" fill="#303030" fill-opacity="0.36"/><circle cx="42.3" cy="52.9" r="0.32" fill="#fff" fill-opacity="0.32"/><circle cx="59.4" cy="53.9" r="1.49" fill="#303030" fill-opacity="0.36"/><circle cx="58.5" cy="53.0" r="0.56" fill="#fff" fill-opacity="0.32"/><circle cx="47.5" cy="56.9" r="1.80" fill="#303030" fill-opacity="0.36"/><circle cx="46.5" cy="55.9" r="0.68" fill="#fff" fill-opacity="0.32"/><circle cx="51.4" cy="14.6" r="1.57" fill="#303030" fill-opacity="0.36"/><circle cx="50.5" cy="13.7" r="0.59" fill="#fff" fill-opacity="0.32"/></g>
<circle cx="61.8" cy="47.3" r="14.299999999999999" fill="#000" fill-opacity="0.5" filter="url(#bl1)"/>
<circle cx="61.8" cy="47.3" r="13.7" fill="#050505"/>
<circle cx="61.8" cy="47.3" r="14.2" fill="none" stroke="#9a9a9a" stroke-width="0.7" stroke-opacity="0.6" filter="url(#bl05)"/>
<path d="M62.95 41.55 A5.75 5.75 0 0 1 60.07 52.77" fill="none" stroke="#555" stroke-width="1.3" filter="url(#bl05)"/>
<circle cx="61.3" cy="46.8" r="1.4" fill="#fff" filter="url(#bl05)"/>
<rect x="46.4" y="9.799999999999999" width="9.6" height="9.2" fill="none" stroke="#3d7cc4" stroke-width="1.2"/>
<g><rect x="1.6" y="35.9" width="24.2" height="23.9" fill="#d4d4d4" stroke="#e6e6e6" stroke-width="0.9"/>
<ellipse cx="13" cy="45.8" rx="6.4" ry="6.4" transform="rotate(0 13 45.8)" fill="url(#sp200)" stroke="#606060" stroke-width="0.9" filter="url(#bl05)"/>
</g>
</g>
<g transform="translate(139 144)" clip-path="url(#c21)">
<rect x="0" y="0" width="83" height="61" fill="#000"/>
<rect x="2.2" y="-2" width="74.6" height="66" rx="12" fill="url(#g21)" filter="url(#blf)"/>
<g filter="url(#bl05)"><circle cx="4.2" cy="0.3" r="0.74" fill="#303030" fill-opacity="0.34"/><circle cx="3.7" cy="-0.2" r="0.31" fill="#fff" fill-opacity="0.32"/><circle cx="65.1" cy="0.7" r="0.56" fill="#303030" fill-opacity="0.34"/><circle cx="64.7" cy="0.3" r="0.24" fill="#fff" fill-opacity="0.32"/><circle cx="36.5" cy="4.8" r="0.79" fill="#303030" fill-opacity="0.34"/><circle cx="36.0" cy="4.3" r="0.33" fill="#fff" fill-opacity="0.32"/><circle cx="57.6" cy="5.0" r="0.60" fill="#303030" fill-opacity="0.34"/><circle cx="57.3" cy="4.6" r="0.25" fill="#fff" fill-opacity="0.32"/><circle cx="4.8" cy="8.1" r="0.68" fill="#303030" fill-opacity="0.34"/><circle cx="4.4" cy="7.7" r="0.29" fill="#fff" fill-opacity="0.32"/><circle cx="15.1" cy="9.3" r="0.61" fill="#303030" fill-opacity="0.34"/><circle cx="14.7" cy="8.9" r="0.26" fill="#fff" fill-opacity="0.32"/><circle cx="20.1" cy="9.3" r="0.84" fill="#303030" fill-opacity="0.34"/><circle cx="19.5" cy="8.8" r="0.35" fill="#fff" fill-opacity="0.32"/><circle cx="25.4" cy="8.5" r="0.90" fill="#303030" fill-opacity="0.34"/><circle cx="24.8" cy="7.9" r="0.38" fill="#fff" fill-opacity="0.32"/><circle cx="60.4" cy="8.8" r="0.84" fill="#303030" fill-opacity="0.34"/><circle cx="59.9" cy="8.2" r="0.35" fill="#fff" fill-opacity="0.32"/><circle cx="26.4" cy="12.8" r="0.88" fill="#303030" fill-opacity="0.34"/><circle cx="25.8" cy="12.3" r="0.37" fill="#fff" fill-opacity="0.32"/><circle cx="74.7" cy="16.7" r="0.71" fill="#303030" fill-opacity="0.34"/><circle cx="74.2" cy="16.2" r="0.30" fill="#fff" fill-opacity="0.32"/><circle cx="69.9" cy="26.6" r="0.80" fill="#303030" fill-opacity="0.34"/><circle cx="69.4" cy="26.1" r="0.34" fill="#fff" fill-opacity="0.32"/><circle cx="17.9" cy="31.1" r="1.06" fill="#303030" fill-opacity="0.34"/><circle cx="17.2" cy="30.4" r="0.44" fill="#fff" fill-opacity="0.32"/><circle cx="72.9" cy="31.2" r="0.88" fill="#303030" fill-opacity="0.34"/><circle cx="72.3" cy="30.6" r="0.37" fill="#fff" fill-opacity="0.32"/><circle cx="45.0" cy="34.3" r="1.67" fill="#303030" fill-opacity="0.34"/><circle cx="43.9" cy="33.2" r="0.70" fill="#fff" fill-opacity="0.32"/><circle cx="49.2" cy="34.9" r="1.38" fill="#303030" fill-opacity="0.34"/><circle cx="48.3" cy="34.0" r="0.58" fill="#fff" fill-opacity="0.32"/><circle cx="52.0" cy="39.5" r="1.48" fill="#303030" fill-opacity="0.34"/><circle cx="51.1" cy="38.5" r="0.62" fill="#fff" fill-opacity="0.32"/><circle cx="57.1" cy="38.5" r="1.18" fill="#303030" fill-opacity="0.34"/><circle cx="56.4" cy="37.7" r="0.50" fill="#fff" fill-opacity="0.32"/><circle cx="30.4" cy="43.1" r="1.30" fill="#303030" fill-opacity="0.34"/><circle cx="29.5" cy="42.2" r="0.54" fill="#fff" fill-opacity="0.32"/><circle cx="39.7" cy="44.2" r="1.25" fill="#303030" fill-opacity="0.34"/><circle cx="38.9" cy="43.4" r="0.53" fill="#fff" fill-opacity="0.32"/><circle cx="54.7" cy="43.4" r="1.16" fill="#303030" fill-opacity="0.34"/><circle cx="53.9" cy="42.6" r="0.49" fill="#fff" fill-opacity="0.32"/><circle cx="69.8" cy="43.7" r="0.96" fill="#303030" fill-opacity="0.34"/><circle cx="69.2" cy="43.0" r="0.40" fill="#fff" fill-opacity="0.32"/><circle cx="37.4" cy="48.5" r="1.41" fill="#303030" fill-opacity="0.34"/><circle cx="36.5" cy="47.6" r="0.59" fill="#fff" fill-opacity="0.32"/><circle cx="67.8" cy="47.3" r="0.80" fill="#303030" fill-opacity="0.34"/><circle cx="67.3" cy="46.7" r="0.34" fill="#fff" fill-opacity="0.32"/><circle cx="31.6" cy="56.8" r="0.98" fill="#303030" fill-opacity="0.34"/><circle cx="30.9" cy="56.2" r="0.41" fill="#fff" fill-opacity="0.32"/><circle cx="66.5" cy="56.0" r="0.87" fill="#303030" fill-opacity="0.34"/><circle cx="65.9" cy="55.5" r="0.36" fill="#fff" fill-opacity="0.32"/><circle cx="72.5" cy="56.1" r="0.77" fill="#303030" fill-opacity="0.34"/><circle cx="72.0" cy="55.6" r="0.32" fill="#fff" fill-opacity="0.32"/><circle cx="29.5" cy="60.5" r="0.93" fill="#303030" fill-opacity="0.34"/><circle cx="28.9" cy="59.9" r="0.39" fill="#fff" fill-opacity="0.32"/><circle cx="35.2" cy="60.2" r="1.10" fill="#303030" fill-opacity="0.34"/><circle cx="34.5" cy="59.5" r="0.46" fill="#fff" fill-opacity="0.32"/><circle cx="39.6" cy="60.6" r="0.91" fill="#303030" fill-opacity="0.34"/><circle cx="39.0" cy="60.0" r="0.38" fill="#fff" fill-opacity="0.32"/><circle cx="44.3" cy="60.8" r="1.05" fill="#303030" fill-opacity="0.34"/><circle cx="43.7" cy="60.1" r="0.44" fill="#fff" fill-opacity="0.32"/><circle cx="54.3" cy="61.0" r="1.05" fill="#303030" fill-opacity="0.34"/><circle cx="53.6" cy="60.3" r="0.44" fill="#fff" fill-opacity="0.32"/><circle cx="59.7" cy="61.2" r="1.03" fill="#303030" fill-opacity="0.34"/><circle cx="59.0" cy="60.5" r="0.43" fill="#fff" fill-opacity="0.32"/><circle cx="65.4" cy="60.4" r="0.84" fill="#303030" fill-opacity="0.34"/><circle cx="64.9" cy="59.9" r="0.35" fill="#fff" fill-opacity="0.32"/><circle cx="69.4" cy="60.8" r="0.91" fill="#303030" fill-opacity="0.34"/><circle cx="68.8" cy="60.2" r="0.38" fill="#fff" fill-opacity="0.32"/><circle cx="10.3" cy="2.6" r="1.25" fill="#303030" fill-opacity="0.42"/><circle cx="9.5" cy="1.8" r="0.47" fill="#fff" fill-opacity="0.32"/><circle cx="17.1" cy="2.1" r="0.99" fill="#303030" fill-opacity="0.42"/><circle cx="16.6" cy="1.6" r="0.37" fill="#fff" fill-opacity="0.32"/><circle cx="22.5" cy="2.2" r="1.25" fill="#303030" fill-opacity="0.42"/><circle cx="21.7" cy="1.4" r="0.47" fill="#fff" fill-opacity="0.32"/><circle cx="29.0" cy="-0.1" r="1.25" fill="#303030" fill-opacity="0.42"/><circle cx="28.2" cy="-0.9" r="0.47" fill="#fff" fill-opacity="0.32"/><circle cx="36.3" cy="-0.1" r="1.25" fill="#303030" fill-opacity="0.42"/><circle cx="35.5" cy="-0.9" r="0.47" fill="#fff" fill-opacity="0.32"/><circle cx="42.9" cy="3.8" r="2.42" fill="#303030" fill-opacity="0.42"/><circle cx="41.5" cy="2.4" r="0.91" fill="#fff" fill-opacity="0.32"/><circle cx="29.4" cy="6.0" r="1.52" fill="#303030" fill-opacity="0.42"/><circle cx="28.5" cy="5.1" r="0.57" fill="#fff" fill-opacity="0.32"/><circle cx="9.2" cy="10.6" r="1.52" fill="#303030" fill-opacity="0.42"/><circle cx="8.3" cy="9.7" r="0.57" fill="#fff" fill-opacity="0.32"/><circle cx="32.8" cy="13.2" r="3.40" fill="#303030" fill-opacity="0.42"/><circle cx="30.8" cy="11.2" r="1.28" fill="#fff" fill-opacity="0.32"/><circle cx="41.6" cy="11.0" r="1.70" fill="#303030" fill-opacity="0.42"/><circle cx="40.6" cy="10.0" r="0.64" fill="#fff" fill-opacity="0.32"/><circle cx="20.3" cy="14.1" r="1.88" fill="#303030" fill-opacity="0.42"/><circle cx="19.2" cy="13.0" r="0.71" fill="#fff" fill-opacity="0.32"/><circle cx="14.0" cy="14.3" r="0.81" fill="#303030" fill-opacity="0.42"/><circle cx="13.5" cy="13.8" r="0.30" fill="#fff" fill-opacity="0.32"/><circle cx="8.0" cy="16.7" r="1.25" fill="#303030" fill-opacity="0.42"/><circle cx="7.2" cy="15.9" r="0.47" fill="#fff" fill-opacity="0.32"/><circle cx="38.8" cy="15.4" r="0.99" fill="#303030" fill-opacity="0.42"/><circle cx="38.3" cy="14.9" r="0.37" fill="#fff" fill-opacity="0.32"/><circle cx="24.5" cy="19.4" r="1.88" fill="#303030" fill-opacity="0.42"/><circle cx="23.4" cy="18.3" r="0.71" fill="#fff" fill-opacity="0.32"/><circle cx="11.5" cy="19.3" r="1.25" fill="#303030" fill-opacity="0.42"/><circle cx="10.7" cy="18.5" r="0.47" fill="#fff" fill-opacity="0.32"/><circle cx="5.0" cy="22.8" r="1.52" fill="#303030" fill-opacity="0.42"/><circle cx="4.1" cy="21.9" r="0.57" fill="#fff" fill-opacity="0.32"/><circle cx="17.3" cy="23.6" r="2.06" fill="#303030" fill-opacity="0.42"/><circle cx="16.1" cy="22.4" r="0.77" fill="#fff" fill-opacity="0.32"/><circle cx="33.3" cy="23.3" r="1.88" fill="#303030" fill-opacity="0.42"/><circle cx="32.2" cy="22.2" r="0.71" fill="#fff" fill-opacity="0.32"/><circle cx="43.5" cy="22.4" r="1.70" fill="#303030" fill-opacity="0.42"/><circle cx="42.5" cy="21.4" r="0.64" fill="#fff" fill-opacity="0.32"/><circle cx="40.1" cy="25.1" r="1.52" fill="#303030" fill-opacity="0.42"/><circle cx="39.2" cy="24.2" r="0.57" fill="#fff" fill-opacity="0.32"/><circle cx="11.2" cy="27.1" r="1.88" fill="#303030" fill-opacity="0.42"/><circle cx="10.1" cy="26.0" r="0.71" fill="#fff" fill-opacity="0.32"/><circle cx="25.3" cy="27.5" r="2.42" fill="#303030" fill-opacity="0.42"/><circle cx="23.9" cy="26.1" r="0.91" fill="#fff" fill-opacity="0.32"/><circle cx="30.8" cy="26.5" r="0.99" fill="#303030" fill-opacity="0.42"/><circle cx="30.3" cy="26.0" r="0.37" fill="#fff" fill-opacity="0.32"/><circle cx="37.1" cy="29.0" r="1.88" fill="#303030" fill-opacity="0.42"/><circle cx="36.0" cy="27.9" r="0.71" fill="#fff" fill-opacity="0.32"/><circle cx="50.2" cy="1.0" r="1.34" fill="#303030" fill-opacity="0.42"/><circle cx="49.4" cy="0.2" r="0.50" fill="#fff" fill-opacity="0.32"/><circle cx="56.7" cy="-0.1" r="1.52" fill="#303030" fill-opacity="0.42"/><circle cx="55.8" cy="-1.0" r="0.57" fill="#fff" fill-opacity="0.32"/><circle cx="69.6" cy="0.3" r="1.52" fill="#303030" fill-opacity="0.42"/><circle cx="68.7" cy="-0.6" r="0.57" fill="#fff" fill-opacity="0.32"/><circle cx="64.4" cy="5.7" r="2.06" fill="#303030" fill-opacity="0.42"/><circle cx="63.2" cy="4.5" r="0.77" fill="#fff" fill-opacity="0.32"/><circle cx="53.6" cy="7.1" r="1.52" fill="#303030" fill-opacity="0.42"/><circle cx="52.7" cy="6.2" r="0.57" fill="#fff" fill-opacity="0.32"/><circle cx="48.4" cy="10.3" r="1.88" fill="#303030" fill-opacity="0.42"/><circle cx="47.3" cy="9.2" r="0.71" fill="#fff" fill-opacity="0.32"/><circle cx="61.7" cy="14.1" r="2.42" fill="#303030" fill-opacity="0.42"/><circle cx="60.3" cy="12.7" r="0.91" fill="#fff" fill-opacity="0.32"/><circle cx="67.8" cy="13.7" r="1.88" fill="#303030" fill-opacity="0.42"/><circle cx="66.7" cy="12.6" r="0.71" fill="#fff" fill-opacity="0.32"/><circle cx="73.1" cy="9.4" r="1.34" fill="#303030" fill-opacity="0.42"/><circle cx="72.3" cy="8.6" r="0.50" fill="#fff" fill-opacity="0.32"/><circle cx="45.7" cy="22.5" r="2.60" fill="#303030" fill-opacity="0.42"/><circle cx="44.2" cy="21.0" r="0.97" fill="#fff" fill-opacity="0.32"/><circle cx="54.1" cy="22.5" r="2.06" fill="#303030" fill-opacity="0.42"/><circle cx="52.9" cy="21.3" r="0.77" fill="#fff" fill-opacity="0.32"/><circle cx="62.4" cy="22.8" r="1.70" fill="#303030" fill-opacity="0.42"/><circle cx="61.4" cy="21.8" r="0.64" fill="#fff" fill-opacity="0.32"/><circle cx="71.3" cy="20.2" r="2.06" fill="#303030" fill-opacity="0.42"/><circle cx="70.1" cy="19.0" r="0.77" fill="#fff" fill-opacity="0.32"/><circle cx="76.1" cy="24.7" r="1.25" fill="#303030" fill-opacity="0.42"/><circle cx="75.3" cy="23.9" r="0.47" fill="#fff" fill-opacity="0.32"/><circle cx="46.0" cy="29.3" r="1.52" fill="#303030" fill-opacity="0.42"/><circle cx="45.1" cy="28.4" r="0.57" fill="#fff" fill-opacity="0.32"/><circle cx="50.9" cy="28.1" r="1.52" fill="#303030" fill-opacity="0.42"/><circle cx="50.0" cy="27.2" r="0.57" fill="#fff" fill-opacity="0.32"/><circle cx="60.4" cy="28.4" r="0.99" fill="#303030" fill-opacity="0.42"/><circle cx="59.9" cy="27.9" r="0.37" fill="#fff" fill-opacity="0.32"/><circle cx="5.1" cy="31.9" r="1.88" fill="#303030" fill-opacity="0.42"/><circle cx="4.0" cy="30.8" r="0.71" fill="#fff" fill-opacity="0.32"/><circle cx="25.2" cy="29.9" r="1.52" fill="#303030" fill-opacity="0.42"/><circle cx="24.3" cy="29.0" r="0.57" fill="#fff" fill-opacity="0.32"/><circle cx="36.7" cy="30.3" r="1.70" fill="#303030" fill-opacity="0.42"/><circle cx="35.7" cy="29.3" r="0.64" fill="#fff" fill-opacity="0.32"/><circle cx="29.5" cy="37.6" r="2.15" fill="#303030" fill-opacity="0.42"/><circle cx="28.2" cy="36.3" r="0.81" fill="#fff" fill-opacity="0.32"/><circle cx="35.9" cy="35.6" r="1.52" fill="#303030" fill-opacity="0.42"/><circle cx="35.0" cy="34.7" r="0.57" fill="#fff" fill-opacity="0.32"/><circle cx="40.5" cy="36.4" r="1.34" fill="#303030" fill-opacity="0.42"/><circle cx="39.7" cy="35.6" r="0.50" fill="#fff" fill-opacity="0.32"/><circle cx="42.8" cy="40.6" r="1.52" fill="#303030" fill-opacity="0.42"/><circle cx="41.9" cy="39.7" r="0.57" fill="#fff" fill-opacity="0.32"/><circle cx="35.2" cy="44.5" r="2.06" fill="#303030" fill-opacity="0.42"/><circle cx="34.0" cy="43.3" r="0.77" fill="#fff" fill-opacity="0.32"/><circle cx="27.8" cy="47.3" r="0.99" fill="#303030" fill-opacity="0.42"/><circle cx="27.3" cy="46.8" r="0.37" fill="#fff" fill-opacity="0.32"/><circle cx="33.3" cy="51.4" r="2.42" fill="#303030" fill-opacity="0.42"/><circle cx="31.9" cy="50.0" r="0.91" fill="#fff" fill-opacity="0.32"/><circle cx="39.8" cy="54.0" r="2.42" fill="#303030" fill-opacity="0.42"/><circle cx="38.4" cy="52.6" r="0.91" fill="#fff" fill-opacity="0.32"/><circle cx="43.4" cy="47.7" r="0.99" fill="#303030" fill-opacity="0.42"/><circle cx="42.9" cy="47.2" r="0.37" fill="#fff" fill-opacity="0.32"/><circle cx="55.2" cy="32.3" r="2.15" fill="#303030" fill-opacity="0.42"/><circle cx="53.9" cy="31.0" r="0.81" fill="#fff" fill-opacity="0.32"/><circle cx="62.0" cy="32.9" r="1.34" fill="#303030" fill-opacity="0.42"/><circle cx="61.2" cy="32.1" r="0.50" fill="#fff" fill-opacity="0.32"/><circle cx="65.1" cy="32.9" r="1.52" fill="#303030" fill-opacity="0.42"/><circle cx="64.2" cy="32.0" r="0.57" fill="#fff" fill-opacity="0.32"/><circle cx="62.5" cy="40.7" r="1.88" fill="#303030" fill-opacity="0.42"/><circle cx="61.4" cy="39.6" r="0.71" fill="#fff" fill-opacity="0.32"/><circle cx="68.5" cy="39.0" r="1.25" fill="#303030" fill-opacity="0.42"/><circle cx="67.7" cy="38.2" r="0.47" fill="#fff" fill-opacity="0.32"/><circle cx="71.4" cy="35.9" r="0.81" fill="#303030" fill-opacity="0.42"/><circle cx="70.9" cy="35.4" r="0.30" fill="#fff" fill-opacity="0.32"/><circle cx="50.9" cy="45.5" r="1.25" fill="#303030" fill-opacity="0.42"/><circle cx="50.1" cy="44.7" r="0.47" fill="#fff" fill-opacity="0.32"/><circle cx="44.5" cy="48.3" r="1.88" fill="#303030" fill-opacity="0.42"/><circle cx="43.4" cy="47.2" r="0.71" fill="#fff" fill-opacity="0.32"/><circle cx="74.6" cy="46.7" r="1.70" fill="#303030" fill-opacity="0.42"/><circle cx="73.6" cy="45.7" r="0.64" fill="#fff" fill-opacity="0.32"/><circle cx="51.4" cy="52.5" r="2.15" fill="#303030" fill-opacity="0.42"/><circle cx="50.1" cy="51.2" r="0.81" fill="#fff" fill-opacity="0.32"/><circle cx="71.2" cy="52.4" r="1.52" fill="#303030" fill-opacity="0.42"/><circle cx="70.3" cy="51.5" r="0.57" fill="#fff" fill-opacity="0.32"/><circle cx="44.3" cy="54.2" r="0.99" fill="#303030" fill-opacity="0.42"/><circle cx="43.8" cy="53.7" r="0.37" fill="#fff" fill-opacity="0.32"/><circle cx="60.9" cy="54.7" r="1.70" fill="#303030" fill-opacity="0.42"/><circle cx="59.9" cy="53.7" r="0.64" fill="#fff" fill-opacity="0.32"/><circle cx="49.1" cy="57.8" r="2.06" fill="#303030" fill-opacity="0.42"/><circle cx="47.9" cy="56.6" r="0.77" fill="#fff" fill-opacity="0.32"/><circle cx="52.9" cy="15.4" r="1.79" fill="#303030" fill-opacity="0.42"/><circle cx="51.9" cy="14.4" r="0.67" fill="#fff" fill-opacity="0.32"/></g>
<circle cx="61.8" cy="46.5" r="5.5" fill="#000" fill-opacity="0.5" filter="url(#bl1)"/>
<circle cx="61.8" cy="46.5" r="4.9" fill="#050505"/>
<circle cx="61.8" cy="46.5" r="0.9800000000000001" fill="#aaa"/>
<rect x="47.9" y="10.6" width="9.6" height="9.2" fill="none" stroke="#3d7cc4" stroke-width="1.2"/>
<g><rect x="1.6" y="35.9" width="24.2" height="23.9" fill="#d2d2d2" stroke="#e6e6e6" stroke-width="0.9"/>
<ellipse cx="13" cy="45.8" rx="7.2" ry="7.2" transform="rotate(0 13 45.8)" fill="url(#sp210)" stroke="#5c5c5c" stroke-width="0.9" filter="url(#bl05)"/>
</g>
</g>
<g transform="translate(223 144)" clip-path="url(#c22)">
<rect x="0" y="0" width="83" height="61" fill="#000"/>
<rect x="2.2" y="-2" width="74.6" height="66" rx="12" fill="url(#g22)" filter="url(#blf)"/>
<g filter="url(#bl05)"><circle cx="2.6" cy="2.0" r="0.60" fill="#2a2a2a" fill-opacity="0.46"/><circle cx="2.2" cy="1.6" r="0.25" fill="#fff" fill-opacity="0.32"/><circle cx="31.0" cy="2.4" r="0.71" fill="#2a2a2a" fill-opacity="0.46"/><circle cx="30.5" cy="2.0" r="0.30" fill="#fff" fill-opacity="0.32"/><circle cx="58.8" cy="1.5" r="0.57" fill="#2a2a2a" fill-opacity="0.46"/><circle cx="58.4" cy="1.1" r="0.24" fill="#fff" fill-opacity="0.32"/><circle cx="5.0" cy="6.7" r="0.60" fill="#2a2a2a" fill-opacity="0.46"/><circle cx="4.6" cy="6.3" r="0.25" fill="#fff" fill-opacity="0.32"/><circle cx="12.0" cy="7.7" r="0.78" fill="#2a2a2a" fill-opacity="0.46"/><circle cx="11.5" cy="7.2" r="0.33" fill="#fff" fill-opacity="0.32"/><circle cx="23.2" cy="7.7" r="0.68" fill="#2a2a2a" fill-opacity="0.46"/><circle cx="22.8" cy="7.2" r="0.28" fill="#fff" fill-opacity="0.32"/><circle cx="56.6" cy="6.7" r="0.72" fill="#2a2a2a" fill-opacity="0.46"/><circle cx="56.1" cy="6.2" r="0.30" fill="#fff" fill-opacity="0.32"/><circle cx="25.0" cy="11.7" r="0.72" fill="#2a2a2a" fill-opacity="0.46"/><circle cx="24.5" cy="11.2" r="0.30" fill="#fff" fill-opacity="0.32"/><circle cx="53.5" cy="11.3" r="0.93" fill="#2a2a2a" fill-opacity="0.46"/><circle cx="52.9" cy="10.7" r="0.39" fill="#fff" fill-opacity="0.32"/><circle cx="75.7" cy="11.3" r="0.62" fill="#2a2a2a" fill-opacity="0.46"/><circle cx="75.3" cy="10.9" r="0.26" fill="#fff" fill-opacity="0.32"/><circle cx="45.4" cy="16.3" r="0.86" fill="#2a2a2a" fill-opacity="0.46"/><circle cx="44.8" cy="15.8" r="0.36" fill="#fff" fill-opacity="0.32"/><circle cx="67.6" cy="27.0" r="1.05" fill="#2a2a2a" fill-opacity="0.46"/><circle cx="66.9" cy="26.3" r="0.44" fill="#fff" fill-opacity="0.32"/><circle cx="14.2" cy="32.0" r="0.90" fill="#2a2a2a" fill-opacity="0.46"/><circle cx="13.6" cy="31.4" r="0.38" fill="#fff" fill-opacity="0.32"/><circle cx="70.1" cy="32.0" r="0.80" fill="#2a2a2a" fill-opacity="0.46"/><circle cx="69.6" cy="31.4" r="0.34" fill="#fff" fill-opacity="0.32"/><circle cx="75.7" cy="31.8" r="0.79" fill="#2a2a2a" fill-opacity="0.46"/><circle cx="75.2" cy="31.3" r="0.33" fill="#fff" fill-opacity="0.32"/><circle cx="45.6" cy="37.1" r="1.57" fill="#2a2a2a" fill-opacity="0.46"/><circle cx="44.6" cy="36.0" r="0.66" fill="#fff" fill-opacity="0.32"/><circle cx="37.4" cy="41.7" r="1.53" fill="#2a2a2a" fill-opacity="0.46"/><circle cx="36.4" cy="40.7" r="0.64" fill="#fff" fill-opacity="0.32"/><circle cx="47.4" cy="41.6" r="1.27" fill="#2a2a2a" fill-opacity="0.46"/><circle cx="46.6" cy="40.7" r="0.53" fill="#fff" fill-opacity="0.32"/><circle cx="52.8" cy="41.3" r="1.24" fill="#2a2a2a" fill-opacity="0.46"/><circle cx="52.0" cy="40.5" r="0.52" fill="#fff" fill-opacity="0.32"/><circle cx="75.8" cy="40.5" r="0.86" fill="#2a2a2a" fill-opacity="0.46"/><circle cx="75.3" cy="40.0" r="0.36" fill="#fff" fill-opacity="0.32"/><circle cx="62.1" cy="45.4" r="1.27" fill="#2a2a2a" fill-opacity="0.46"/><circle cx="61.3" cy="44.6" r="0.53" fill="#fff" fill-opacity="0.32"/><circle cx="67.5" cy="46.1" r="0.97" fill="#2a2a2a" fill-opacity="0.46"/><circle cx="66.9" cy="45.4" r="0.41" fill="#fff" fill-opacity="0.32"/><circle cx="65.3" cy="50.1" r="1.03" fill="#2a2a2a" fill-opacity="0.46"/><circle cx="64.7" cy="49.4" r="0.43" fill="#fff" fill-opacity="0.32"/><circle cx="27.9" cy="56.6" r="1.23" fill="#2a2a2a" fill-opacity="0.46"/><circle cx="27.1" cy="55.8" r="0.52" fill="#fff" fill-opacity="0.32"/><circle cx="30.7" cy="61.0" r="1.00" fill="#2a2a2a" fill-opacity="0.46"/><circle cx="30.0" cy="60.3" r="0.42" fill="#fff" fill-opacity="0.32"/><circle cx="53.2" cy="60.8" r="1.11" fill="#2a2a2a" fill-opacity="0.46"/><circle cx="52.5" cy="60.1" r="0.47" fill="#fff" fill-opacity="0.32"/><circle cx="59.0" cy="61.0" r="1.10" fill="#2a2a2a" fill-opacity="0.46"/><circle cx="58.3" cy="60.3" r="0.46" fill="#fff" fill-opacity="0.32"/><circle cx="63.8" cy="61.3" r="1.06" fill="#2a2a2a" fill-opacity="0.46"/><circle cx="63.1" cy="60.6" r="0.45" fill="#fff" fill-opacity="0.32"/><circle cx="8.6" cy="2.4" r="1.57" fill="#2a2a2a" fill-opacity="0.58" stroke="#202020" stroke-opacity="0.25" stroke-width="0.5"/><circle cx="15.5" cy="2.0" r="1.23" fill="#2a2a2a" fill-opacity="0.58" stroke="#202020" stroke-opacity="0.25" stroke-width="0.5"/><circle cx="20.8" cy="2.0" r="1.57" fill="#2a2a2a" fill-opacity="0.58" stroke="#202020" stroke-opacity="0.25" stroke-width="0.5"/><circle cx="27.3" cy="-0.3" r="1.57" fill="#2a2a2a" fill-opacity="0.58" stroke="#202020" stroke-opacity="0.25" stroke-width="0.5"/><circle cx="34.6" cy="-0.3" r="1.57" fill="#2a2a2a" fill-opacity="0.58" stroke="#202020" stroke-opacity="0.25" stroke-width="0.5"/><circle cx="41.1" cy="3.5" r="3.02" fill="#2a2a2a" fill-opacity="0.58" stroke="#202020" stroke-opacity="0.25" stroke-width="0.5"/><circle cx="27.7" cy="5.8" r="1.90" fill="#2a2a2a" fill-opacity="0.58" stroke="#202020" stroke-opacity="0.25" stroke-width="0.5"/><circle cx="7.5" cy="10.4" r="1.90" fill="#2a2a2a" fill-opacity="0.58" stroke="#202020" stroke-opacity="0.25" stroke-width="0.5"/><circle cx="30.8" cy="12.7" r="4.26" fill="#2a2a2a" fill-opacity="0.58" stroke="#202020" stroke-opacity="0.25" stroke-width="0.5"/><circle cx="39.9" cy="10.8" r="2.13" fill="#2a2a2a" fill-opacity="0.58" stroke="#202020" stroke-opacity="0.25" stroke-width="0.5"/><circle cx="18.5" cy="13.8" r="2.35" fill="#2a2a2a" fill-opacity="0.58" stroke="#202020" stroke-opacity="0.25" stroke-width="0.5"/><circle cx="12.4" cy="14.2" r="1.01" fill="#2a2a2a" fill-opacity="0.58" stroke="#202020" stroke-opacity="0.25" stroke-width="0.5"/><circle cx="6.3" cy="16.5" r="1.57" fill="#2a2a2a" fill-opacity="0.58" stroke="#202020" stroke-opacity="0.25" stroke-width="0.5"/><circle cx="37.2" cy="15.3" r="1.23" fill="#2a2a2a" fill-opacity="0.58" stroke="#202020" stroke-opacity="0.25" stroke-width="0.5"/><circle cx="22.7" cy="19.1" r="2.35" fill="#2a2a2a" fill-opacity="0.58" stroke="#202020" stroke-opacity="0.25" stroke-width="0.5"/><circle cx="9.8" cy="19.1" r="1.57" fill="#2a2a2a" fill-opacity="0.58" stroke="#202020" stroke-opacity="0.25" stroke-width="0.5"/><circle cx="3.3" cy="22.6" r="1.90" fill="#2a2a2a" fill-opacity="0.58" stroke="#202020" stroke-opacity="0.25" stroke-width="0.5"/><circle cx="15.5" cy="23.3" r="2.58" fill="#2a2a2a" fill-opacity="0.58" stroke="#202020" stroke-opacity="0.25" stroke-width="0.5"/><circle cx="31.5" cy="23.0" r="2.35" fill="#2a2a2a" fill-opacity="0.58" stroke="#202020" stroke-opacity="0.25" stroke-width="0.5"/><circle cx="41.8" cy="22.2" r="2.13" fill="#2a2a2a" fill-opacity="0.58" stroke="#202020" stroke-opacity="0.25" stroke-width="0.5"/><circle cx="38.4" cy="24.9" r="1.90" fill="#2a2a2a" fill-opacity="0.58" stroke="#202020" stroke-opacity="0.25" stroke-width="0.5"/><circle cx="9.4" cy="26.8" r="2.35" fill="#2a2a2a" fill-opacity="0.58" stroke="#202020" stroke-opacity="0.25" stroke-width="0.5"/><circle cx="23.5" cy="27.2" r="3.02" fill="#2a2a2a" fill-opacity="0.58" stroke="#202020" stroke-opacity="0.25" stroke-width="0.5"/><circle cx="29.2" cy="26.4" r="1.23" fill="#2a2a2a" fill-opacity="0.58" stroke="#202020" stroke-opacity="0.25" stroke-width="0.5"/><circle cx="35.3" cy="28.7" r="2.35" fill="#2a2a2a" fill-opacity="0.58" stroke="#202020" stroke-opacity="0.25" stroke-width="0.5"/><circle cx="48.5" cy="0.8" r="1.68" fill="#2a2a2a" fill-opacity="0.58" stroke="#202020" stroke-opacity="0.25" stroke-width="0.5"/><circle cx="55.0" cy="-0.3" r="1.90" fill="#2a2a2a" fill-opacity="0.58" stroke="#202020" stroke-opacity="0.25" stroke-width="0.5"/><circle cx="67.9" cy="0.1" r="1.90" fill="#2a2a2a" fill-opacity="0.58" stroke="#202020" stroke-opacity="0.25" stroke-width="0.5"/><circle cx="62.6" cy="5.4" r="2.58" fill="#2a2a2a" fill-opacity="0.58" stroke="#202020" stroke-opacity="0.25" stroke-width="0.5"/><circle cx="51.9" cy="6.9" r="1.90" fill="#2a2a2a" fill-opacity="0.58" stroke="#202020" stroke-opacity="0.25" stroke-width="0.5"/><circle cx="46.6" cy="10.0" r="2.35" fill="#2a2a2a" fill-opacity="0.58" stroke="#202020" stroke-opacity="0.25" stroke-width="0.5"/><circle cx="59.9" cy="13.8" r="3.02" fill="#2a2a2a" fill-opacity="0.58" stroke="#202020" stroke-opacity="0.25" stroke-width="0.5"/><circle cx="66.0" cy="13.4" r="2.35" fill="#2a2a2a" fill-opacity="0.58" stroke="#202020" stroke-opacity="0.25" stroke-width="0.5"/><circle cx="71.4" cy="9.2" r="1.68" fill="#2a2a2a" fill-opacity="0.58" stroke="#202020" stroke-opacity="0.25" stroke-width="0.5"/><circle cx="43.9" cy="22.2" r="3.25" fill="#2a2a2a" fill-opacity="0.58" stroke="#202020" stroke-opacity="0.25" stroke-width="0.5"/><circle cx="52.3" cy="22.2" r="2.58" fill="#2a2a2a" fill-opacity="0.58" stroke="#202020" stroke-opacity="0.25" stroke-width="0.5"/><circle cx="60.7" cy="22.6" r="2.13" fill="#2a2a2a" fill-opacity="0.58" stroke="#202020" stroke-opacity="0.25" stroke-width="0.5"/><circle cx="69.5" cy="19.9" r="2.58" fill="#2a2a2a" fill-opacity="0.58" stroke="#202020" stroke-opacity="0.25" stroke-width="0.5"/><circle cx="74.4" cy="24.5" r="1.57" fill="#2a2a2a" fill-opacity="0.58" stroke="#202020" stroke-opacity="0.25" stroke-width="0.5"/><circle cx="44.3" cy="29.1" r="1.90" fill="#2a2a2a" fill-opacity="0.58" stroke="#202020" stroke-opacity="0.25" stroke-width="0.5"/><circle cx="49.2" cy="27.9" r="1.90" fill="#2a2a2a" fill-opacity="0.58" stroke="#202020" stroke-opacity="0.25" stroke-width="0.5"/><circle cx="58.8" cy="28.3" r="1.23" fill="#2a2a2a" fill-opacity="0.58" stroke="#202020" stroke-opacity="0.25" stroke-width="0.5"/><circle cx="3.3" cy="31.6" r="2.35" fill="#2a2a2a" fill-opacity="0.58" stroke="#202020" stroke-opacity="0.25" stroke-width="0.5"/><circle cx="23.5" cy="29.7" r="1.90" fill="#2a2a2a" fill-opacity="0.58" stroke="#202020" stroke-opacity="0.25" stroke-width="0.5"/><circle cx="35.0" cy="30.1" r="2.13" fill="#2a2a2a" fill-opacity="0.58" stroke="#202020" stroke-opacity="0.25" stroke-width="0.5"/><circle cx="27.7" cy="37.3" r="2.69" fill="#2a2a2a" fill-opacity="0.58" stroke="#202020" stroke-opacity="0.25" stroke-width="0.5"/><circle cx="34.2" cy="35.4" r="1.90" fill="#2a2a2a" fill-opacity="0.58" stroke="#202020" stroke-opacity="0.25" stroke-width="0.5"/><circle cx="38.8" cy="36.2" r="1.68" fill="#2a2a2a" fill-opacity="0.58" stroke="#202020" stroke-opacity="0.25" stroke-width="0.5"/><circle cx="41.1" cy="40.4" r="1.90" fill="#2a2a2a" fill-opacity="0.58" stroke="#202020" stroke-opacity="0.25" stroke-width="0.5"/><circle cx="33.4" cy="44.2" r="2.58" fill="#2a2a2a" fill-opacity="0.58" stroke="#202020" stroke-opacity="0.25" stroke-width="0.5"/><circle cx="26.2" cy="47.2" r="1.23" fill="#2a2a2a" fill-opacity="0.58" stroke="#202020" stroke-opacity="0.25" stroke-width="0.5"/><circle cx="31.5" cy="51.1" r="3.02" fill="#2a2a2a" fill-opacity="0.58" stroke="#202020" stroke-opacity="0.25" stroke-width="0.5"/><circle cx="38.0" cy="53.7" r="3.02" fill="#2a2a2a" fill-opacity="0.58" stroke="#202020" stroke-opacity="0.25" stroke-width="0.5"/><circle cx="41.8" cy="47.6" r="1.23" fill="#2a2a2a" fill-opacity="0.58" stroke="#202020" stroke-opacity="0.25" stroke-width="0.5"/><circle cx="53.4" cy="32.0" r="2.69" fill="#2a2a2a" fill-opacity="0.58" stroke="#202020" stroke-opacity="0.25" stroke-width="0.5"/><circle cx="60.3" cy="32.7" r="1.68" fill="#2a2a2a" fill-opacity="0.58" stroke="#202020" stroke-opacity="0.25" stroke-width="0.5"/><circle cx="63.4" cy="32.7" r="1.90" fill="#2a2a2a" fill-opacity="0.58" stroke="#202020" stroke-opacity="0.25" stroke-width="0.5"/><circle cx="60.7" cy="40.4" r="2.35" fill="#2a2a2a" fill-opacity="0.58" stroke="#202020" stroke-opacity="0.25" stroke-width="0.5"/><circle cx="66.8" cy="38.8" r="1.57" fill="#2a2a2a" fill-opacity="0.58" stroke="#202020" stroke-opacity="0.25" stroke-width="0.5"/><circle cx="69.8" cy="35.8" r="1.01" fill="#2a2a2a" fill-opacity="0.58" stroke="#202020" stroke-opacity="0.25" stroke-width="0.5"/><circle cx="49.2" cy="45.3" r="1.57" fill="#2a2a2a" fill-opacity="0.58" stroke="#202020" stroke-opacity="0.25" stroke-width="0.5"/><circle cx="42.7" cy="48.0" r="2.35" fill="#2a2a2a" fill-opacity="0.58" stroke="#202020" stroke-opacity="0.25" stroke-width="0.5"/><circle cx="72.9" cy="46.5" r="2.13" fill="#2a2a2a" fill-opacity="0.58" stroke="#202020" stroke-opacity="0.25" stroke-width="0.5"/><circle cx="49.6" cy="52.2" r="2.69" fill="#2a2a2a" fill-opacity="0.58" stroke="#202020" stroke-opacity="0.25" stroke-width="0.5"/><circle cx="69.5" cy="52.2" r="1.90" fill="#2a2a2a" fill-opacity="0.58" stroke="#202020" stroke-opacity="0.25" stroke-width="0.5"/><circle cx="42.7" cy="54.1" r="1.23" fill="#2a2a2a" fill-opacity="0.58" stroke="#202020" stroke-opacity="0.25" stroke-width="0.5"/><circle cx="59.2" cy="54.5" r="2.13" fill="#2a2a2a" fill-opacity="0.58" stroke="#202020" stroke-opacity="0.25" stroke-width="0.5"/><circle cx="47.3" cy="57.5" r="2.58" fill="#2a2a2a" fill-opacity="0.58" stroke="#202020" stroke-opacity="0.25" stroke-width="0.5"/><circle cx="51.2" cy="15.2" r="2.24" fill="#2a2a2a" fill-opacity="0.58" stroke="#202020" stroke-opacity="0.25" stroke-width="0.5"/></g>
<rect x="46.4" y="10.6" width="9.6" height="9.2" fill="none" stroke="#3d7cc4" stroke-width="1.2"/>
<g><rect x="1.6" y="35.9" width="24.2" height="23.9" fill="#d0d0d0" stroke="#e6e6e6" stroke-width="0.9"/>
<ellipse cx="13" cy="45.8" rx="7.6" ry="7.6" transform="rotate(0 13 45.8)" fill="url(#sp220)" stroke="#555" stroke-width="0.9" filter="url(#bl05)"/>
</g>
</g>
<g transform="translate(307 144)" clip-path="url(#c23)">
<rect x="0" y="0" width="83" height="61" fill="#000"/>
<rect x="2.2" y="-2" width="74.6" height="66" rx="12" fill="url(#g23)" filter="url(#blf)"/>
<g filter="url(#bl05)"><circle cx="7.8" cy="1.6" r="1.61" fill="#2a2a2a" fill-opacity="0.86"/><circle cx="14.7" cy="1.2" r="1.26" fill="#2a2a2a" fill-opacity="0.86"/><circle cx="20.0" cy="1.2" r="1.61" fill="#2a2a2a" fill-opacity="0.86"/><circle cx="26.5" cy="-1.1" r="1.61" fill="#2a2a2a" fill-opacity="0.86"/><circle cx="33.8" cy="-1.1" r="1.61" fill="#2a2a2a" fill-opacity="0.86"/><circle cx="40.3" cy="2.7" r="3.10" fill="#2a2a2a" fill-opacity="0.86"/><circle cx="26.9" cy="5.0" r="1.95" fill="#2a2a2a" fill-opacity="0.86"/><circle cx="6.7" cy="9.6" r="1.95" fill="#2a2a2a" fill-opacity="0.86"/><circle cx="30.0" cy="11.9" r="4.37" fill="#2a2a2a" fill-opacity="0.86"/><circle cx="39.1" cy="10.0" r="2.18" fill="#2a2a2a" fill-opacity="0.86"/><circle cx="17.7" cy="13.0" r="2.42" fill="#2a2a2a" fill-opacity="0.86"/><circle cx="11.6" cy="13.4" r="1.03" fill="#2a2a2a" fill-opacity="0.86"/><circle cx="5.5" cy="15.7" r="1.61" fill="#2a2a2a" fill-opacity="0.86"/><circle cx="36.4" cy="14.5" r="1.26" fill="#2a2a2a" fill-opacity="0.86"/><circle cx="21.9" cy="18.3" r="2.42" fill="#2a2a2a" fill-opacity="0.86"/><circle cx="9.0" cy="18.3" r="1.61" fill="#2a2a2a" fill-opacity="0.86"/><circle cx="2.5" cy="21.8" r="1.95" fill="#2a2a2a" fill-opacity="0.86"/><circle cx="14.7" cy="22.5" r="2.64" fill="#2a2a2a" fill-opacity="0.86"/><circle cx="30.7" cy="22.2" r="2.42" fill="#2a2a2a" fill-opacity="0.86"/><circle cx="41.0" cy="21.4" r="2.18" fill="#2a2a2a" fill-opacity="0.86"/><circle cx="37.6" cy="24.1" r="1.95" fill="#2a2a2a" fill-opacity="0.86"/><circle cx="8.6" cy="26.0" r="2.42" fill="#2a2a2a" fill-opacity="0.86"/><circle cx="22.7" cy="26.4" r="3.10" fill="#2a2a2a" fill-opacity="0.86"/><circle cx="28.4" cy="25.6" r="1.26" fill="#2a2a2a" fill-opacity="0.86"/><circle cx="34.5" cy="27.9" r="2.42" fill="#2a2a2a" fill-opacity="0.86"/><circle cx="47.7" cy="0.0" r="1.72" fill="#2a2a2a" fill-opacity="0.86"/><circle cx="54.2" cy="-1.1" r="1.95" fill="#2a2a2a" fill-opacity="0.86"/><circle cx="67.1" cy="-0.7" r="1.95" fill="#2a2a2a" fill-opacity="0.86"/><circle cx="61.8" cy="4.6" r="2.64" fill="#2a2a2a" fill-opacity="0.86"/><circle cx="51.1" cy="6.1" r="1.95" fill="#2a2a2a" fill-opacity="0.86"/><circle cx="45.8" cy="9.2" r="2.42" fill="#2a2a2a" fill-opacity="0.86"/><circle cx="59.1" cy="13.0" r="3.10" fill="#2a2a2a" fill-opacity="0.86"/><circle cx="65.2" cy="12.6" r="2.42" fill="#2a2a2a" fill-opacity="0.86"/><circle cx="70.6" cy="8.4" r="1.72" fill="#2a2a2a" fill-opacity="0.86"/><circle cx="43.1" cy="21.4" r="3.33" fill="#2a2a2a" fill-opacity="0.86"/><circle cx="51.5" cy="21.4" r="2.64" fill="#2a2a2a" fill-opacity="0.86"/><circle cx="59.9" cy="21.8" r="2.18" fill="#2a2a2a" fill-opacity="0.86"/><circle cx="68.7" cy="19.1" r="2.64" fill="#2a2a2a" fill-opacity="0.86"/><circle cx="73.6" cy="23.7" r="1.61" fill="#2a2a2a" fill-opacity="0.86"/><circle cx="43.5" cy="28.3" r="1.95" fill="#2a2a2a" fill-opacity="0.86"/><circle cx="48.4" cy="27.1" r="1.95" fill="#2a2a2a" fill-opacity="0.86"/><circle cx="58.0" cy="27.5" r="1.26" fill="#2a2a2a" fill-opacity="0.86"/><circle cx="2.5" cy="30.8" r="2.42" fill="#2a2a2a" fill-opacity="0.86"/><circle cx="22.7" cy="28.9" r="1.95" fill="#2a2a2a" fill-opacity="0.86"/><circle cx="34.2" cy="29.3" r="2.18" fill="#2a2a2a" fill-opacity="0.86"/><circle cx="26.9" cy="36.5" r="2.76" fill="#2a2a2a" fill-opacity="0.86"/><circle cx="33.4" cy="34.6" r="1.95" fill="#2a2a2a" fill-opacity="0.86"/><circle cx="38.0" cy="35.4" r="1.72" fill="#2a2a2a" fill-opacity="0.86"/><circle cx="40.3" cy="39.6" r="1.95" fill="#2a2a2a" fill-opacity="0.86"/><circle cx="32.6" cy="43.4" r="2.64" fill="#2a2a2a" fill-opacity="0.86"/><circle cx="25.4" cy="46.4" r="1.26" fill="#2a2a2a" fill-opacity="0.86"/><circle cx="30.7" cy="50.3" r="3.10" fill="#2a2a2a" fill-opacity="0.86"/><circle cx="37.2" cy="52.9" r="3.10" fill="#2a2a2a" fill-opacity="0.86"/><circle cx="41.0" cy="46.8" r="1.26" fill="#2a2a2a" fill-opacity="0.86"/><circle cx="52.6" cy="31.2" r="2.76" fill="#2a2a2a" fill-opacity="0.86"/><circle cx="59.5" cy="31.9" r="1.72" fill="#2a2a2a" fill-opacity="0.86"/><circle cx="62.6" cy="31.9" r="1.95" fill="#2a2a2a" fill-opacity="0.86"/><circle cx="59.9" cy="39.6" r="2.42" fill="#2a2a2a" fill-opacity="0.86"/><circle cx="66.0" cy="38.0" r="1.61" fill="#2a2a2a" fill-opacity="0.86"/><circle cx="69.0" cy="35.0" r="1.03" fill="#2a2a2a" fill-opacity="0.86"/><circle cx="48.4" cy="44.5" r="1.61" fill="#2a2a2a" fill-opacity="0.86"/><circle cx="41.9" cy="47.2" r="2.42" fill="#2a2a2a" fill-opacity="0.86"/><circle cx="72.1" cy="45.7" r="2.18" fill="#2a2a2a" fill-opacity="0.86"/><circle cx="48.8" cy="51.4" r="2.76" fill="#2a2a2a" fill-opacity="0.86"/><circle cx="68.7" cy="51.4" r="1.95" fill="#2a2a2a" fill-opacity="0.86"/><circle cx="41.9" cy="53.3" r="1.26" fill="#2a2a2a" fill-opacity="0.86"/><circle cx="58.4" cy="53.7" r="2.18" fill="#2a2a2a" fill-opacity="0.86"/><circle cx="46.5" cy="56.7" r="2.64" fill="#2a2a2a" fill-opacity="0.86"/><circle cx="50.4" cy="14.4" r="2.30" fill="#2a2a2a" fill-opacity="0.86"/></g>
<rect x="45.6" y="9.799999999999999" width="9.6" height="9.2" fill="none" stroke="#3d7cc4" stroke-width="1.2"/>
<g><rect x="1.6" y="35.9" width="24.2" height="23.9" fill="#cacaca" stroke="#e6e6e6" stroke-width="0.9"/>
<ellipse cx="11.5" cy="45.8" rx="9.5" ry="9.5" fill="#8a8a8a" filter="url(#blh)"/>
<ellipse cx="11.5" cy="45.8" rx="7.6" ry="7.6" transform="rotate(0 11.5 45.8)" fill="url(#sp231)" stroke="#404040" stroke-width="0.9" filter="url(#bl05)"/>
</g>
</g>
<g transform="translate(391 144)" clip-path="url(#c24)">
<rect x="0" y="0" width="83" height="61" fill="#000"/>
<rect x="2.2" y="-2" width="74.6" height="66" rx="12" fill="url(#g24)" filter="url(#blf)"/>
<g filter="url(#bl05)"><circle cx="8.0" cy="3.1" r="1.61" fill="#222" fill-opacity="0.9"/><circle cx="14.9" cy="2.7" r="1.26" fill="#222" fill-opacity="0.9"/><circle cx="20.2" cy="2.7" r="1.61" fill="#222" fill-opacity="0.9"/><circle cx="26.7" cy="0.4" r="1.61" fill="#222" fill-opacity="0.9"/><circle cx="34.0" cy="0.4" r="1.61" fill="#222" fill-opacity="0.9"/><circle cx="40.5" cy="4.2" r="3.10" fill="#222" fill-opacity="0.9"/><circle cx="27.1" cy="6.5" r="1.95" fill="#222" fill-opacity="0.9"/><circle cx="6.9" cy="11.1" r="1.95" fill="#222" fill-opacity="0.9"/><circle cx="30.2" cy="13.4" r="4.37" fill="#222" fill-opacity="0.9"/><circle cx="39.3" cy="11.5" r="2.18" fill="#222" fill-opacity="0.9"/><circle cx="17.9" cy="14.5" r="2.42" fill="#222" fill-opacity="0.9"/><circle cx="11.8" cy="14.9" r="1.03" fill="#222" fill-opacity="0.9"/><circle cx="5.7" cy="17.2" r="1.61" fill="#222" fill-opacity="0.9"/><circle cx="36.6" cy="16.0" r="1.26" fill="#222" fill-opacity="0.9"/><circle cx="22.1" cy="19.8" r="2.42" fill="#222" fill-opacity="0.9"/><circle cx="9.2" cy="19.8" r="1.61" fill="#222" fill-opacity="0.9"/><circle cx="2.7" cy="23.3" r="1.95" fill="#222" fill-opacity="0.9"/><circle cx="14.9" cy="24.0" r="2.64" fill="#222" fill-opacity="0.9"/><circle cx="30.9" cy="23.7" r="2.42" fill="#222" fill-opacity="0.9"/><circle cx="41.2" cy="22.9" r="2.18" fill="#222" fill-opacity="0.9"/><circle cx="37.8" cy="25.6" r="1.95" fill="#222" fill-opacity="0.9"/><circle cx="8.8" cy="27.5" r="2.42" fill="#222" fill-opacity="0.9"/><circle cx="22.9" cy="27.9" r="3.10" fill="#222" fill-opacity="0.9"/><circle cx="28.6" cy="27.1" r="1.26" fill="#222" fill-opacity="0.9"/><circle cx="34.7" cy="29.4" r="2.42" fill="#222" fill-opacity="0.9"/><circle cx="47.9" cy="1.5" r="1.72" fill="#222" fill-opacity="0.9"/><circle cx="54.4" cy="0.4" r="1.95" fill="#222" fill-opacity="0.9"/><circle cx="67.3" cy="0.8" r="1.95" fill="#222" fill-opacity="0.9"/><circle cx="62.0" cy="6.1" r="2.64" fill="#222" fill-opacity="0.9"/><circle cx="51.3" cy="7.6" r="1.95" fill="#222" fill-opacity="0.9"/><circle cx="46.0" cy="10.7" r="2.42" fill="#222" fill-opacity="0.9"/><circle cx="59.3" cy="14.5" r="3.10" fill="#222" fill-opacity="0.9"/><circle cx="65.4" cy="14.1" r="2.42" fill="#222" fill-opacity="0.9"/><circle cx="70.8" cy="9.9" r="1.72" fill="#222" fill-opacity="0.9"/><circle cx="43.3" cy="22.9" r="3.33" fill="#222" fill-opacity="0.9"/><circle cx="51.7" cy="22.9" r="2.64" fill="#222" fill-opacity="0.9"/><circle cx="60.1" cy="23.3" r="2.18" fill="#222" fill-opacity="0.9"/><circle cx="68.9" cy="20.6" r="2.64" fill="#222" fill-opacity="0.9"/><circle cx="73.8" cy="25.2" r="1.61" fill="#222" fill-opacity="0.9"/><circle cx="43.7" cy="29.8" r="1.95" fill="#222" fill-opacity="0.9"/><circle cx="48.6" cy="28.6" r="1.95" fill="#222" fill-opacity="0.9"/><circle cx="58.2" cy="29.0" r="1.26" fill="#222" fill-opacity="0.9"/><circle cx="2.7" cy="32.3" r="2.42" fill="#222" fill-opacity="0.9"/><circle cx="22.9" cy="30.4" r="1.95" fill="#222" fill-opacity="0.9"/><circle cx="34.4" cy="30.8" r="2.18" fill="#222" fill-opacity="0.9"/><circle cx="27.1" cy="38.0" r="2.76" fill="#222" fill-opacity="0.9"/><circle cx="33.6" cy="36.1" r="1.95" fill="#222" fill-opacity="0.9"/><circle cx="38.2" cy="36.9" r="1.72" fill="#222" fill-opacity="0.9"/><circle cx="40.5" cy="41.1" r="1.95" fill="#222" fill-opacity="0.9"/><circle cx="32.8" cy="44.9" r="2.64" fill="#222" fill-opacity="0.9"/><circle cx="25.6" cy="47.9" r="1.26" fill="#222" fill-opacity="0.9"/><circle cx="30.9" cy="51.8" r="3.10" fill="#222" fill-opacity="0.9"/><circle cx="37.4" cy="54.4" r="3.10" fill="#222" fill-opacity="0.9"/><circle cx="41.2" cy="48.3" r="1.26" fill="#222" fill-opacity="0.9"/><circle cx="52.8" cy="32.7" r="2.76" fill="#222" fill-opacity="0.9"/><circle cx="59.7" cy="33.4" r="1.72" fill="#222" fill-opacity="0.9"/><circle cx="62.8" cy="33.4" r="1.95" fill="#222" fill-opacity="0.9"/><circle cx="60.1" cy="41.1" r="2.42" fill="#222" fill-opacity="0.9"/><circle cx="66.2" cy="39.5" r="1.61" fill="#222" fill-opacity="0.9"/><circle cx="69.2" cy="36.5" r="1.03" fill="#222" fill-opacity="0.9"/><circle cx="48.6" cy="46.0" r="1.61" fill="#222" fill-opacity="0.9"/><circle cx="42.1" cy="48.7" r="2.42" fill="#222" fill-opacity="0.9"/><circle cx="72.3" cy="47.2" r="2.18" fill="#222" fill-opacity="0.9"/><circle cx="49.0" cy="52.9" r="2.76" fill="#222" fill-opacity="0.9"/><circle cx="68.9" cy="52.9" r="1.95" fill="#222" fill-opacity="0.9"/><circle cx="42.1" cy="54.8" r="1.26" fill="#222" fill-opacity="0.9"/><circle cx="58.6" cy="55.2" r="2.18" fill="#222" fill-opacity="0.9"/><circle cx="46.7" cy="58.2" r="2.64" fill="#222" fill-opacity="0.9"/><circle cx="50.6" cy="15.9" r="2.30" fill="#222" fill-opacity="0.9"/></g>
<rect x="45.800000000000004" y="11.299999999999999" width="9.6" height="9.2" fill="none" stroke="#3d7cc4" stroke-width="1.2"/>
<g><rect x="1.6" y="35.9" width="24.2" height="23.9" fill="#e8e8e8" stroke="#e6e6e6" stroke-width="0.9"/>
<ellipse cx="11.1" cy="47.9" rx="10" ry="10" fill="#a0a0a0" filter="url(#blh)"/>
<ellipse cx="11.1" cy="47.9" rx="8" ry="8" transform="rotate(0 11.1 47.9)" fill="url(#sp241)" stroke="#3a3a3a" stroke-width="0.9" filter="url(#bl05)"/>
</g>
</g>
<text x="8.9" y="227.6" font-family="Liberation Serif, serif" font-weight="bold" font-size="9" letter-spacing="0.5">(b)</text>
<text x="97.3" y="229.3" font-family="Liberation Serif, serif" font-size="11.5" letter-spacing="0.05" fill="#111" stroke="#111" stroke-width="0.2">Spheroid Area</text>
<text transform="translate(13.0 313.5) rotate(-90)" font-family="Liberation Sans, sans-serif" font-size="7.95" fill="#222" stroke="#222" stroke-width="0.12" text-anchor="middle">Spheroid Area (px<tspan font-size="5" dy="-2.6">2</tspan><tspan dy="2.6">)</tspan></text>
<rect x="36" y="250.8" width="58.5" height="59.30000000000001" fill="#fff"/>
<line x1="38.50" y1="250.8" x2="38.50" y2="310.1" stroke="#f1f1f1" stroke-width="0.5"/>
<line x1="56.20" y1="250.8" x2="56.20" y2="310.1" stroke="#f1f1f1" stroke-width="0.5"/>
<line x1="73.90" y1="250.8" x2="73.90" y2="310.1" stroke="#f1f1f1" stroke-width="0.5"/>
<line x1="91.60" y1="250.8" x2="91.60" y2="310.1" stroke="#f1f1f1" stroke-width="0.5"/>
<line x1="36" y1="303.90" x2="94.5" y2="303.90" stroke="#f1f1f1" stroke-width="0.5"/>
<line x1="36" y1="289.50" x2="94.5" y2="289.50" stroke="#f1f1f1" stroke-width="0.5"/>
<line x1="36" y1="275.10" x2="94.5" y2="275.10" stroke="#f1f1f1" stroke-width="0.5"/>
<line x1="36" y1="260.70" x2="94.5" y2="260.70" stroke="#f1f1f1" stroke-width="0.5"/>
<line x1="36" y1="246.30" x2="94.5" y2="246.30" stroke="#f1f1f1" stroke-width="0.5"/>
<line x1="47.35" y1="250.8" x2="47.35" y2="310.1" stroke="#e2e2e2" stroke-width="0.6"/>
<line x1="65.05" y1="250.8" x2="65.05" y2="310.1" stroke="#e2e2e2" stroke-width="0.6"/>
<line x1="82.75" y1="250.8" x2="82.75" y2="310.1" stroke="#e2e2e2" stroke-width="0.6"/>
<line x1="36" y1="296.70" x2="94.5" y2="296.70" stroke="#e2e2e2" stroke-width="0.6"/>
<line x1="36" y1="282.30" x2="94.5" y2="282.30" stroke="#e2e2e2" stroke-width="0.6"/>
<line x1="36" y1="267.90" x2="94.5" y2="267.90" stroke="#e2e2e2" stroke-width="0.6"/>
<line x1="36" y1="253.50" x2="94.5" y2="253.50" stroke="#e2e2e2" stroke-width="0.6"/>
<line x1="36" y1="282.30" x2="94.5" y2="282.30" stroke="#444" stroke-width="0.7" stroke-dasharray="1.1,1.1"/>
<line x1="38.50" y1="287.3" x2="38.50" y2="307" stroke="#4a994a" stroke-width="1.5" stroke-opacity="0.75"/>
<line x1="47.35" y1="277" x2="47.35" y2="302.7" stroke="#4a994a" stroke-width="1.5" stroke-opacity="0.75"/>
<line x1="56.20" y1="257.2" x2="56.20" y2="306.7" stroke="#4a994a" stroke-width="1.5" stroke-opacity="0.75"/>
<line x1="73.90" y1="258" x2="73.90" y2="302.1" stroke="#4a994a" stroke-width="1.5" stroke-opacity="0.75"/>
<line x1="91.60" y1="275.4" x2="91.60" y2="297.2" stroke="#4a994a" stroke-width="1.5" stroke-opacity="0.75"/>
<polyline points="38.50,297.20 47.35,289.90 56.20,281.80 73.90,280.00 91.60,286.30" fill="none" stroke="#2f7f2f" stroke-width="1.1" stroke-opacity="1" stroke-linejoin="round" />
<circle cx="38.50" cy="297.2" r="2.25" fill="#176e17"/>
<circle cx="47.35" cy="289.9" r="2.25" fill="#176e17"/>
<circle cx="56.20" cy="281.8" r="2.25" fill="#176e17"/>
<circle cx="73.90" cy="280" r="2.25" fill="#176e17"/>
<circle cx="91.60" cy="286.3" r="2.25" fill="#176e17"/>
<rect x="36" y="250.8" width="58.5" height="59.30000000000001" fill="none" stroke="#8c8c8c" stroke-width="0.7"/>
<line x1="47.35" y1="310.1" x2="47.35" y2="311.90000000000003" stroke="#333" stroke-width="0.5"/>
<line x1="65.05" y1="310.1" x2="65.05" y2="311.90000000000003" stroke="#333" stroke-width="0.5"/>
<line x1="82.75" y1="310.1" x2="82.75" y2="311.90000000000003" stroke="#333" stroke-width="0.5"/>
<rect x="35.7" y="236.5" width="59.1" height="14.300000000000011" fill="#000"/>
<text x="65.25" y="246.70" font-family="Liberation Serif, serif" font-size="9.6" fill="#fff" stroke="#fff" stroke-width="0.18" text-anchor="middle" letter-spacing="0.2">Vehicle</text>
<rect x="36" y="315.4" width="58.5" height="59.0" fill="#fff"/>
<line x1="38.50" y1="315.4" x2="38.50" y2="374.4" stroke="#f1f1f1" stroke-width="0.5"/>
<line x1="56.20" y1="315.4" x2="56.20" y2="374.4" stroke="#f1f1f1" stroke-width="0.5"/>
<line x1="73.90" y1="315.4" x2="73.90" y2="374.4" stroke="#f1f1f1" stroke-width="0.5"/>
<line x1="91.60" y1="315.4" x2="91.60" y2="374.4" stroke="#f1f1f1" stroke-width="0.5"/>
<line x1="36" y1="367.93" x2="94.5" y2="367.93" stroke="#f1f1f1" stroke-width="0.5"/>
<line x1="36" y1="353.67" x2="94.5" y2="353.67" stroke="#f1f1f1" stroke-width="0.5"/>
<line x1="36" y1="339.41" x2="94.5" y2="339.41" stroke="#f1f1f1" stroke-width="0.5"/>
<line x1="36" y1="325.15" x2="94.5" y2="325.15" stroke="#f1f1f1" stroke-width="0.5"/>
<line x1="36" y1="310.89" x2="94.5" y2="310.89" stroke="#f1f1f1" stroke-width="0.5"/>
<line x1="47.35" y1="315.4" x2="47.35" y2="374.4" stroke="#e2e2e2" stroke-width="0.6"/>
<line x1="65.05" y1="315.4" x2="65.05" y2="374.4" stroke="#e2e2e2" stroke-width="0.6"/>
<line x1="82.75" y1="315.4" x2="82.75" y2="374.4" stroke="#e2e2e2" stroke-width="0.6"/>
<line x1="36" y1="360.80" x2="94.5" y2="360.80" stroke="#e2e2e2" stroke-width="0.6"/>
<line x1="36" y1="346.54" x2="94.5" y2="346.54" stroke="#e2e2e2" stroke-width="0.6"/>
<line x1="36" y1="332.28" x2="94.5" y2="332.28" stroke="#e2e2e2" stroke-width="0.6"/>
<line x1="36" y1="318.02" x2="94.5" y2="318.02" stroke="#e2e2e2" stroke-width="0.6"/>
<line x1="36" y1="346.54" x2="94.5" y2="346.54" stroke="#444" stroke-width="0.7" stroke-dasharray="1.1,1.1"/>
<polyline points="38.50,368.64 47.35,356.52 56.20,330.85 73.90,321.59 91.60,337.98" fill="none" stroke="#4dbb4d" stroke-width="0.8" stroke-opacity="0.95" stroke-linejoin="round" />
<polyline points="38.50,335.85 47.35,326.58 56.20,335.85 73.90,335.85 91.60,322.30" fill="none" stroke="#4ac4e6" stroke-width="0.8" stroke-opacity="0.95" stroke-linejoin="round" />
<polyline points="38.50,363.65 47.35,336.56 56.20,360.80 73.90,345.11 91.60,353.67" fill="none" stroke="#f07ac0" stroke-width="0.8" stroke-opacity="0.95" stroke-linejoin="round" />
<polyline points="38.50,369.36 47.35,359.37 56.20,368.64 73.90,351.53 91.60,346.54" fill="none" stroke="#2ec4a8" stroke-width="0.8" stroke-opacity="0.95" stroke-linejoin="round" />
<polyline points="38.50,360.80 47.35,350.11 56.20,336.56 73.90,346.54 91.60,346.54" fill="none" stroke="#66b8f0" stroke-width="0.8" stroke-opacity="0.95" stroke-linejoin="round" />
<polyline points="38.50,366.50 47.35,360.80 56.20,352.24 73.90,356.52 91.60,356.52" fill="none" stroke="#e860c0" stroke-width="0.8" stroke-opacity="0.95" stroke-linejoin="round" />
<polyline points="38.50,364.37 47.35,339.41 56.20,342.98 73.90,344.40 91.60,357.24" fill="none" stroke="#b080f0" stroke-width="0.8" stroke-opacity="0.95" stroke-linejoin="round" />
<polyline points="38.50,360.80 47.35,364.37 56.20,344.40 73.90,340.84 91.60,346.54" fill="none" stroke="#55c878" stroke-width="0.8" stroke-opacity="0.95" stroke-linejoin="round" />
<polyline points="38.50,367.93 47.35,349.39 56.20,357.24 73.90,359.37 91.60,360.80" fill="none" stroke="#30b8c8" stroke-width="0.8" stroke-opacity="0.95" stroke-linejoin="round" />
<polyline points="38.50,357.24 47.35,362.23 56.20,366.50 73.90,367.93 91.60,364.37" fill="none" stroke="#f59ad0" stroke-width="0.8" stroke-opacity="0.95" stroke-linejoin="round" />
<polyline points="38.50,362.23 47.35,366.50 56.20,355.10 73.90,360.80 91.60,362.23" fill="none" stroke="#38c0a0" stroke-width="0.8" stroke-opacity="0.95" stroke-linejoin="round" />
<polyline points="38.50,350.11 47.35,357.95 56.20,362.23 73.90,353.67 91.60,346.54" fill="none" stroke="#50a8e8" stroke-width="0.8" stroke-opacity="0.95" stroke-linejoin="round" />
<polyline points="38.50,370.07 47.35,368.64 56.20,363.65 73.90,366.50 91.60,359.37" fill="none" stroke="#c090e8" stroke-width="0.8" stroke-opacity="0.95" stroke-linejoin="round" />
<polyline points="38.50,367.93 47.35,344.40 56.20,359.37 73.90,349.39 91.60,352.24" fill="none" stroke="#f080b8" stroke-width="0.8" stroke-opacity="0.95" stroke-linejoin="round" />
<polyline points="38.50,359.37 47.35,355.10 56.20,367.93 73.90,350.82 91.60,347.97" fill="none" stroke="#3cc8d8" stroke-width="0.8" stroke-opacity="0.95" stroke-linejoin="round" />
<rect x="36" y="315.4" width="58.5" height="59.0" fill="none" stroke="#8c8c8c" stroke-width="0.7"/>
<rect x="35.7" y="314.9" width="59.1" height="1.4" fill="#555"/>
<line x1="47.35" y1="374.4" x2="47.35" y2="376.2" stroke="#333" stroke-width="0.5"/>
<line x1="65.05" y1="374.4" x2="65.05" y2="376.2" stroke="#333" stroke-width="0.5"/>
<line x1="82.75" y1="374.4" x2="82.75" y2="376.2" stroke="#333" stroke-width="0.5"/>
<text transform="translate(41.50 376.9) rotate(-90)" font-family="Liberation Sans, sans-serif" font-size="8.3" fill="#222" stroke="#222" stroke-width="0.12" text-anchor="end">Day 3</text>
<text transform="translate(49.60 376.9) rotate(-90)" font-family="Liberation Sans, sans-serif" font-size="8.3" fill="#222" stroke="#222" stroke-width="0.12" text-anchor="end">Day 4</text>
<text transform="translate(59.10 376.9) rotate(-90)" font-family="Liberation Sans, sans-serif" font-size="8.3" fill="#222" stroke="#222" stroke-width="0.12" text-anchor="end">Day 5</text>
<text transform="translate(75.70 376.9) rotate(-90)" font-family="Liberation Sans, sans-serif" font-size="8.3" fill="#222" stroke="#222" stroke-width="0.12" text-anchor="end">Day 7</text>
<text transform="translate(91.30 376.9) rotate(-90)" font-family="Liberation Sans, sans-serif" font-size="8.3" fill="#222" stroke="#222" stroke-width="0.12" text-anchor="end">Day 7 fixed</text>
<rect x="97.7" y="250.8" width="58.499999999999986" height="59.30000000000001" fill="#fff"/>
<line x1="100.20" y1="250.8" x2="100.20" y2="310.1" stroke="#f1f1f1" stroke-width="0.5"/>
<line x1="117.90" y1="250.8" x2="117.90" y2="310.1" stroke="#f1f1f1" stroke-width="0.5"/>
<line x1="135.60" y1="250.8" x2="135.60" y2="310.1" stroke="#f1f1f1" stroke-width="0.5"/>
<line x1="153.30" y1="250.8" x2="153.30" y2="310.1" stroke="#f1f1f1" stroke-width="0.5"/>
<line x1="97.7" y1="303.90" x2="156.2" y2="303.90" stroke="#f1f1f1" stroke-width="0.5"/>
<line x1="97.7" y1="289.50" x2="156.2" y2="289.50" stroke="#f1f1f1" stroke-width="0.5"/>
<line x1="97.7" y1="275.10" x2="156.2" y2="275.10" stroke="#f1f1f1" stroke-width="0.5"/>
<line x1="97.7" y1="260.70" x2="156.2" y2="260.70" stroke="#f1f1f1" stroke-width="0.5"/>
<line x1="97.7" y1="246.30" x2="156.2" y2="246.30" stroke="#f1f1f1" stroke-width="0.5"/>
<line x1="109.05" y1="250.8" x2="109.05" y2="310.1" stroke="#e2e2e2" stroke-width="0.6"/>
<line x1="126.75" y1="250.8" x2="126.75" y2="310.1" stroke="#e2e2e2" stroke-width="0.6"/>
<line x1="144.45" y1="250.8" x2="144.45" y2="310.1" stroke="#e2e2e2" stroke-width="0.6"/>
<line x1="97.7" y1="296.70" x2="156.2" y2="296.70" stroke="#e2e2e2" stroke-width="0.6"/>
<line x1="97.7" y1="282.30" x2="156.2" y2="282.30" stroke="#e2e2e2" stroke-width="0.6"/>
<line x1="97.7" y1="267.90" x2="156.2" y2="267.90" stroke="#e2e2e2" stroke-width="0.6"/>
<line x1="97.7" y1="253.50" x2="156.2" y2="253.50" stroke="#e2e2e2" stroke-width="0.6"/>
<line x1="97.7" y1="282.30" x2="156.2" y2="282.30" stroke="#444" stroke-width="0.7" stroke-dasharray="1.1,1.1"/>
<line x1="100.20" y1="293.9" x2="100.20" y2="306.4" stroke="#5050ff" stroke-width="1.5" stroke-opacity="0.75"/>
<line x1="109.05" y1="285.5" x2="109.05" y2="303" stroke="#5050ff" stroke-width="1.5" stroke-opacity="0.75"/>
<line x1="117.90" y1="279" x2="117.90" y2="297.3" stroke="#5050ff" stroke-width="1.5" stroke-opacity="0.75"/>
<line x1="135.60" y1="276.2" x2="135.60" y2="303" stroke="#5050ff" stroke-width="1.5" stroke-opacity="0.75"/>
<line x1="153.30" y1="280.3" x2="153.30" y2="304.1" stroke="#5050ff" stroke-width="1.5" stroke-opacity="0.75"/>
<polyline points="100.20,299.90 109.05,296.00 117.90,288.20 135.60,289.60 153.30,292.10" fill="none" stroke="#2828ee" stroke-width="1.1" stroke-opacity="1" stroke-linejoin="round" />
<circle cx="100.20" cy="299.9" r="2.25" fill="#0000f0"/>
<circle cx="109.05" cy="296" r="2.25" fill="#0000f0"/>
<circle cx="117.90" cy="288.2" r="2.25" fill="#0000f0"/>
<circle cx="135.60" cy="289.6" r="2.25" fill="#0000f0"/>
<circle cx="153.30" cy="292.1" r="2.25" fill="#0000f0"/>
<rect x="97.7" y="250.8" width="58.499999999999986" height="59.30000000000001" fill="none" stroke="#8c8c8c" stroke-width="0.7"/>
<line x1="109.05" y1="310.1" x2="109.05" y2="311.90000000000003" stroke="#333" stroke-width="0.5"/>
<line x1="126.75" y1="310.1" x2="126.75" y2="311.90000000000003" stroke="#333" stroke-width="0.5"/>
<line x1="144.45" y1="310.1" x2="144.45" y2="311.90000000000003" stroke="#333" stroke-width="0.5"/>
<rect x="97.4" y="236.5" width="59.09999999999999" height="14.300000000000011" fill="#000"/>
<text x="126.95" y="246.70" font-family="Liberation Serif, serif" font-size="9.6" fill="#fff" stroke="#fff" stroke-width="0.18" text-anchor="middle" letter-spacing="0.05">Cisplatin</text>
<rect x="97.7" y="315.4" width="58.499999999999986" height="59.0" fill="#fff"/>
<line x1="100.20" y1="315.4" x2="100.20" y2="374.4" stroke="#f1f1f1" stroke-width="0.5"/>
<line x1="117.90" y1="315.4" x2="117.90" y2="374.4" stroke="#f1f1f1" stroke-width="0.5"/>
<line x1="135.60" y1="315.4" x2="135.60" y2="374.4" stroke="#f1f1f1" stroke-width="0.5"/>
<line x1="153.30" y1="315.4" x2="153.30" y2="374.4" stroke="#f1f1f1" stroke-width="0.5"/>
<line x1="97.7" y1="367.93" x2="156.2" y2="367.93" stroke="#f1f1f1" stroke-width="0.5"/>
<line x1="97.7" y1="353.67" x2="156.2" y2="353.67" stroke="#f1f1f1" stroke-width="0.5"/>
<line x1="97.7" y1="339.41" x2="156.2" y2="339.41" stroke="#f1f1f1" stroke-width="0.5"/>
<line x1="97.7" y1="325.15" x2="156.2" y2="325.15" stroke="#f1f1f1" stroke-width="0.5"/>
<line x1="97.7" y1="310.89" x2="156.2" y2="310.89" stroke="#f1f1f1" stroke-width="0.5"/>
<line x1="109.05" y1="315.4" x2="109.05" y2="374.4" stroke="#e2e2e2" stroke-width="0.6"/>
<line x1="126.75" y1="315.4" x2="126.75" y2="374.4" stroke="#e2e2e2" stroke-width="0.6"/>
<line x1="144.45" y1="315.4" x2="144.45" y2="374.4" stroke="#e2e2e2" stroke-width="0.6"/>
<line x1="97.7" y1="360.80" x2="156.2" y2="360.80" stroke="#e2e2e2" stroke-width="0.6"/>
<line x1="97.7" y1="346.54" x2="156.2" y2="346.54" stroke="#e2e2e2" stroke-width="0.6"/>
<line x1="97.7" y1="332.28" x2="156.2" y2="332.28" stroke="#e2e2e2" stroke-width="0.6"/>
<line x1="97.7" y1="318.02" x2="156.2" y2="318.02" stroke="#e2e2e2" stroke-width="0.6"/>
<line x1="97.7" y1="346.54" x2="156.2" y2="346.54" stroke="#444" stroke-width="0.7" stroke-dasharray="1.1,1.1"/>
<polyline points="100.20,364.37 109.05,357.24 117.90,346.54 135.60,335.85 153.30,332.28" fill="none" stroke="#a8c83c" stroke-width="0.8" stroke-opacity="0.95" stroke-linejoin="round" />
<polyline points="100.20,362.94 109.05,355.10 117.90,342.26 135.60,339.41 153.30,346.54" fill="none" stroke="#b8b040" stroke-width="0.8" stroke-opacity="0.95" stroke-linejoin="round" />
<polyline points="100.20,360.80 109.05,339.41 117.90,367.93 135.60,365.79 153.30,366.50" fill="none" stroke="#f0a878" stroke-width="0.8" stroke-opacity="0.95" stroke-linejoin="round" />
<polyline points="100.20,355.10 109.05,366.50 117.90,341.55 135.60,360.80 153.30,360.80" fill="none" stroke="#80c040" stroke-width="0.8" stroke-opacity="0.95" stroke-linejoin="round" />
<polyline points="100.20,367.93 109.05,360.80 117.90,347.97 135.60,353.67 153.30,359.37" fill="none" stroke="#c8b050" stroke-width="0.8" stroke-opacity="0.95" stroke-linejoin="round" />
<polyline points="100.20,369.36 109.05,364.37 117.90,367.93 135.60,367.93 153.30,368.64" fill="none" stroke="#f4a080" stroke-width="0.8" stroke-opacity="0.95" stroke-linejoin="round" />
<polyline points="100.20,359.37 109.05,367.93 117.90,345.11 135.60,362.23 153.30,363.65" fill="none" stroke="#98c850" stroke-width="0.8" stroke-opacity="0.95" stroke-linejoin="round" />
<polyline points="100.20,365.79 109.05,356.52 117.90,357.95 135.60,359.37 153.30,360.09" fill="none" stroke="#d8b068" stroke-width="0.8" stroke-opacity="0.95" stroke-linejoin="round" />
<rect x="97.7" y="315.4" width="58.499999999999986" height="59.0" fill="none" stroke="#8c8c8c" stroke-width="0.7"/>
<rect x="97.4" y="314.9" width="59.09999999999999" height="1.4" fill="#555"/>
<line x1="109.05" y1="374.4" x2="109.05" y2="376.2" stroke="#333" stroke-width="0.5"/>
<line x1="126.75" y1="374.4" x2="126.75" y2="376.2" stroke="#333" stroke-width="0.5"/>
<line x1="144.45" y1="374.4" x2="144.45" y2="376.2" stroke="#333" stroke-width="0.5"/>
<text transform="translate(103.20 376.9) rotate(-90)" font-family="Liberation Sans, sans-serif" font-size="8.3" fill="#222" stroke="#222" stroke-width="0.12" text-anchor="end">Day 3</text>
<text transform="translate(111.30 376.9) rotate(-90)" font-family="Liberation Sans, sans-serif" font-size="8.3" fill="#222" stroke="#222" stroke-width="0.12" text-anchor="end">Day 4</text>
<text transform="translate(120.80 376.9) rotate(-90)" font-family="Liberation Sans, sans-serif" font-size="8.3" fill="#222" stroke="#222" stroke-width="0.12" text-anchor="end">Day 5</text>
<text transform="translate(137.40 376.9) rotate(-90)" font-family="Liberation Sans, sans-serif" font-size="8.3" fill="#222" stroke="#222" stroke-width="0.12" text-anchor="end">Day 7</text>
<text transform="translate(153.00 376.9) rotate(-90)" font-family="Liberation Sans, sans-serif" font-size="8.3" fill="#222" stroke="#222" stroke-width="0.12" text-anchor="end">Day 7 fixed</text>
<rect x="159.5" y="250.8" width="58.5" height="59.30000000000001" fill="#fff"/>
<line x1="162.00" y1="250.8" x2="162.00" y2="310.1" stroke="#f1f1f1" stroke-width="0.5"/>
<line x1="179.70" y1="250.8" x2="179.70" y2="310.1" stroke="#f1f1f1" stroke-width="0.5"/>
<line x1="197.40" y1="250.8" x2="197.40" y2="310.1" stroke="#f1f1f1" stroke-width="0.5"/>
<line x1="215.10" y1="250.8" x2="215.10" y2="310.1" stroke="#f1f1f1" stroke-width="0.5"/>
<line x1="159.5" y1="303.90" x2="218.0" y2="303.90" stroke="#f1f1f1" stroke-width="0.5"/>
<line x1="159.5" y1="289.50" x2="218.0" y2="289.50" stroke="#f1f1f1" stroke-width="0.5"/>
<line x1="159.5" y1="275.10" x2="218.0" y2="275.10" stroke="#f1f1f1" stroke-width="0.5"/>
<line x1="159.5" y1="260.70" x2="218.0" y2="260.70" stroke="#f1f1f1" stroke-width="0.5"/>
<line x1="159.5" y1="246.30" x2="218.0" y2="246.30" stroke="#f1f1f1" stroke-width="0.5"/>
<line x1="170.85" y1="250.8" x2="170.85" y2="310.1" stroke="#e2e2e2" stroke-width="0.6"/>
<line x1="188.55" y1="250.8" x2="188.55" y2="310.1" stroke="#e2e2e2" stroke-width="0.6"/>
<line x1="206.25" y1="250.8" x2="206.25" y2="310.1" stroke="#e2e2e2" stroke-width="0.6"/>
<line x1="159.5" y1="296.70" x2="218.0" y2="296.70" stroke="#e2e2e2" stroke-width="0.6"/>
<line x1="159.5" y1="282.30" x2="218.0" y2="282.30" stroke="#e2e2e2" stroke-width="0.6"/>
<line x1="159.5" y1="267.90" x2="218.0" y2="267.90" stroke="#e2e2e2" stroke-width="0.6"/>
<line x1="159.5" y1="253.50" x2="218.0" y2="253.50" stroke="#e2e2e2" stroke-width="0.6"/>
<line x1="159.5" y1="282.30" x2="218.0" y2="282.30" stroke="#444" stroke-width="0.7" stroke-dasharray="1.1,1.1"/>
<line x1="162.00" y1="292.8" x2="162.00" y2="304.1" stroke="#f05050" stroke-width="1.5" stroke-opacity="0.75"/>
<line x1="170.85" y1="293.5" x2="170.85" y2="307" stroke="#f05050" stroke-width="1.5" stroke-opacity="0.75"/>
<line x1="179.70" y1="284.8" x2="179.70" y2="301.9" stroke="#f05050" stroke-width="1.5" stroke-opacity="0.75"/>
<line x1="197.40" y1="284.5" x2="197.40" y2="299.5" stroke="#f05050" stroke-width="1.5" stroke-opacity="0.75"/>
<line x1="215.10" y1="279.8" x2="215.10" y2="299.1" stroke="#f05050" stroke-width="1.5" stroke-opacity="0.75"/>
<polyline points="162.00,299.10 170.85,300.30 179.70,293.20 197.40,292.30 215.10,289.70" fill="none" stroke="#ee3030" stroke-width="1.1" stroke-opacity="1" stroke-linejoin="round" />
<circle cx="162.00" cy="299.1" r="2.25" fill="#f01010"/>
<circle cx="170.85" cy="300.3" r="2.25" fill="#f01010"/>
<circle cx="179.70" cy="293.2" r="2.25" fill="#f01010"/>
<circle cx="197.40" cy="292.3" r="2.25" fill="#f01010"/>
<circle cx="215.10" cy="289.7" r="2.25" fill="#f01010"/>
<rect x="159.5" y="250.8" width="58.5" height="59.30000000000001" fill="none" stroke="#8c8c8c" stroke-width="0.7"/>
<line x1="170.85" y1="310.1" x2="170.85" y2="311.90000000000003" stroke="#333" stroke-width="0.5"/>
<line x1="188.55" y1="310.1" x2="188.55" y2="311.90000000000003" stroke="#333" stroke-width="0.5"/>
<line x1="206.25" y1="310.1" x2="206.25" y2="311.90000000000003" stroke="#333" stroke-width="0.5"/>
<rect x="159.2" y="236.5" width="59.1" height="14.300000000000011" fill="#000"/>
<text x="188.75" y="246.70" font-family="Liberation Serif, serif" font-size="9.6" fill="#fff" stroke="#fff" stroke-width="0.18" text-anchor="middle" letter-spacing="0.25">Vinblastine</text>
<rect x="159.5" y="315.4" width="58.5" height="59.0" fill="#fff"/>
<line x1="162.00" y1="315.4" x2="162.00" y2="374.4" stroke="#f1f1f1" stroke-width="0.5"/>
<line x1="179.70" y1="315.4" x2="179.70" y2="374.4" stroke="#f1f1f1" stroke-width="0.5"/>
<line x1="197.40" y1="315.4" x2="197.40" y2="374.4" stroke="#f1f1f1" stroke-width="0.5"/>
<line x1="215.10" y1="315.4" x2="215.10" y2="374.4" stroke="#f1f1f1" stroke-width="0.5"/>
<line x1="159.5" y1="367.93" x2="218.0" y2="367.93" stroke="#f1f1f1" stroke-width="0.5"/>
<line x1="159.5" y1="353.67" x2="218.0" y2="353.67" stroke="#f1f1f1" stroke-width="0.5"/>
<line x1="159.5" y1="339.41" x2="218.0" y2="339.41" stroke="#f1f1f1" stroke-width="0.5"/>
<line x1="159.5" y1="325.15" x2="218.0" y2="325.15" stroke="#f1f1f1" stroke-width="0.5"/>
<line x1="159.5" y1="310.89" x2="218.0" y2="310.89" stroke="#f1f1f1" stroke-width="0.5"/>
<line x1="170.85" y1="315.4" x2="170.85" y2="374.4" stroke="#e2e2e2" stroke-width="0.6"/>
<line x1="188.55" y1="315.4" x2="188.55" y2="374.4" stroke="#e2e2e2" stroke-width="0.6"/>
<line x1="206.25" y1="315.4" x2="206.25" y2="374.4" stroke="#e2e2e2" stroke-width="0.6"/>
<line x1="159.5" y1="360.80" x2="218.0" y2="360.80" stroke="#e2e2e2" stroke-width="0.6"/>
<line x1="159.5" y1="346.54" x2="218.0" y2="346.54" stroke="#e2e2e2" stroke-width="0.6"/>
<line x1="159.5" y1="332.28" x2="218.0" y2="332.28" stroke="#e2e2e2" stroke-width="0.6"/>
<line x1="159.5" y1="318.02" x2="218.0" y2="318.02" stroke="#e2e2e2" stroke-width="0.6"/>
<line x1="159.5" y1="346.54" x2="218.0" y2="346.54" stroke="#444" stroke-width="0.7" stroke-dasharray="1.1,1.1"/>
<polyline points="162.00,360.80 170.85,366.50 179.70,343.69 197.40,353.67 215.10,337.98" fill="none" stroke="#f070c0" stroke-width="0.8" stroke-opacity="0.95" stroke-linejoin="round" />
<polyline points="162.00,364.37 170.85,347.97 179.70,343.69 197.40,357.24 215.10,364.37" fill="none" stroke="#e850b0" stroke-width="0.8" stroke-opacity="0.95" stroke-linejoin="round" />
<polyline points="162.00,352.24 170.85,367.93 179.70,356.52 197.40,357.95 215.10,359.37" fill="none" stroke="#c0a0f0" stroke-width="0.8" stroke-opacity="0.95" stroke-linejoin="round" />
<polyline points="162.00,369.36 170.85,362.94 179.70,359.37 197.40,335.85 215.10,336.56" fill="none" stroke="#f48ccc" stroke-width="0.8" stroke-opacity="0.95" stroke-linejoin="round" />
<polyline points="162.00,366.50 170.85,367.93 179.70,357.95 197.40,349.39 215.10,360.80" fill="none" stroke="#d070e0" stroke-width="0.8" stroke-opacity="0.95" stroke-linejoin="round" />
<polyline points="162.00,369.36 170.85,366.50 179.70,367.22 197.40,366.50 215.10,359.37" fill="none" stroke="#b890f0" stroke-width="0.8" stroke-opacity="0.95" stroke-linejoin="round" />
<polyline points="162.00,357.24 170.85,363.65 179.70,350.82 197.40,359.37 215.10,346.54" fill="none" stroke="#f2a0d0" stroke-width="0.8" stroke-opacity="0.95" stroke-linejoin="round" />
<polyline points="162.00,367.93 170.85,360.80 179.70,370.07 197.40,362.23 215.10,357.24" fill="none" stroke="#f06898" stroke-width="0.8" stroke-opacity="0.95" stroke-linejoin="round" />
<rect x="159.5" y="315.4" width="58.5" height="59.0" fill="none" stroke="#8c8c8c" stroke-width="0.7"/>
<rect x="159.2" y="314.9" width="59.1" height="1.4" fill="#555"/>
<line x1="170.85" y1="374.4" x2="170.85" y2="376.2" stroke="#333" stroke-width="0.5"/>
<line x1="188.55" y1="374.4" x2="188.55" y2="376.2" stroke="#333" stroke-width="0.5"/>
<line x1="206.25" y1="374.4" x2="206.25" y2="376.2" stroke="#333" stroke-width="0.5"/>
<text transform="translate(165.00 376.9) rotate(-90)" font-family="Liberation Sans, sans-serif" font-size="8.3" fill="#222" stroke="#222" stroke-width="0.12" text-anchor="end">Day 3</text>
<text transform="translate(173.10 376.9) rotate(-90)" font-family="Liberation Sans, sans-serif" font-size="8.3" fill="#222" stroke="#222" stroke-width="0.12" text-anchor="end">Day 4</text>
<text transform="translate(182.60 376.9) rotate(-90)" font-family="Liberation Sans, sans-serif" font-size="8.3" fill="#222" stroke="#222" stroke-width="0.12" text-anchor="end">Day 5</text>
<text transform="translate(199.20 376.9) rotate(-90)" font-family="Liberation Sans, sans-serif" font-size="8.3" fill="#222" stroke="#222" stroke-width="0.12" text-anchor="end">Day 7</text>
<text transform="translate(214.80 376.9) rotate(-90)" font-family="Liberation Sans, sans-serif" font-size="8.3" fill="#222" stroke="#222" stroke-width="0.12" text-anchor="end">Day 7 fixed</text>
<text x="33.4" y="299.10" font-family="Liberation Sans, sans-serif" font-size="6.8" fill="#333" stroke="#333" stroke-width="0.22" text-anchor="end">2000</text>
<line x1="34" y1="296.70" x2="36" y2="296.70" stroke="#333" stroke-width="0.5"/>
<text x="33.4" y="284.70" font-family="Liberation Sans, sans-serif" font-size="6.8" fill="#333" stroke="#333" stroke-width="0.22" text-anchor="end">4000</text>
<line x1="34" y1="282.30" x2="36" y2="282.30" stroke="#333" stroke-width="0.5"/>
<text x="33.4" y="270.30" font-family="Liberation Sans, sans-serif" font-size="6.8" fill="#333" stroke="#333" stroke-width="0.22" text-anchor="end">6000</text>
<line x1="34" y1="267.90" x2="36" y2="267.90" stroke="#333" stroke-width="0.5"/>
<text x="33.4" y="255.90" font-family="Liberation Sans, sans-serif" font-size="6.8" fill="#333" stroke="#333" stroke-width="0.22" text-anchor="end">8000</text>
<line x1="34" y1="253.50" x2="36" y2="253.50" stroke="#333" stroke-width="0.5"/>
<text x="33.4" y="363.20" font-family="Liberation Sans, sans-serif" font-size="6.8" fill="#333" stroke="#333" stroke-width="0.22" text-anchor="end">2000</text>
<line x1="34" y1="360.80" x2="36" y2="360.80" stroke="#333" stroke-width="0.5"/>
<text x="33.4" y="348.94" font-family="Liberation Sans, sans-serif" font-size="6.8" fill="#333" stroke="#333" stroke-width="0.22" text-anchor="end">4000</text>
<line x1="34" y1="346.54" x2="36" y2="346.54" stroke="#333" stroke-width="0.5"/>
<text x="33.4" y="334.68" font-family="Liberation Sans, sans-serif" font-size="6.8" fill="#333" stroke="#333" stroke-width="0.22" text-anchor="end">6000</text>
<line x1="34" y1="332.28" x2="36" y2="332.28" stroke="#333" stroke-width="0.5"/>
<text x="33.4" y="320.42" font-family="Liberation Sans, sans-serif" font-size="6.8" fill="#333" stroke="#333" stroke-width="0.22" text-anchor="end">8000</text>
<line x1="34" y1="318.02" x2="36" y2="318.02" stroke="#333" stroke-width="0.5"/>
<text x="230.8" y="227.7" font-family="Liberation Serif, serif" font-weight="bold" font-size="9" letter-spacing="0.5">(c)</text>
<text x="257.3" y="229.5" font-family="Liberation Serif, serif" font-size="11.4" fill="#111" stroke="#111" stroke-width="0.2">Fraction of BF Intensity at Distance 2</text>
<text transform="translate(235.6 316.3) rotate(-90)" font-family="Liberation Sans, sans-serif" font-size="8.3" fill="#222" stroke="#222" stroke-width="0.12" text-anchor="middle">Fraction of BF Intensity at Distance 2</text>
<rect x="254" y="250.8" width="59" height="59.30000000000001" fill="#fff"/>
<line x1="256.40" y1="250.8" x2="256.40" y2="310.1" stroke="#f1f1f1" stroke-width="0.5"/>
<line x1="274.40" y1="250.8" x2="274.40" y2="310.1" stroke="#f1f1f1" stroke-width="0.5"/>
<line x1="292.40" y1="250.8" x2="292.40" y2="310.1" stroke="#f1f1f1" stroke-width="0.5"/>
<line x1="310.40" y1="250.8" x2="310.40" y2="310.1" stroke="#f1f1f1" stroke-width="0.5"/>
<line x1="254" y1="296.93" x2="313" y2="296.93" stroke="#f1f1f1" stroke-width="0.5"/>
<line x1="254" y1="279.60" x2="313" y2="279.60" stroke="#f1f1f1" stroke-width="0.5"/>
<line x1="254" y1="262.27" x2="313" y2="262.27" stroke="#f1f1f1" stroke-width="0.5"/>
<line x1="265.40" y1="250.8" x2="265.40" y2="310.1" stroke="#e2e2e2" stroke-width="0.6"/>
<line x1="283.40" y1="250.8" x2="283.40" y2="310.1" stroke="#e2e2e2" stroke-width="0.6"/>
<line x1="301.40" y1="250.8" x2="301.40" y2="310.1" stroke="#e2e2e2" stroke-width="0.6"/>
<line x1="254" y1="305.60" x2="313" y2="305.60" stroke="#e2e2e2" stroke-width="0.6"/>
<line x1="254" y1="288.26" x2="313" y2="288.26" stroke="#e2e2e2" stroke-width="0.6"/>
<line x1="254" y1="270.93" x2="313" y2="270.93" stroke="#e2e2e2" stroke-width="0.6"/>
<line x1="254" y1="253.60" x2="313" y2="253.60" stroke="#e2e2e2" stroke-width="0.6"/>
<line x1="254" y1="285.49" x2="313" y2="285.49" stroke="#444" stroke-width="0.7" stroke-dasharray="1.1,1.1"/>
<line x1="256.40" y1="258" x2="256.40" y2="270" stroke="#4a994a" stroke-width="1.5" stroke-opacity="0.75"/>
<line x1="265.40" y1="261" x2="265.40" y2="277" stroke="#4a994a" stroke-width="1.5" stroke-opacity="0.75"/>
<line x1="274.40" y1="264.4" x2="274.40" y2="279.6" stroke="#4a994a" stroke-width="1.5" stroke-opacity="0.75"/>
<line x1="292.40" y1="279" x2="292.40" y2="294" stroke="#4a994a" stroke-width="1.5" stroke-opacity="0.75"/>
<line x1="310.40" y1="283" x2="310.40" y2="294.4" stroke="#4a994a" stroke-width="1.5" stroke-opacity="0.75"/>
<polyline points="256.40,264.00 265.40,269.20 274.40,272.00 292.40,286.60 310.40,288.60" fill="none" stroke="#2f7f2f" stroke-width="1.1" stroke-opacity="1" stroke-linejoin="round" />
<circle cx="256.40" cy="264" r="2.25" fill="#176e17"/>
<circle cx="265.40" cy="269.2" r="2.25" fill="#176e17"/>
<circle cx="274.40" cy="272" r="2.25" fill="#176e17"/>
<circle cx="292.40" cy="286.6" r="2.25" fill="#176e17"/>
<circle cx="310.40" cy="288.6" r="2.25" fill="#176e17"/>
<rect x="254" y="250.8" width="59" height="59.30000000000001" fill="none" stroke="#8c8c8c" stroke-width="0.7"/>
<line x1="265.40" y1="310.1" x2="265.40" y2="311.90000000000003" stroke="#333" stroke-width="0.5"/>
<line x1="283.40" y1="310.1" x2="283.40" y2="311.90000000000003" stroke="#333" stroke-width="0.5"/>
<line x1="301.40" y1="310.1" x2="301.40" y2="311.90000000000003" stroke="#333" stroke-width="0.5"/>
<rect x="253.7" y="236.5" width="59.6" height="14.300000000000011" fill="#000"/>
<text x="283.50" y="246.70" font-family="Liberation Serif, serif" font-size="9.6" fill="#fff" stroke="#fff" stroke-width="0.18" text-anchor="middle" letter-spacing="0.2">Vehicle</text>
<rect x="254" y="315.4" width="59" height="59.0" fill="#fff"/>
<line x1="256.40" y1="315.4" x2="256.40" y2="374.4" stroke="#f1f1f1" stroke-width="0.5"/>
<line x1="274.40" y1="315.4" x2="274.40" y2="374.4" stroke="#f1f1f1" stroke-width="0.5"/>
<line x1="292.40" y1="315.4" x2="292.40" y2="374.4" stroke="#f1f1f1" stroke-width="0.5"/>
<line x1="310.40" y1="315.4" x2="310.40" y2="374.4" stroke="#f1f1f1" stroke-width="0.5"/>
<line x1="254" y1="361.90" x2="313" y2="361.90" stroke="#f1f1f1" stroke-width="0.5"/>
<line x1="254" y1="344.78" x2="313" y2="344.78" stroke="#f1f1f1" stroke-width="0.5"/>
<line x1="254" y1="327.66" x2="313" y2="327.66" stroke="#f1f1f1" stroke-width="0.5"/>
<line x1="265.40" y1="315.4" x2="265.40" y2="374.4" stroke="#e2e2e2" stroke-width="0.6"/>
<line x1="283.40" y1="315.4" x2="283.40" y2="374.4" stroke="#e2e2e2" stroke-width="0.6"/>
<line x1="301.40" y1="315.4" x2="301.40" y2="374.4" stroke="#e2e2e2" stroke-width="0.6"/>
<line x1="254" y1="370.46" x2="313" y2="370.46" stroke="#e2e2e2" stroke-width="0.6"/>
<line x1="254" y1="353.34" x2="313" y2="353.34" stroke="#e2e2e2" stroke-width="0.6"/>
<line x1="254" y1="336.22" x2="313" y2="336.22" stroke="#e2e2e2" stroke-width="0.6"/>
<line x1="254" y1="319.10" x2="313" y2="319.10" stroke="#e2e2e2" stroke-width="0.6"/>
<line x1="254" y1="351.20" x2="313" y2="351.20" stroke="#444" stroke-width="0.7" stroke-dasharray="1.1,1.1"/>
<polyline points="256.40,323.38 265.40,331.94 274.40,336.22 292.40,349.06 310.40,353.34" fill="none" stroke="#3cc8e0" stroke-width="0.8" stroke-opacity="0.95" stroke-linejoin="round" />
<polyline points="256.40,325.52 265.40,334.08 274.40,323.38 292.40,353.34 310.40,361.90" fill="none" stroke="#2ec4a8" stroke-width="0.8" stroke-opacity="0.95" stroke-linejoin="round" />
<polyline points="256.40,327.66 265.40,329.80 274.40,340.50 292.40,344.78 310.40,349.06" fill="none" stroke="#f07ac0" stroke-width="0.8" stroke-opacity="0.95" stroke-linejoin="round" />
<polyline points="256.40,336.22 265.40,357.62 274.40,340.50 292.40,366.18 310.40,370.46" fill="none" stroke="#40b8e8" stroke-width="0.8" stroke-opacity="0.95" stroke-linejoin="round" />
<polyline points="256.40,334.08 265.40,338.36 274.40,355.48 292.40,366.18 310.40,361.90" fill="none" stroke="#4dbb4d" stroke-width="0.8" stroke-opacity="0.95" stroke-linejoin="round" />
<polyline points="256.40,329.80 265.40,336.22 274.40,342.64 292.40,342.64 310.40,351.20" fill="none" stroke="#b080f0" stroke-width="0.8" stroke-opacity="0.95" stroke-linejoin="round" />
<polyline points="256.40,323.38 265.40,331.94 274.40,338.36 292.40,353.34 310.40,355.48" fill="none" stroke="#e860c0" stroke-width="0.8" stroke-opacity="0.95" stroke-linejoin="round" />
<polyline points="256.40,344.78 265.40,327.66 274.40,331.94 292.40,349.06 310.40,353.34" fill="none" stroke="#c090e8" stroke-width="0.8" stroke-opacity="0.95" stroke-linejoin="round" />
<polyline points="256.40,327.66 265.40,353.34 274.40,327.66 292.40,353.34 310.40,357.62" fill="none" stroke="#50a8e8" stroke-width="0.8" stroke-opacity="0.95" stroke-linejoin="round" />
<polyline points="256.40,331.94 265.40,336.22 274.40,346.92 292.40,361.90 310.40,351.20" fill="none" stroke="#f59ad0" stroke-width="0.8" stroke-opacity="0.95" stroke-linejoin="round" />
<polyline points="256.40,336.22 265.40,334.08 274.40,340.50 292.40,353.34 310.40,349.06" fill="none" stroke="#38c0a0" stroke-width="0.8" stroke-opacity="0.95" stroke-linejoin="round" />
<polyline points="256.40,324.24 265.40,332.80 274.40,336.22 292.40,346.92 310.40,354.20" fill="none" stroke="#5090f0" stroke-width="0.8" stroke-opacity="0.95" stroke-linejoin="round" />
<polyline points="256.40,331.08 265.40,341.36 274.40,337.08 292.40,364.04 310.40,359.76" fill="none" stroke="#55c878" stroke-width="0.8" stroke-opacity="0.95" stroke-linejoin="round" />
<polyline points="256.40,326.80 265.40,331.08 274.40,335.36 292.40,349.92 310.40,352.48" fill="none" stroke="#a070f0" stroke-width="0.8" stroke-opacity="0.95" stroke-linejoin="round" />
<rect x="254" y="315.4" width="59" height="59.0" fill="none" stroke="#8c8c8c" stroke-width="0.7"/>
<rect x="253.7" y="314.9" width="59.6" height="1.4" fill="#555"/>
<line x1="265.40" y1="374.4" x2="265.40" y2="376.2" stroke="#333" stroke-width="0.5"/>
<line x1="283.40" y1="374.4" x2="283.40" y2="376.2" stroke="#333" stroke-width="0.5"/>
<line x1="301.40" y1="374.4" x2="301.40" y2="376.2" stroke="#333" stroke-width="0.5"/>
<text transform="translate(259.10 376.9) rotate(-90)" font-family="Liberation Sans, sans-serif" font-size="8.3" fill="#222" stroke="#222" stroke-width="0.12" text-anchor="end">Day 3</text>
<text transform="translate(267.50 376.9) rotate(-90)" font-family="Liberation Sans, sans-serif" font-size="8.3" fill="#222" stroke="#222" stroke-width="0.12" text-anchor="end">Day 4</text>
<text transform="translate(277.60 376.9) rotate(-90)" font-family="Liberation Sans, sans-serif" font-size="8.3" fill="#222" stroke="#222" stroke-width="0.12" text-anchor="end">Day 5</text>
<text transform="translate(294.30 376.9) rotate(-90)" font-family="Liberation Sans, sans-serif" font-size="8.3" fill="#222" stroke="#222" stroke-width="0.12" text-anchor="end">Day 7</text>
<text transform="translate(309.00 376.9) rotate(-90)" font-family="Liberation Sans, sans-serif" font-size="8.3" fill="#222" stroke="#222" stroke-width="0.12" text-anchor="end">Day 7 fixed</text>
<rect x="316.6" y="250.8" width="59.0" height="59.30000000000001" fill="#fff"/>
<line x1="319.00" y1="250.8" x2="319.00" y2="310.1" stroke="#f1f1f1" stroke-width="0.5"/>
<line x1="337.00" y1="250.8" x2="337.00" y2="310.1" stroke="#f1f1f1" stroke-width="0.5"/>
<line x1="355.00" y1="250.8" x2="355.00" y2="310.1" stroke="#f1f1f1" stroke-width="0.5"/>
<line x1="373.00" y1="250.8" x2="373.00" y2="310.1" stroke="#f1f1f1" stroke-width="0.5"/>
<line x1="316.6" y1="296.93" x2="375.6" y2="296.93" stroke="#f1f1f1" stroke-width="0.5"/>
<line x1="316.6" y1="279.60" x2="375.6" y2="279.60" stroke="#f1f1f1" stroke-width="0.5"/>
<line x1="316.6" y1="262.27" x2="375.6" y2="262.27" stroke="#f1f1f1" stroke-width="0.5"/>
<line x1="328.00" y1="250.8" x2="328.00" y2="310.1" stroke="#e2e2e2" stroke-width="0.6"/>
<line x1="346.00" y1="250.8" x2="346.00" y2="310.1" stroke="#e2e2e2" stroke-width="0.6"/>
<line x1="364.00" y1="250.8" x2="364.00" y2="310.1" stroke="#e2e2e2" stroke-width="0.6"/>
<line x1="316.6" y1="305.60" x2="375.6" y2="305.60" stroke="#e2e2e2" stroke-width="0.6"/>
<line x1="316.6" y1="288.26" x2="375.6" y2="288.26" stroke="#e2e2e2" stroke-width="0.6"/>
<line x1="316.6" y1="270.93" x2="375.6" y2="270.93" stroke="#e2e2e2" stroke-width="0.6"/>
<line x1="316.6" y1="253.60" x2="375.6" y2="253.60" stroke="#e2e2e2" stroke-width="0.6"/>
<line x1="316.6" y1="285.49" x2="375.6" y2="285.49" stroke="#444" stroke-width="0.7" stroke-dasharray="1.1,1.1"/>
<line x1="319.00" y1="255" x2="319.00" y2="275.6" stroke="#5050ff" stroke-width="1.5" stroke-opacity="0.75"/>
<line x1="328.00" y1="263" x2="328.00" y2="273" stroke="#5050ff" stroke-width="1.5" stroke-opacity="0.75"/>
<line x1="337.00" y1="271" x2="337.00" y2="279.4" stroke="#5050ff" stroke-width="1.5" stroke-opacity="0.75"/>
<line x1="355.00" y1="286.5" x2="355.00" y2="290" stroke="#5050ff" stroke-width="1.5" stroke-opacity="0.75"/>
<line x1="373.00" y1="285" x2="373.00" y2="292" stroke="#5050ff" stroke-width="1.5" stroke-opacity="0.75"/>
<polyline points="319.00,265.40 328.00,268.00 337.00,275.40 355.00,288.20 373.00,288.60" fill="none" stroke="#2828ee" stroke-width="1.1" stroke-opacity="1" stroke-linejoin="round" />
<circle cx="319.00" cy="265.4" r="2.25" fill="#0000f0"/>
<circle cx="328.00" cy="268" r="2.25" fill="#0000f0"/>
<circle cx="337.00" cy="275.4" r="2.25" fill="#0000f0"/>
<circle cx="355.00" cy="288.2" r="2.25" fill="#0000f0"/>
<circle cx="373.00" cy="288.6" r="2.25" fill="#0000f0"/>
<rect x="316.6" y="250.8" width="59.0" height="59.30000000000001" fill="none" stroke="#8c8c8c" stroke-width="0.7"/>
<line x1="328.00" y1="310.1" x2="328.00" y2="311.90000000000003" stroke="#333" stroke-width="0.5"/>
<line x1="346.00" y1="310.1" x2="346.00" y2="311.90000000000003" stroke="#333" stroke-width="0.5"/>
<line x1="364.00" y1="310.1" x2="364.00" y2="311.90000000000003" stroke="#333" stroke-width="0.5"/>
<rect x="316.3" y="236.5" width="59.6" height="14.300000000000011" fill="#000"/>
<text x="346.10" y="246.70" font-family="Liberation Serif, serif" font-size="9.6" fill="#fff" stroke="#fff" stroke-width="0.18" text-anchor="middle" letter-spacing="0.05">Cisplatin</text>
<rect x="316.6" y="315.4" width="59.0" height="59.0" fill="#fff"/>
<line x1="319.00" y1="315.4" x2="319.00" y2="374.4" stroke="#f1f1f1" stroke-width="0.5"/>
<line x1="337.00" y1="315.4" x2="337.00" y2="374.4" stroke="#f1f1f1" stroke-width="0.5"/>
<line x1="355.00" y1="315.4" x2="355.00" y2="374.4" stroke="#f1f1f1" stroke-width="0.5"/>
<line x1="373.00" y1="315.4" x2="373.00" y2="374.4" stroke="#f1f1f1" stroke-width="0.5"/>
<line x1="316.6" y1="361.90" x2="375.6" y2="361.90" stroke="#f1f1f1" stroke-width="0.5"/>
<line x1="316.6" y1="344.78" x2="375.6" y2="344.78" stroke="#f1f1f1" stroke-width="0.5"/>
<line x1="316.6" y1="327.66" x2="375.6" y2="327.66" stroke="#f1f1f1" stroke-width="0.5"/>
<line x1="328.00" y1="315.4" x2="328.00" y2="374.4" stroke="#e2e2e2" stroke-width="0.6"/>
<line x1="346.00" y1="315.4" x2="346.00" y2="374.4" stroke="#e2e2e2" stroke-width="0.6"/>
<line x1="364.00" y1="315.4" x2="364.00" y2="374.4" stroke="#e2e2e2" stroke-width="0.6"/>
<line x1="316.6" y1="370.46" x2="375.6" y2="370.46" stroke="#e2e2e2" stroke-width="0.6"/>
<line x1="316.6" y1="353.34" x2="375.6" y2="353.34" stroke="#e2e2e2" stroke-width="0.6"/>
<line x1="316.6" y1="336.22" x2="375.6" y2="336.22" stroke="#e2e2e2" stroke-width="0.6"/>
<line x1="316.6" y1="319.10" x2="375.6" y2="319.10" stroke="#e2e2e2" stroke-width="0.6"/>
<line x1="316.6" y1="351.20" x2="375.6" y2="351.20" stroke="#444" stroke-width="0.7" stroke-dasharray="1.1,1.1"/>
<polyline points="319.00,323.38 328.00,336.22 337.00,342.64 355.00,353.34 373.00,353.34" fill="none" stroke="#a8b830" stroke-width="0.8" stroke-opacity="0.95" stroke-linejoin="round" />
<polyline points="319.00,321.24 328.00,331.94 337.00,344.78 355.00,353.34 373.00,355.48" fill="none" stroke="#98c840" stroke-width="0.8" stroke-opacity="0.95" stroke-linejoin="round" />
<polyline points="319.00,344.78 328.00,327.66 337.00,338.36 355.00,353.34 373.00,353.34" fill="none" stroke="#70b840" stroke-width="0.8" stroke-opacity="0.95" stroke-linejoin="round" />
<polyline points="319.00,327.66 328.00,340.50 337.00,340.50 355.00,353.34 373.00,351.20" fill="none" stroke="#f0a878" stroke-width="0.8" stroke-opacity="0.95" stroke-linejoin="round" />
<polyline points="319.00,336.22 328.00,338.36 337.00,349.06 355.00,351.20 373.00,349.06" fill="none" stroke="#f4a080" stroke-width="0.8" stroke-opacity="0.95" stroke-linejoin="round" />
<polyline points="319.00,325.52 328.00,336.22 337.00,344.78 355.00,357.62 373.00,359.76" fill="none" stroke="#c8b050" stroke-width="0.8" stroke-opacity="0.95" stroke-linejoin="round" />
<polyline points="319.00,331.94 328.00,329.80 337.00,340.50 355.00,355.48 373.00,357.62" fill="none" stroke="#b0b040" stroke-width="0.8" stroke-opacity="0.95" stroke-linejoin="round" />
<polyline points="319.00,323.38 328.00,334.08 337.00,338.36 355.00,353.34 373.00,354.20" fill="none" stroke="#d0b060" stroke-width="0.8" stroke-opacity="0.95" stroke-linejoin="round" />
<rect x="316.6" y="315.4" width="59.0" height="59.0" fill="none" stroke="#8c8c8c" stroke-width="0.7"/>
<rect x="316.3" y="314.9" width="59.6" height="1.4" fill="#555"/>
<line x1="328.00" y1="374.4" x2="328.00" y2="376.2" stroke="#333" stroke-width="0.5"/>
<line x1="346.00" y1="374.4" x2="346.00" y2="376.2" stroke="#333" stroke-width="0.5"/>
<line x1="364.00" y1="374.4" x2="364.00" y2="376.2" stroke="#333" stroke-width="0.5"/>
<text transform="translate(321.70 376.9) rotate(-90)" font-family="Liberation Sans, sans-serif" font-size="8.3" fill="#222" stroke="#222" stroke-width="0.12" text-anchor="end">Day 3</text>
<text transform="translate(330.10 376.9) rotate(-90)" font-family="Liberation Sans, sans-serif" font-size="8.3" fill="#222" stroke="#222" stroke-width="0.12" text-anchor="end">Day 4</text>
<text transform="translate(340.20 376.9) rotate(-90)" font-family="Liberation Sans, sans-serif" font-size="8.3" fill="#222" stroke="#222" stroke-width="0.12" text-anchor="end">Day 5</text>
<text transform="translate(356.90 376.9) rotate(-90)" font-family="Liberation Sans, sans-serif" font-size="8.3" fill="#222" stroke="#222" stroke-width="0.12" text-anchor="end">Day 7</text>
<text transform="translate(371.60 376.9) rotate(-90)" font-family="Liberation Sans, sans-serif" font-size="8.3" fill="#222" stroke="#222" stroke-width="0.12" text-anchor="end">Day 7 fixed</text>
<rect x="379.8" y="250.8" width="59.0" height="59.30000000000001" fill="#fff"/>
<line x1="382.20" y1="250.8" x2="382.20" y2="310.1" stroke="#f1f1f1" stroke-width="0.5"/>
<line x1="400.20" y1="250.8" x2="400.20" y2="310.1" stroke="#f1f1f1" stroke-width="0.5"/>
<line x1="418.20" y1="250.8" x2="418.20" y2="310.1" stroke="#f1f1f1" stroke-width="0.5"/>
<line x1="436.20" y1="250.8" x2="436.20" y2="310.1" stroke="#f1f1f1" stroke-width="0.5"/>
<line x1="379.8" y1="296.93" x2="438.8" y2="296.93" stroke="#f1f1f1" stroke-width="0.5"/>
<line x1="379.8" y1="279.60" x2="438.8" y2="279.60" stroke="#f1f1f1" stroke-width="0.5"/>
<line x1="379.8" y1="262.27" x2="438.8" y2="262.27" stroke="#f1f1f1" stroke-width="0.5"/>
<line x1="391.20" y1="250.8" x2="391.20" y2="310.1" stroke="#e2e2e2" stroke-width="0.6"/>
<line x1="409.20" y1="250.8" x2="409.20" y2="310.1" stroke="#e2e2e2" stroke-width="0.6"/>
<line x1="427.20" y1="250.8" x2="427.20" y2="310.1" stroke="#e2e2e2" stroke-width="0.6"/>
<line x1="379.8" y1="305.60" x2="438.8" y2="305.60" stroke="#e2e2e2" stroke-width="0.6"/>
<line x1="379.8" y1="288.26" x2="438.8" y2="288.26" stroke="#e2e2e2" stroke-width="0.6"/>
<line x1="379.8" y1="270.93" x2="438.8" y2="270.93" stroke="#e2e2e2" stroke-width="0.6"/>
<line x1="379.8" y1="253.60" x2="438.8" y2="253.60" stroke="#e2e2e2" stroke-width="0.6"/>
<line x1="379.8" y1="285.49" x2="438.8" y2="285.49" stroke="#444" stroke-width="0.7" stroke-dasharray="1.1,1.1"/>
<line x1="382.20" y1="254" x2="382.20" y2="283.6" stroke="#f05050" stroke-width="1.5" stroke-opacity="0.75"/>
<line x1="391.20" y1="255.6" x2="391.20" y2="265" stroke="#f05050" stroke-width="1.5" stroke-opacity="0.75"/>
<line x1="400.20" y1="271" x2="400.20" y2="288" stroke="#f05050" stroke-width="1.5" stroke-opacity="0.75"/>
<line x1="418.20" y1="289" x2="418.20" y2="302" stroke="#f05050" stroke-width="1.5" stroke-opacity="0.75"/>
<line x1="436.20" y1="292" x2="436.20" y2="305" stroke="#f05050" stroke-width="1.5" stroke-opacity="0.75"/>
<polyline points="382.20,268.60 391.20,261.00 400.20,279.60 418.20,295.00 436.20,298.40" fill="none" stroke="#ee3030" stroke-width="1.1" stroke-opacity="1" stroke-linejoin="round" />
<circle cx="382.20" cy="268.6" r="2.25" fill="#f01010"/>
<circle cx="391.20" cy="261" r="2.25" fill="#f01010"/>
<circle cx="400.20" cy="279.6" r="2.25" fill="#f01010"/>
<circle cx="418.20" cy="295" r="2.25" fill="#f01010"/>
<circle cx="436.20" cy="298.4" r="2.25" fill="#f01010"/>
<rect x="379.8" y="250.8" width="59.0" height="59.30000000000001" fill="none" stroke="#8c8c8c" stroke-width="0.7"/>
<line x1="391.20" y1="310.1" x2="391.20" y2="311.90000000000003" stroke="#333" stroke-width="0.5"/>
<line x1="409.20" y1="310.1" x2="409.20" y2="311.90000000000003" stroke="#333" stroke-width="0.5"/>
<line x1="427.20" y1="310.1" x2="427.20" y2="311.90000000000003" stroke="#333" stroke-width="0.5"/>
<rect x="379.5" y="236.5" width="59.6" height="14.300000000000011" fill="#000"/>
<text x="409.30" y="246.70" font-family="Liberation Serif, serif" font-size="9.6" fill="#fff" stroke="#fff" stroke-width="0.18" text-anchor="middle" letter-spacing="0.25">Vinblastine</text>
<rect x="379.8" y="315.4" width="59.0" height="59.0" fill="#fff"/>
<line x1="382.20" y1="315.4" x2="382.20" y2="374.4" stroke="#f1f1f1" stroke-width="0.5"/>
<line x1="400.20" y1="315.4" x2="400.20" y2="374.4" stroke="#f1f1f1" stroke-width="0.5"/>
<line x1="418.20" y1="315.4" x2="418.20" y2="374.4" stroke="#f1f1f1" stroke-width="0.5"/>
<line x1="436.20" y1="315.4" x2="436.20" y2="374.4" stroke="#f1f1f1" stroke-width="0.5"/>
<line x1="379.8" y1="361.90" x2="438.8" y2="361.90" stroke="#f1f1f1" stroke-width="0.5"/>
<line x1="379.8" y1="344.78" x2="438.8" y2="344.78" stroke="#f1f1f1" stroke-width="0.5"/>
<line x1="379.8" y1="327.66" x2="438.8" y2="327.66" stroke="#f1f1f1" stroke-width="0.5"/>
<line x1="391.20" y1="315.4" x2="391.20" y2="374.4" stroke="#e2e2e2" stroke-width="0.6"/>
<line x1="409.20" y1="315.4" x2="409.20" y2="374.4" stroke="#e2e2e2" stroke-width="0.6"/>
<line x1="427.20" y1="315.4" x2="427.20" y2="374.4" stroke="#e2e2e2" stroke-width="0.6"/>
<line x1="379.8" y1="370.46" x2="438.8" y2="370.46" stroke="#e2e2e2" stroke-width="0.6"/>
<line x1="379.8" y1="353.34" x2="438.8" y2="353.34" stroke="#e2e2e2" stroke-width="0.6"/>
<line x1="379.8" y1="336.22" x2="438.8" y2="336.22" stroke="#e2e2e2" stroke-width="0.6"/>
<line x1="379.8" y1="319.10" x2="438.8" y2="319.10" stroke="#e2e2e2" stroke-width="0.6"/>
<line x1="379.8" y1="351.20" x2="438.8" y2="351.20" stroke="#444" stroke-width="0.7" stroke-dasharray="1.1,1.1"/>
<polyline points="382.20,323.38 391.20,321.24 400.20,344.78 418.20,349.06 436.20,361.90" fill="none" stroke="#f070c0" stroke-width="0.8" stroke-opacity="0.95" stroke-linejoin="round" />
<polyline points="382.20,325.52 391.20,323.38 400.20,336.22 418.20,366.18 436.20,368.32" fill="none" stroke="#e850b0" stroke-width="0.8" stroke-opacity="0.95" stroke-linejoin="round" />
<polyline points="382.20,344.78 391.20,323.38 400.20,349.06 418.20,361.90 436.20,366.18" fill="none" stroke="#f06898" stroke-width="0.8" stroke-opacity="0.95" stroke-linejoin="round" />
<polyline points="382.20,323.38 391.20,327.66 400.20,338.36 418.20,344.78 436.20,349.06" fill="none" stroke="#c0a0f0" stroke-width="0.8" stroke-opacity="0.95" stroke-linejoin="round" />
<polyline points="382.20,361.90 391.20,321.24 400.20,349.06 418.20,361.90 436.20,364.04" fill="none" stroke="#b890f0" stroke-width="0.8" stroke-opacity="0.95" stroke-linejoin="round" />
<polyline points="382.20,327.66 391.20,323.38 400.20,366.18 418.20,361.90 436.20,364.04" fill="none" stroke="#f48ccc" stroke-width="0.8" stroke-opacity="0.95" stroke-linejoin="round" />
<polyline points="382.20,329.80 391.20,331.94 400.20,340.50 418.20,351.20 436.20,357.62" fill="none" stroke="#d070e0" stroke-width="0.8" stroke-opacity="0.95" stroke-linejoin="round" />
<polyline points="382.20,323.38 391.20,325.52 400.20,340.50 418.20,357.62 436.20,351.20" fill="none" stroke="#f2a0d0" stroke-width="0.8" stroke-opacity="0.95" stroke-linejoin="round" />
<rect x="379.8" y="315.4" width="59.0" height="59.0" fill="none" stroke="#8c8c8c" stroke-width="0.7"/>
<rect x="379.5" y="314.9" width="59.6" height="1.4" fill="#555"/>
<line x1="391.20" y1="374.4" x2="391.20" y2="376.2" stroke="#333" stroke-width="0.5"/>
<line x1="409.20" y1="374.4" x2="409.20" y2="376.2" stroke="#333" stroke-width="0.5"/>
<line x1="427.20" y1="374.4" x2="427.20" y2="376.2" stroke="#333" stroke-width="0.5"/>
<text transform="translate(384.90 376.9) rotate(-90)" font-family="Liberation Sans, sans-serif" font-size="8.3" fill="#222" stroke="#222" stroke-width="0.12" text-anchor="end">Day 3</text>
<text transform="translate(393.30 376.9) rotate(-90)" font-family="Liberation Sans, sans-serif" font-size="8.3" fill="#222" stroke="#222" stroke-width="0.12" text-anchor="end">Day 4</text>
<text transform="translate(403.40 376.9) rotate(-90)" font-family="Liberation Sans, sans-serif" font-size="8.3" fill="#222" stroke="#222" stroke-width="0.12" text-anchor="end">Day 5</text>
<text transform="translate(420.10 376.9) rotate(-90)" font-family="Liberation Sans, sans-serif" font-size="8.3" fill="#222" stroke="#222" stroke-width="0.12" text-anchor="end">Day 7</text>
<text transform="translate(434.80 376.9) rotate(-90)" font-family="Liberation Sans, sans-serif" font-size="8.3" fill="#222" stroke="#222" stroke-width="0.12" text-anchor="end">Day 7 fixed</text>
<text x="251.4" y="308.00" font-family="Liberation Sans, sans-serif" font-size="6.8" fill="#333" stroke="#333" stroke-width="0.22" text-anchor="end">0.08</text>
<line x1="252" y1="305.60" x2="254" y2="305.60" stroke="#333" stroke-width="0.5"/>
<text x="251.4" y="290.66" font-family="Liberation Sans, sans-serif" font-size="6.8" fill="#333" stroke="#333" stroke-width="0.22" text-anchor="end">0.12</text>
<line x1="252" y1="288.26" x2="254" y2="288.26" stroke="#333" stroke-width="0.5"/>
<text x="251.4" y="273.33" font-family="Liberation Sans, sans-serif" font-size="6.8" fill="#333" stroke="#333" stroke-width="0.22" text-anchor="end">0.16</text>
<line x1="252" y1="270.93" x2="254" y2="270.93" stroke="#333" stroke-width="0.5"/>
<text x="251.4" y="256.00" font-family="Liberation Sans, sans-serif" font-size="6.8" fill="#333" stroke="#333" stroke-width="0.22" text-anchor="end">0.20</text>
<line x1="252" y1="253.60" x2="254" y2="253.60" stroke="#333" stroke-width="0.5"/>
<text x="251.4" y="372.86" font-family="Liberation Sans, sans-serif" font-size="6.8" fill="#333" stroke="#333" stroke-width="0.22" text-anchor="end">0.08</text>
<line x1="252" y1="370.46" x2="254" y2="370.46" stroke="#333" stroke-width="0.5"/>
<text x="251.4" y="355.74" font-family="Liberation Sans, sans-serif" font-size="6.8" fill="#333" stroke="#333" stroke-width="0.22" text-anchor="end">0.12</text>
<line x1="252" y1="353.34" x2="254" y2="353.34" stroke="#333" stroke-width="0.5"/>
<text x="251.4" y="338.62" font-family="Liberation Sans, sans-serif" font-size="6.8" fill="#333" stroke="#333" stroke-width="0.22" text-anchor="end">0.16</text>
<line x1="252" y1="336.22" x2="254" y2="336.22" stroke="#333" stroke-width="0.5"/>
<text x="251.4" y="321.50" font-family="Liberation Sans, sans-serif" font-size="6.8" fill="#333" stroke="#333" stroke-width="0.22" text-anchor="end">0.20</text>
<line x1="252" y1="319.10" x2="254" y2="319.10" stroke="#333" stroke-width="0.5"/>
<text x="418.2" y="286.6" font-family="Liberation Sans, sans-serif" font-size="8.5" font-weight="bold" fill="#333" text-anchor="middle">*</text>
<text x="436.2" y="292.4" font-family="Liberation Sans, sans-serif" font-size="8.5" font-weight="bold" fill="#333" text-anchor="middle">*</text>
<text x="453.9" y="226.9" font-family="Liberation Serif, serif" font-weight="bold" font-size="9" letter-spacing="0.5">(d)</text>
<g clip-path="url(#dc1)"><rect x="454.8" y="247.3" width="42.3" height="42.2" fill="url(#bfbg)"/>
<circle cx="484.9" cy="265.2" r="8.4" fill="url(#sph)" filter="url(#bl05)"/>
<circle cx="455.1" cy="276.2" r="7.6" fill="url(#sph)" filter="url(#bl05)"/>
<circle cx="468.7" cy="286.6" r="6.5" fill="url(#sph)" filter="url(#bl05)"/>
<circle cx="492.6" cy="284" r="7.1" fill="url(#sph)" filter="url(#bl05)"/>
</g>
<g clip-path="url(#dc2)"><rect x="500.1" y="247.5" width="42.6" height="42.2" fill="#000"/>
<circle cx="530.3" cy="265.2" r="8.2" fill="url(#heatA)"/>
<circle cx="500.5" cy="276.2" r="7.5" fill="url(#heatA)"/>
<circle cx="514.1" cy="287.9" r="5.9" fill="url(#heatB)"/>
<circle cx="537.7" cy="284" r="6" fill="url(#heatB)"/>
</g>
<g clip-path="url(#dc3)"><rect x="454.8" y="295.8" width="42.3" height="42" fill="url(#bfbg)"/>
<g filter="url(#bl1)" fill="#3a3a3a"><ellipse cx="460" cy="302.3" rx="3.6" ry="4.8" fill-opacity="0.8"/><ellipse cx="465.5" cy="305.8" rx="4.3" ry="4.6" fill-opacity="0.85"/><circle cx="463" cy="299" r="2.5" fill-opacity="0.6"/><ellipse cx="481.5" cy="297.8" rx="4.4" ry="3.2" fill-opacity="0.8"/><ellipse cx="494.5" cy="312" rx="4.2" ry="6.5" fill-opacity="0.9"/><circle cx="471.3" cy="324.8" r="3.8" fill-opacity="0.9"/><circle cx="476" cy="299" r="1.4" fill-opacity="0.5"/><circle cx="490" cy="325" r="1.2" fill-opacity="0.4"/><circle cx="474" cy="329" r="1.5" fill-opacity="0.45"/></g>
</g>
<g clip-path="url(#dc4)"><rect x="500.1" y="295.8" width="42.6" height="42" fill="#000"/>
<path d="M502 300 C504 296 512 295.5 516 298 C518 301 517.5 306 516 310 C513 312.5 507 312 505 308 C502 306 500 303 502 300Z" fill="#ff00ff"/>
<path d="M504 301 C506 298 512 298 514.5 300 C515.5 303 515 306 513.5 308.5 C511 310 507.5 309.5 506 307 C504 305 503 303 504 301Z" fill="#40f040"/>
<ellipse cx="509.2" cy="303.5" rx="3.6" ry="3.4" fill="#f0d000"/><ellipse cx="509" cy="303.3" rx="2.2" ry="2" fill="#ff1000"/>
<circle cx="528.3" cy="297.7" r="3.6" fill="url(#heatB)"/>
<circle cx="517" cy="325.3" r="4.8" fill="url(#heatC)"/>
<circle cx="541.5" cy="312" r="7.6" fill="url(#heatC)"/>
</g>
<rect x="450.6" y="246.80" width="2.6" height="1" fill="#b0b0b0"/>
<line x1="453.90000000000003" y1="247.30" x2="454.8" y2="247.30" stroke="#888" stroke-width="0.3"/>
<rect x="450.6" y="255.24" width="2.6" height="1" fill="#b0b0b0"/>
<line x1="453.90000000000003" y1="255.74" x2="454.8" y2="255.74" stroke="#888" stroke-width="0.3"/>
<rect x="450.6" y="263.68" width="2.6" height="1" fill="#b0b0b0"/>
<line x1="453.90000000000003" y1="264.18" x2="454.8" y2="264.18" stroke="#888" stroke-width="0.3"/>
<rect x="450.6" y="272.12" width="2.6" height="1" fill="#b0b0b0"/>
<line x1="453.90000000000003" y1="272.62" x2="454.8" y2="272.62" stroke="#888" stroke-width="0.3"/>
<rect x="450.6" y="280.56" width="2.6" height="1" fill="#b0b0b0"/>
<line x1="453.90000000000003" y1="281.06" x2="454.8" y2="281.06" stroke="#888" stroke-width="0.3"/>
<rect x="450.6" y="289.00" width="2.6" height="1" fill="#b0b0b0"/>
<line x1="453.90000000000003" y1="289.50" x2="454.8" y2="289.50" stroke="#888" stroke-width="0.3"/>
<rect x="453.50" y="291.3" width="2.6" height="1" fill="#b0b0b0"/>
<line x1="454.80" y1="289.5" x2="454.80" y2="290.4" stroke="#888" stroke-width="0.3"/>
<rect x="461.96" y="291.3" width="2.6" height="1" fill="#b0b0b0"/>
<line x1="463.26" y1="289.5" x2="463.26" y2="290.4" stroke="#888" stroke-width="0.3"/>
<rect x="470.42" y="291.3" width="2.6" height="1" fill="#b0b0b0"/>
<line x1="471.72" y1="289.5" x2="471.72" y2="290.4" stroke="#888" stroke-width="0.3"/>
<rect x="478.88" y="291.3" width="2.6" height="1" fill="#b0b0b0"/>
<line x1="480.18" y1="289.5" x2="480.18" y2="290.4" stroke="#888" stroke-width="0.3"/>
<rect x="487.34" y="291.3" width="2.6" height="1" fill="#b0b0b0"/>
<line x1="488.64" y1="289.5" x2="488.64" y2="290.4" stroke="#888" stroke-width="0.3"/>
<rect x="495.80" y="291.3" width="2.6" height="1" fill="#b0b0b0"/>
<line x1="497.10" y1="289.5" x2="497.10" y2="290.4" stroke="#888" stroke-width="0.3"/>
<rect x="495.90000000000003" y="247.00" width="2.6" height="1" fill="#b0b0b0"/>
<line x1="499.20000000000005" y1="247.50" x2="500.1" y2="247.50" stroke="#888" stroke-width="0.3"/>
<rect x="495.90000000000003" y="255.44" width="2.6" height="1" fill="#b0b0b0"/>
<line x1="499.20000000000005" y1="255.94" x2="500.1" y2="255.94" stroke="#888" stroke-width="0.3"/>
<rect x="495.90000000000003" y="263.88" width="2.6" height="1" fill="#b0b0b0"/>
<line x1="499.20000000000005" y1="264.38" x2="500.1" y2="264.38" stroke="#888" stroke-width="0.3"/>
<rect x="495.90000000000003" y="272.32" width="2.6" height="1" fill="#b0b0b0"/>
<line x1="499.20000000000005" y1="272.82" x2="500.1" y2="272.82" stroke="#888" stroke-width="0.3"/>
<rect x="495.90000000000003" y="280.76" width="2.6" height="1" fill="#b0b0b0"/>
<line x1="499.20000000000005" y1="281.26" x2="500.1" y2="281.26" stroke="#888" stroke-width="0.3"/>
<rect x="495.90000000000003" y="289.20" width="2.6" height="1" fill="#b0b0b0"/>
<line x1="499.20000000000005" y1="289.70" x2="500.1" y2="289.70" stroke="#888" stroke-width="0.3"/>
<rect x="498.80" y="291.5" width="2.6" height="1" fill="#b0b0b0"/>
<line x1="500.10" y1="289.7" x2="500.10" y2="290.59999999999997" stroke="#888" stroke-width="0.3"/>
<rect x="507.32" y="291.5" width="2.6" height="1" fill="#b0b0b0"/>
<line x1="508.62" y1="289.7" x2="508.62" y2="290.59999999999997" stroke="#888" stroke-width="0.3"/>
<rect x="515.84" y="291.5" width="2.6" height="1" fill="#b0b0b0"/>
<line x1="517.14" y1="289.7" x2="517.14" y2="290.59999999999997" stroke="#888" stroke-width="0.3"/>
<rect x="524.36" y="291.5" width="2.6" height="1" fill="#b0b0b0"/>
<line x1="525.66" y1="289.7" x2="525.66" y2="290.59999999999997" stroke="#888" stroke-width="0.3"/>
<rect x="532.88" y="291.5" width="2.6" height="1" fill="#b0b0b0"/>
<line x1="534.18" y1="289.7" x2="534.18" y2="290.59999999999997" stroke="#888" stroke-width="0.3"/>
<rect x="541.40" y="291.5" width="2.6" height="1" fill="#b0b0b0"/>
<line x1="542.70" y1="289.7" x2="542.70" y2="290.59999999999997" stroke="#888" stroke-width="0.3"/>
<rect x="450.6" y="295.30" width="2.6" height="1" fill="#b0b0b0"/>
<line x1="453.90000000000003" y1="295.80" x2="454.8" y2="295.80" stroke="#888" stroke-width="0.3"/>
<rect x="450.6" y="303.70" width="2.6" height="1" fill="#b0b0b0"/>
<line x1="453.90000000000003" y1="304.20" x2="454.8" y2="304.20" stroke="#888" stroke-width="0.3"/>
<rect x="450.6" y="312.10" width="2.6" height="1" fill="#b0b0b0"/>
<line x1="453.90000000000003" y1="312.60" x2="454.8" y2="312.60" stroke="#888" stroke-width="0.3"/>
<rect x="450.6" y="320.50" width="2.6" height="1" fill="#b0b0b0"/>
<line x1="453.90000000000003" y1="321.00" x2="454.8" y2="321.00" stroke="#888" stroke-width="0.3"/>
<rect x="450.6" y="328.90" width="2.6" height="1" fill="#b0b0b0"/>
<line x1="453.90000000000003" y1="329.40" x2="454.8" y2="329.40" stroke="#888" stroke-width="0.3"/>
<rect x="450.6" y="337.30" width="2.6" height="1" fill="#b0b0b0"/>
<line x1="453.90000000000003" y1="337.80" x2="454.8" y2="337.80" stroke="#888" stroke-width="0.3"/>
<rect x="453.50" y="339.6" width="2.6" height="1" fill="#b0b0b0"/>
<line x1="454.80" y1="337.8" x2="454.80" y2="338.7" stroke="#888" stroke-width="0.3"/>
<rect x="461.96" y="339.6" width="2.6" height="1" fill="#b0b0b0"/>
<line x1="463.26" y1="337.8" x2="463.26" y2="338.7" stroke="#888" stroke-width="0.3"/>
<rect x="470.42" y="339.6" width="2.6" height="1" fill="#b0b0b0"/>
<line x1="471.72" y1="337.8" x2="471.72" y2="338.7" stroke="#888" stroke-width="0.3"/>
<rect x="478.88" y="339.6" width="2.6" height="1" fill="#b0b0b0"/>
<line x1="480.18" y1="337.8" x2="480.18" y2="338.7" stroke="#888" stroke-width="0.3"/>
<rect x="487.34" y="339.6" width="2.6" height="1" fill="#b0b0b0"/>
<line x1="488.64" y1="337.8" x2="488.64" y2="338.7" stroke="#888" stroke-width="0.3"/>
<rect x="495.80" y="339.6" width="2.6" height="1" fill="#b0b0b0"/>
<line x1="497.10" y1="337.8" x2="497.10" y2="338.7" stroke="#888" stroke-width="0.3"/>
<rect x="495.90000000000003" y="295.30" width="2.6" height="1" fill="#b0b0b0"/>
<line x1="499.20000000000005" y1="295.80" x2="500.1" y2="295.80" stroke="#888" stroke-width="0.3"/>
<rect x="495.90000000000003" y="303.70" width="2.6" height="1" fill="#b0b0b0"/>
<line x1="499.20000000000005" y1="304.20" x2="500.1" y2="304.20" stroke="#888" stroke-width="0.3"/>
<rect x="495.90000000000003" y="312.10" width="2.6" height="1" fill="#b0b0b0"/>
<line x1="499.20000000000005" y1="312.60" x2="500.1" y2="312.60" stroke="#888" stroke-width="0.3"/>
<rect x="495.90000000000003" y="320.50" width="2.6" height="1" fill="#b0b0b0"/>
<line x1="499.20000000000005" y1="321.00" x2="500.1" y2="321.00" stroke="#888" stroke-width="0.3"/>
<rect x="495.90000000000003" y="328.90" width="2.6" height="1" fill="#b0b0b0"/>
<line x1="499.20000000000005" y1="329.40" x2="500.1" y2="329.40" stroke="#888" stroke-width="0.3"/>
<rect x="495.90000000000003" y="337.30" width="2.6" height="1" fill="#b0b0b0"/>
<line x1="499.20000000000005" y1="337.80" x2="500.1" y2="337.80" stroke="#888" stroke-width="0.3"/>
<rect x="498.80" y="339.6" width="2.6" height="1" fill="#b0b0b0"/>
<line x1="500.10" y1="337.8" x2="500.10" y2="338.7" stroke="#888" stroke-width="0.3"/>
<rect x="507.32" y="339.6" width="2.6" height="1" fill="#b0b0b0"/>
<line x1="508.62" y1="337.8" x2="508.62" y2="338.7" stroke="#888" stroke-width="0.3"/>
<rect x="515.84" y="339.6" width="2.6" height="1" fill="#b0b0b0"/>
<line x1="517.14" y1="337.8" x2="517.14" y2="338.7" stroke="#888" stroke-width="0.3"/>
<rect x="524.36" y="339.6" width="2.6" height="1" fill="#b0b0b0"/>
<line x1="525.66" y1="337.8" x2="525.66" y2="338.7" stroke="#888" stroke-width="0.3"/>
<rect x="532.88" y="339.6" width="2.6" height="1" fill="#b0b0b0"/>
<line x1="534.18" y1="337.8" x2="534.18" y2="338.7" stroke="#888" stroke-width="0.3"/>
<rect x="541.40" y="339.6" width="2.6" height="1" fill="#b0b0b0"/>
<line x1="542.70" y1="337.8" x2="542.70" y2="338.7" stroke="#888" stroke-width="0.3"/>
<text x="452" y="356.1" font-family="Liberation Serif, serif" font-weight="bold" font-size="7.3" fill="#1a1a1a" stroke="#1a1a1a" stroke-width="0.15" letter-spacing="-0.1">Fraction of</text>
<text x="452" y="363.6" font-family="Liberation Serif, serif" font-weight="bold" font-size="7.3" fill="#1a1a1a" stroke="#1a1a1a" stroke-width="0.15" letter-spacing="-0.1">Intensity at</text>
<text x="452" y="371.5" font-family="Liberation Serif, serif" font-weight="bold" font-size="7.3" fill="#1a1a1a" stroke="#1a1a1a" stroke-width="0.15" letter-spacing="-0.1">Distance</text>
<g filter="url(#bl05)">
<path d="M488.70 354.60 L493.30 349.90 L497.40 351.10 L502.00 347.00 L507.90 347.00 L513.70 342.90 L518.90 347.60 L525.30 344.70 L530.60 348.10 L536.40 348.70 L539.90 351.60 L542.20 352.80 L541.00 358.60 L543.40 363.30 L546.30 370.30 L543.40 373.80 L538.70 373.80 L535.80 377.30 L530.60 375.50 L524.20 379.00 L518.90 375.50 L511.90 380.70 L507.90 383.70 L505.50 378.40 L499.10 375.50 L495.60 371.40 L488.70 369.70 L491.00 363.90 L487.50 358.60Z" fill="#1c1c1c" stroke="#1c1c1c" stroke-width="0.6" stroke-linejoin="round"/>
<path d="M494.46 356.08 L498.14 352.32 L501.42 353.28 L505.10 350.00 L509.82 350.00 L514.46 346.72 L518.62 350.48 L523.74 348.16 L527.98 350.88 L532.62 351.36 L535.42 353.68 L537.26 354.64 L536.30 359.28 L538.22 363.04 L540.54 368.64 L538.22 371.44 L534.46 371.44 L532.14 374.24 L527.98 372.80 L522.86 375.60 L518.62 372.80 L513.02 376.96 L509.82 379.36 L507.90 375.12 L502.78 372.80 L499.98 369.52 L494.46 368.16 L496.30 363.52 L493.50 359.28Z" fill="#6c6c6c"/>
<path d="M496.10 356.52 L499.50 353.05 L502.54 353.93 L505.94 350.90 L510.31 350.90 L514.60 347.87 L518.45 351.34 L523.18 349.20 L527.10 351.71 L531.40 352.16 L533.99 354.30 L535.69 355.19 L534.80 359.48 L536.58 362.96 L538.72 368.14 L536.58 370.73 L533.10 370.73 L530.95 373.32 L527.10 371.99 L522.37 374.58 L518.45 371.99 L513.27 375.84 L510.31 378.06 L508.53 374.14 L503.79 371.99 L501.20 368.96 L496.10 367.70 L497.80 363.41 L495.21 359.48Z" fill="#a4a4a4"/>
<path d="M498.28 357.12 L501.32 354.01 L504.02 354.81 L507.06 352.10 L510.95 352.10 L514.78 349.39 L518.21 352.50 L522.44 350.58 L525.94 352.83 L529.76 353.22 L532.07 355.14 L533.59 355.93 L532.80 359.76 L534.38 362.86 L536.30 367.48 L534.38 369.79 L531.28 369.79 L529.37 372.10 L525.94 370.91 L521.71 373.22 L518.21 370.91 L513.59 374.34 L510.95 376.32 L509.37 372.82 L505.15 370.91 L502.84 368.20 L498.28 367.08 L499.80 363.25 L497.49 359.76Z" fill="#d0d0d0"/>
<path d="M499.1 361 L503 356 L507.3 352.8 L514.3 351.6 L522.4 353.4 L527 356.5 L530 360.4 L527 363.5 L522.4 366.8 L516 369 L511.9 371.4 L508 368.5 L503.8 367.4Z" fill="#2b76c8" stroke="#2b76c8" stroke-width="1" stroke-linejoin="round"/>
<path d="M502.48 361.00 L505.60 357.00 L509.04 354.44 L514.64 353.48 L521.12 354.92 L524.80 357.40 L527.20 360.52 L524.80 363.00 L521.12 365.64 L516.00 367.40 L512.72 369.32 L509.60 367.00 L506.24 366.12Z" fill="#3a86d6"/>
<path d="M506.6 362.8 C506.6 358.5 509.5 356.9 514.5 356.9 C519.5 356.9 522.6 358.8 522.6 361 C522.6 362.6 521 363.4 518 363.4 Z" fill="#e8681e"/>
</g>
<rect x="513.3" y="357.4" width="1" height="5.6" fill="#3a1a0a"/>
<text x="526.3" y="363.8" font-family="Liberation Serif, serif" font-size="7.2" fill="#0e2a50" text-anchor="middle">2</text>
<text x="533.4" y="363.8" font-family="Liberation Serif, serif" font-size="7.2" fill="#222" text-anchor="middle">3</text>
<text x="539.2" y="363.8" font-family="Liberation Serif, serif" font-size="7.2" fill="#bbb" text-anchor="middle">4</text>
</svg>
</body></html>
